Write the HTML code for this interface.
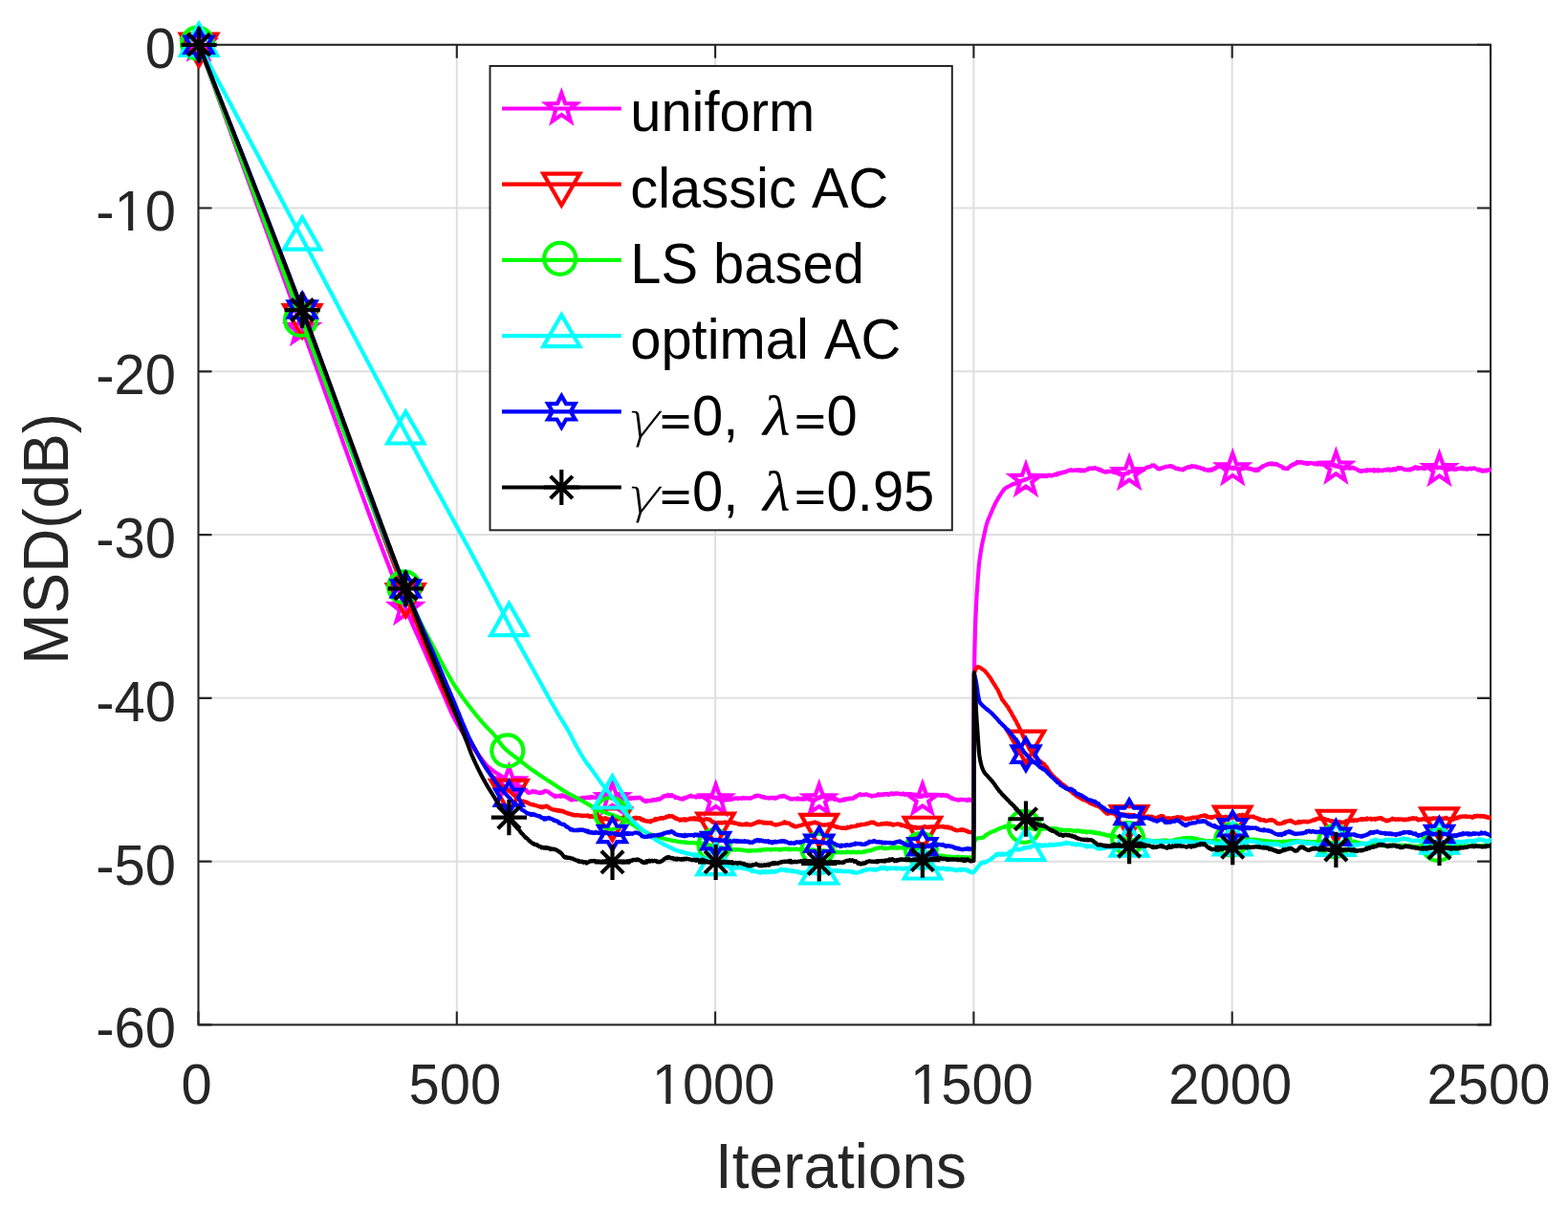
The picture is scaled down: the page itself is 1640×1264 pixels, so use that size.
<!DOCTYPE html>
<html lang="en">
<head>
<meta charset="utf-8">
<title>MSD(dB) versus Iterations</title>
<style>
html,body{margin:0;padding:0;background:#ffffff;}
body{width:1640px;height:1264px;overflow:hidden;}
svg{display:block;}
text{font-kerning:none;}
</style>
</head>
<body>
<svg width="1640" height="1264" viewBox="0 0 1640 1264" role="img" aria-label="MSD(dB) versus Iterations">
<rect x="0" y="0" width="1640" height="1264" fill="#ffffff"/>
<path d="M477.80 46.80V1071.40M748.10 46.80V1071.40M1018.40 46.80V1071.40M1288.70 46.80V1071.40M207.50 217.57H1559.00M207.50 388.33H1559.00M207.50 559.10H1559.00M207.50 729.87H1559.00M207.50 900.63H1559.00" stroke="#dfdfdf" stroke-width="2" fill="none"/>
<path d="M207.50 1071.40v-14.00M207.50 46.80v14.00M477.80 1071.40v-14.00M477.80 46.80v14.00M748.10 1071.40v-14.00M748.10 46.80v14.00M1018.40 1071.40v-14.00M1018.40 46.80v14.00M1288.70 1071.40v-14.00M1288.70 46.80v14.00M1559.00 1071.40v-14.00M1559.00 46.80v14.00M207.50 46.80h14.00M1559.00 46.80h-14.00M207.50 217.57h14.00M1559.00 217.57h-14.00M207.50 388.33h14.00M1559.00 388.33h-14.00M207.50 559.10h14.00M1559.00 559.10h-14.00M207.50 729.87h14.00M1559.00 729.87h-14.00M207.50 900.63h14.00M1559.00 900.63h-14.00M207.50 1071.40h14.00M1559.00 1071.40h-14.00" stroke="#262626" stroke-width="2.1" fill="none"/>
<rect x="207.50" y="46.80" width="1351.50" height="1024.60" fill="none" stroke="#262626" stroke-width="2.1"/>
<g font-family='"Liberation Sans", sans-serif' font-size="57.90" fill="#262626">
<text transform="translate(205.50 1154.10) scale(1 1.030)" text-anchor="middle">0</text>
<text transform="translate(475.80 1154.10) scale(1 1.030)" text-anchor="middle">500</text>
<text transform="translate(746.10 1154.10) scale(1 1.030)" text-anchor="middle">1000</text>
<text transform="translate(1016.40 1154.10) scale(1 1.030)" text-anchor="middle">1500</text>
<text transform="translate(1286.70 1154.10) scale(1 1.030)" text-anchor="middle">2000</text>
<text transform="translate(1557.00 1154.10) scale(1 1.030)" text-anchor="middle">2500</text>
<text transform="translate(183.90 70.70) scale(1 1.030)" text-anchor="end">0</text>
<text transform="translate(183.90 241.47) scale(1 1.030)" text-anchor="end">-10</text>
<text transform="translate(183.90 412.23) scale(1 1.030)" text-anchor="end">-20</text>
<text transform="translate(183.90 583.00) scale(1 1.030)" text-anchor="end">-30</text>
<text transform="translate(183.90 753.77) scale(1 1.030)" text-anchor="end">-40</text>
<text transform="translate(183.90 924.53) scale(1 1.030)" text-anchor="end">-50</text>
<text transform="translate(183.90 1095.30) scale(1 1.030)" text-anchor="end">-60</text>
</g>
<rect x="684.03" y="1148.30" width="12.29" height="7" fill="#ffffff"/><rect x="701.45" y="1148.30" width="12.11" height="7" fill="#ffffff"/>
<rect x="954.33" y="1148.30" width="12.29" height="7" fill="#ffffff"/><rect x="971.75" y="1148.30" width="12.11" height="7" fill="#ffffff"/>
<rect x="121.83" y="235.67" width="12.29" height="7" fill="#ffffff"/><rect x="139.25" y="235.67" width="12.11" height="7" fill="#ffffff"/>
<text transform="translate(879.50 1241.80) scale(1 1.030)" text-anchor="middle" font-family='"Liberation Sans", sans-serif' font-size="63.90" fill="#262626">Iterations</text>
<text transform="translate(71.30 563.30) rotate(-90) scale(1 1.030)" text-anchor="middle" font-family='"Liberation Sans", sans-serif' font-size="63.90" fill="#262626">MSD(dB)</text>
<defs><clipPath id="ax"><rect x="206.50" y="45.80" width="1353.50" height="1026.60"/></clipPath></defs>
<g>
<path clip-path="url(#ax)" d="M208.0 46.8L208.6 48.3L209.1 49.8L209.7 51.3L210.2 52.7L210.7 54.2L211.3 55.7L211.8 57.2L212.4 58.7L212.9 60.2L213.4 61.7L214.0 63.1L214.5 64.6L215.1 66.1L215.6 67.6L216.1 69.1L216.7 70.6L217.2 72.1L217.8 73.6L218.3 75.0L218.9 76.5L219.4 78.0L219.9 79.5L220.5 81.0L221.0 82.5L221.6 84.0L222.1 85.5L222.6 87.0L223.2 88.4L223.7 89.9L224.3 91.4L224.8 92.9L225.3 94.4L225.9 95.9L226.4 97.4L227.0 98.9L227.5 100.4L228.0 101.8L228.6 103.3L229.1 104.8L229.7 106.3L230.2 107.8L230.7 109.3L231.3 110.8L231.8 112.3L232.4 113.8L232.9 115.2L233.4 116.7L234.0 118.2L234.5 119.7L235.1 121.2L235.6 122.7L236.2 124.2L236.7 125.7L237.2 127.2L237.8 128.7L238.3 130.1L238.9 131.6L239.4 133.1L239.9 134.6L240.5 136.1L241.0 137.6L241.6 139.1L242.1 140.6L242.6 142.1L243.2 143.6L243.7 145.0L244.3 146.5L244.8 148.0L245.3 149.5L245.9 151.0L246.4 152.5L247.0 154.0L247.5 155.5L248.0 157.0L248.6 158.5L249.1 159.9L249.7 161.4L250.2 162.9L250.7 164.4L251.3 165.9L251.8 167.4L252.4 168.9L252.9 170.4L253.5 171.9L254.0 173.4L254.5 174.8L255.1 176.3L255.6 177.8L256.2 179.3L256.7 180.8L257.2 182.3L257.8 183.8L258.3 185.3L258.9 186.8L259.4 188.2L259.9 189.7L260.5 191.2L261.0 192.7L261.6 194.2L262.1 195.7L262.6 197.2L263.2 198.7L263.7 200.2L264.3 201.6L264.8 203.1L265.3 204.6L265.9 206.1L266.4 207.6L267.0 209.1L267.5 210.6L268.0 212.1L268.6 213.6L269.1 215.0L269.7 216.5L270.2 218.0L270.8 219.5L271.3 221.0L271.8 222.5L272.4 224.0L272.9 225.5L273.5 226.9L274.0 228.4L274.5 229.9L275.1 231.4L275.6 232.9L276.2 234.4L276.7 235.9L277.2 237.3L277.8 238.8L278.3 240.3L278.9 241.8L279.4 243.3L279.9 244.8L280.5 246.3L281.0 247.7L281.6 249.2L282.1 250.7L282.6 252.2L283.2 253.7L283.7 255.2L284.3 256.7L284.8 258.1L285.3 259.6L285.9 261.1L286.4 262.6L287.0 264.1L287.5 265.6L288.0 267.0L288.6 268.5L289.1 270.0L289.7 271.5L290.2 273.0L290.8 274.5L291.3 275.9L291.8 277.4L292.4 278.9L292.9 280.4L293.5 281.9L294.0 283.4L294.5 284.8L295.1 286.3L295.6 287.8L296.2 289.3L296.7 290.8L297.2 292.2L297.8 293.7L298.3 295.2L298.9 296.7L299.4 298.2L299.9 299.6L300.5 301.1L301.0 302.6L301.6 304.1L302.1 305.6L302.6 307.0L303.2 308.5L303.7 310.0L304.3 311.5L304.8 313.0L305.3 314.4L305.9 315.9L306.4 317.4L307.0 318.9L307.5 320.3L308.1 321.8L308.6 323.3L309.1 324.8L309.7 326.2L310.2 327.7L310.8 329.2L311.3 330.7L311.8 332.1L312.4 333.6L312.9 335.1L313.5 336.6L314.0 338.0L314.5 339.5L315.1 341.0L315.6 342.5L316.2 343.9L316.7 345.4L317.2 346.9L317.8 348.4L318.3 349.8L318.9 351.3L319.4 352.8L319.9 354.3L320.5 355.8L321.0 357.2L321.6 358.7L322.1 360.2L322.6 361.7L323.2 363.2L323.7 364.7L324.3 366.2L324.8 367.6L325.4 369.1L325.9 370.6L326.4 372.1L327.0 373.6L327.5 375.1L328.1 376.6L328.6 378.1L329.1 379.6L329.7 381.1L330.2 382.6L330.8 384.1L331.3 385.6L331.8 387.1L332.4 388.6L332.9 390.1L333.5 391.6L334.0 393.1L334.5 394.6L335.1 396.1L335.6 397.6L336.2 399.1L336.7 400.6L337.2 402.1L337.8 403.6L338.3 405.1L338.9 406.6L339.4 408.1L339.9 409.6L340.5 411.2L341.0 412.7L341.6 414.2L342.1 415.7L342.6 417.2L343.2 418.7L343.7 420.2L344.3 421.7L344.8 423.2L345.4 424.7L345.9 426.2L346.4 427.8L347.0 429.3L347.5 430.8L348.1 432.3L348.6 433.8L349.1 435.3L349.7 436.8L350.2 438.3L350.8 439.8L351.3 441.4L351.8 442.9L352.4 444.4L352.9 445.9L353.5 447.4L354.0 448.9L354.5 450.4L355.1 451.9L355.6 453.4L356.2 454.9L356.7 456.4L357.2 458.0L357.8 459.5L358.3 461.0L358.9 462.5L359.4 464.0L359.9 465.5L360.5 467.0L361.0 468.5L361.6 470.0L362.1 471.5L362.7 473.0L363.2 474.5L363.7 476.0L364.3 477.5L364.8 479.0L365.4 480.5L365.9 482.0L366.4 483.5L367.0 485.0L367.5 486.5L368.1 488.0L368.6 489.5L369.1 491.0L369.7 492.5L370.2 494.0L370.8 495.5L371.3 497.0L371.8 498.5L372.4 500.0L372.9 501.5L373.5 503.0L374.0 504.4L374.5 505.9L375.1 507.4L375.6 508.9L376.2 510.4L376.7 511.9L377.2 513.4L377.8 514.8L378.3 516.3L378.9 517.8L379.4 519.3L380.0 520.8L380.5 522.2L381.0 523.7L381.6 525.2L382.1 526.7L382.7 528.1L383.2 529.6L383.7 531.1L384.3 532.5L384.8 534.0L385.4 535.5L385.9 536.9L386.4 538.4L387.0 539.8L387.5 541.3L388.1 542.8L388.6 544.2L389.1 545.7L389.7 547.1L390.2 548.6L390.8 550.0L391.3 551.5L391.8 552.9L392.4 554.4L392.9 555.8L393.5 557.2L394.0 558.7L394.5 560.1L395.1 561.6L395.6 563.0L396.2 564.4L396.7 565.9L397.3 567.3L397.8 568.7L398.3 570.1L398.9 571.6L399.4 573.0L400.0 574.4L400.5 575.8L401.0 577.2L401.6 578.6L402.1 580.1L402.7 581.5L403.2 582.9L403.7 584.3L404.3 585.7L404.8 587.1L405.4 588.5L405.9 589.9L406.4 591.3L407.0 592.7L407.5 594.1L408.1 595.4L408.6 596.8L409.1 598.2L409.7 599.6L410.2 601.0L410.8 602.3L411.3 603.7L411.8 605.1L412.4 606.5L412.9 607.8L413.5 609.2L414.0 610.6L414.5 611.9L415.1 613.3L415.6 614.6L416.2 616.0L416.7 617.3L417.3 618.7L417.8 620.0L418.3 621.4L418.9 622.7L419.4 624.0L420.0 625.4L420.5 626.7L421.0 628.0L421.6 629.4L422.1 630.7L422.7 632.0L423.2 633.3L423.7 634.6L424.3 635.9L424.8 637.3L425.4 638.5L425.9 639.8L426.4 641.1L427.0 642.4L427.5 643.7L428.1 644.9L428.6 646.2L429.1 647.4L429.7 648.7L430.2 649.9L430.8 651.2L431.3 652.4L431.8 653.6L432.4 654.8L432.9 656.1L433.5 657.3L434.0 658.5L434.6 659.7L435.1 660.9L435.6 662.1L436.2 663.3L436.7 664.5L437.3 665.7L437.8 666.9L438.3 668.1L438.9 669.3L439.4 670.6L440.0 671.8L440.5 673.0L441.0 674.2L441.6 675.4L442.1 676.6L442.7 677.8L443.2 679.0L443.7 680.2L444.3 681.5L444.8 682.7L445.4 683.9L445.9 685.1L446.4 686.4L447.0 687.6L447.5 688.8L448.1 690.1L448.6 691.3L449.1 692.6L449.7 693.8L450.2 695.0L450.8 696.3L451.3 697.5L451.9 698.8L452.4 700.0L452.9 701.3L453.5 702.5L454.0 703.7L454.6 705.0L455.1 706.2L455.6 707.5L456.2 708.7L456.7 709.9L457.3 711.2L457.8 712.4L458.3 713.7L458.9 714.9L459.4 716.1L460.0 717.4L460.5 718.6L461.0 719.8L461.6 721.1L462.1 722.3L462.7 723.5L463.2 724.7L463.7 726.0L464.3 727.2L464.8 728.4L465.4 729.6L465.9 730.9L466.4 732.1L467.0 733.4L467.5 734.6L468.1 735.9L468.6 737.2L469.2 738.4L469.7 739.7L470.2 741.0L470.8 742.2L471.3 743.4L471.9 744.6L472.4 745.8L472.9 746.9L473.5 748.0L474.0 749.1L474.6 750.1L475.1 751.1L475.6 752.1L476.2 753.1L476.7 754.1L477.3 755.0L477.8 756.0L478.3 756.9L478.9 757.8L479.4 758.7L480.0 759.7L480.5 760.6L481.0 761.4L481.6 762.3L482.1 763.2L482.7 764.1L483.2 764.9L483.7 765.8L484.3 766.6L484.8 767.5L485.4 768.3L485.9 769.1L486.4 769.9L487.0 770.7L487.5 771.5L488.1 772.3L488.6 773.1L489.2 773.9L489.7 774.7L490.2 775.5L490.8 776.2L491.3 777.0L491.9 777.8L492.4 778.5L492.9 779.3L493.5 780.0L494.0 780.7L494.6 781.5L495.1 782.2L495.6 782.9L496.2 783.7L496.7 784.4L497.3 785.1L497.8 785.8L498.3 786.6L498.9 787.3L499.4 788.0L500.0 788.7L500.5 789.4L501.0 790.1L501.6 790.8L502.1 791.5L502.7 792.2L503.2 792.9L503.7 793.6L504.3 794.3L504.8 795.0L505.4 795.7L505.9 796.4L506.5 797.1L507.0 797.8L507.5 798.5L508.1 799.1L508.6 799.7L509.2 800.3L509.7 800.8L510.2 801.4L510.8 801.8L511.3 802.3L511.9 802.7L512.4 803.2L512.9 803.6L513.5 804.0L514.0 804.4L514.6 804.9L515.1 805.3L515.6 805.7L516.2 806.1L516.7 806.4L517.3 807.0L517.8 807.4L518.3 807.6L518.9 808.0L519.4 808.5L520.0 808.7L520.5 808.9L521.0 809.3L521.6 809.6L522.1 809.9L522.7 810.2L523.2 810.5L523.8 810.9L524.3 811.2L524.8 811.8L525.4 812.1L525.9 812.4L526.5 813.1L527.0 813.6L527.5 814.2L528.1 814.8L528.6 815.0L529.2 815.7L529.7 816.1L530.2 816.7L530.8 817.3L531.3 817.7L531.9 817.9L532.4 818.1L532.9 818.2L533.5 818.6L534.0 818.6L534.6 818.7L535.1 819.0L535.6 819.2L536.2 819.2L536.7 819.4L537.3 819.7L537.8 820.0L538.3 820.3L538.9 820.3L539.4 820.6L540.0 821.1L540.5 821.0L541.1 821.0L541.6 821.2L542.1 821.7L542.7 821.5L543.2 821.8L543.8 822.1L544.3 822.2L544.8 823.0L545.4 823.1L545.9 823.7L546.5 823.7L547.0 824.0L547.5 824.5L548.1 824.7L548.6 825.5L549.2 825.4L549.7 826.4L550.2 825.8L550.8 826.6L551.3 827.8L551.9 828.6L552.4 827.7L552.9 828.7L553.5 828.4L554.0 829.0L554.6 828.5L555.1 828.5L555.6 828.0L556.2 828.1L556.7 827.3L557.3 827.9L557.8 827.2L558.3 827.5L558.9 827.3L559.4 828.0L560.0 828.2L560.5 827.4L561.1 828.3L561.6 828.1L562.1 828.3L562.7 828.7L563.2 828.5L563.8 829.2L564.3 829.2L564.8 828.6L565.4 829.2L565.9 828.6L566.5 828.5L567.0 828.0L567.5 828.1L568.1 828.6L568.6 828.0L569.2 827.6L569.7 826.9L570.2 827.0L570.8 827.2L571.3 827.0L571.9 827.3L572.4 827.3L572.9 827.7L573.5 827.7L574.0 828.3L574.6 828.5L575.1 829.2L575.6 829.4L576.2 830.1L576.7 830.2L577.3 830.7L577.8 831.1L578.4 831.5L578.9 831.7L579.4 831.7L580.0 832.7L580.5 831.7L581.1 833.0L581.6 832.4L582.1 832.5L582.7 832.2L583.2 832.4L583.8 832.4L584.3 832.4L584.8 832.1L585.4 831.6L585.9 832.2L586.5 832.9L587.0 832.4L587.5 832.1L588.1 831.2L588.6 832.5L589.2 832.4L589.7 832.1L590.2 832.3L590.8 832.9L591.3 832.3L591.9 833.3L592.4 833.2L592.9 833.1L593.5 834.3L594.0 834.3L594.6 834.1L595.1 835.0L595.7 835.6L596.2 835.7L596.7 835.4L597.3 836.3L597.8 836.1L598.4 836.4L598.9 836.3L599.4 835.5L600.0 835.9L600.5 836.0L601.1 835.6L601.6 835.9L602.1 835.9L602.7 835.1L603.2 835.0L603.8 835.5L604.3 834.9L604.8 834.6L605.4 834.8L605.9 834.8L606.5 835.3L607.0 834.9L607.5 835.3L608.1 834.3L608.6 834.6L609.2 834.0L609.7 834.6L610.2 834.0L610.8 834.6L611.3 834.2L611.9 833.8L612.4 833.8L613.0 833.9L613.5 834.4L614.0 833.5L614.6 833.7L615.1 833.6L615.7 833.7L616.2 834.2L616.7 834.0L617.3 833.2L617.8 834.2L618.4 833.7L618.9 833.9L619.4 833.0L620.0 833.4L620.5 833.6L621.1 833.4L621.6 833.6L622.1 833.9L622.7 834.1L623.2 833.5L623.8 833.6L624.3 833.3L624.8 833.6L625.4 833.2L625.9 832.7L626.5 833.6L627.0 833.6L627.5 832.8L628.1 832.4L628.6 833.5L629.2 833.8L629.7 833.4L630.2 833.6L630.8 833.4L631.3 834.1L631.9 834.0L632.4 834.1L633.0 834.6L633.5 834.7L634.0 834.0L634.6 834.0L635.1 834.4L635.7 833.7L636.2 833.8L636.7 834.0L637.3 833.9L637.8 833.9L638.4 833.8L638.9 833.7L639.4 833.9L640.0 834.6L640.5 833.9L641.1 834.2L641.6 834.3L642.1 833.7L642.7 834.5L643.2 833.7L643.8 834.3L644.3 834.5L644.8 834.4L645.4 833.4L645.9 833.8L646.5 834.4L647.0 834.1L647.5 834.0L648.1 835.0L648.6 835.0L649.2 834.7L649.7 835.1L650.3 835.5L650.8 835.0L651.3 835.4L651.9 835.4L652.4 835.0L653.0 835.6L653.5 834.9L654.0 835.6L654.6 835.6L655.1 835.4L655.7 835.0L656.2 834.9L656.7 834.8L657.3 835.3L657.8 835.0L658.4 834.6L658.9 834.2L659.4 833.9L660.0 835.1L660.5 834.3L661.1 834.4L661.6 834.3L662.1 834.2L662.7 834.6L663.2 834.7L663.8 833.9L664.3 834.0L664.8 834.3L665.4 834.1L665.9 834.2L666.5 834.4L667.0 833.7L667.6 834.1L668.1 834.3L668.6 834.2L669.2 833.6L669.7 834.2L670.3 834.6L670.8 835.1L671.3 835.2L671.9 835.7L672.4 836.7L673.0 836.7L673.5 837.1L674.0 837.1L674.6 837.3L675.1 838.0L675.7 837.0L676.2 837.3L676.7 837.9L677.3 836.9L677.8 837.2L678.4 837.0L678.9 837.1L679.4 837.0L680.0 837.1L680.5 837.4L681.1 836.9L681.6 836.5L682.1 836.4L682.7 836.1L683.2 836.2L683.8 836.9L684.3 835.8L684.8 836.3L685.4 836.5L685.9 836.1L686.5 836.4L687.0 835.8L687.6 836.2L688.1 835.1L688.6 835.7L689.2 835.6L689.7 835.4L690.3 835.6L690.8 834.9L691.3 834.5L691.9 834.0L692.4 834.3L693.0 833.3L693.5 832.6L694.0 832.9L694.6 832.6L695.1 832.2L695.7 832.5L696.2 832.2L696.7 831.7L697.3 831.9L697.8 832.3L698.4 832.4L698.9 831.0L699.4 831.6L700.0 832.2L700.5 831.6L701.1 831.4L701.6 831.6L702.1 832.2L702.7 831.1L703.2 831.7L703.8 832.2L704.3 832.1L704.9 832.7L705.4 833.0L705.9 832.9L706.5 834.1L707.0 833.4L707.6 833.8L708.1 833.9L708.6 834.0L709.2 834.0L709.7 834.2L710.3 834.6L710.8 835.1L711.3 834.8L711.9 835.3L712.4 835.4L713.0 835.0L713.5 834.9L714.0 834.6L714.6 835.6L715.1 834.6L715.7 834.4L716.2 834.4L716.7 833.8L717.3 834.3L717.8 833.7L718.4 833.7L718.9 833.3L719.4 833.3L720.0 832.8L720.5 832.3L721.1 832.3L721.6 832.1L722.2 832.5L722.7 831.8L723.2 832.6L723.8 832.5L724.3 832.5L724.9 832.9L725.4 832.7L725.9 833.0L726.5 832.7L727.0 833.1L727.6 833.2L728.1 833.6L728.6 833.1L729.2 832.9L729.7 833.0L730.3 833.3L730.8 833.1L731.3 832.9L731.9 832.8L732.4 833.2L733.0 832.1L733.5 832.8L734.0 832.7L734.6 833.0L735.1 832.9L735.7 832.4L736.2 833.5L736.7 833.5L737.3 833.8L737.8 833.7L738.4 833.2L738.9 833.9L739.5 833.9L740.0 834.3L740.5 833.8L741.1 833.5L741.6 833.7L742.2 833.6L742.7 833.1L743.2 833.2L743.8 833.3L744.3 833.6L744.9 833.8L745.4 832.9L745.9 834.0L746.5 833.4L747.0 833.8L747.6 834.2L748.1 833.8L748.6 834.5L749.2 834.0L749.7 834.9L750.3 834.6L750.8 834.4L751.3 835.3L751.9 834.4L752.4 834.9L753.0 836.0L753.5 834.9L754.0 834.8L754.6 835.5L755.1 835.5L755.7 835.4L756.2 836.1L756.7 835.5L757.3 835.3L757.8 835.8L758.4 835.3L758.9 835.0L759.5 836.4L760.0 836.4L760.5 836.1L761.1 835.7L761.6 835.8L762.2 836.2L762.7 836.3L763.2 836.1L763.8 835.3L764.3 836.1L764.9 835.9L765.4 835.3L765.9 835.5L766.5 835.6L767.0 834.7L767.6 834.9L768.1 835.1L768.6 834.9L769.2 834.3L769.7 834.7L770.3 834.5L770.8 834.3L771.3 834.3L771.9 835.2L772.4 834.8L773.0 834.8L773.5 834.7L774.0 834.5L774.6 834.3L775.1 834.8L775.7 835.0L776.2 834.5L776.8 834.7L777.3 833.9L777.8 834.3L778.4 834.4L778.9 834.1L779.5 834.7L780.0 834.6L780.5 834.6L781.1 834.4L781.6 834.2L782.2 834.4L782.7 834.4L783.2 834.8L783.8 834.6L784.3 834.7L784.9 834.2L785.4 834.7L785.9 834.3L786.5 834.0L787.0 833.5L787.6 833.7L788.1 833.3L788.6 833.2L789.2 833.0L789.7 832.0L790.3 832.0L790.8 832.4L791.3 832.1L791.9 831.6L792.4 832.0L793.0 832.2L793.5 831.6L794.1 832.2L794.6 832.4L795.1 832.2L795.7 832.8L796.2 832.7L796.8 832.9L797.3 832.9L797.8 833.5L798.4 833.1L798.9 833.5L799.5 833.1L800.0 833.8L800.5 834.1L801.1 834.2L801.6 834.4L802.2 834.1L802.7 834.2L803.2 834.0L803.8 834.3L804.3 834.6L804.9 834.0L805.4 834.5L805.9 834.3L806.5 833.9L807.0 833.9L807.6 834.5L808.1 834.3L808.6 833.8L809.2 833.9L809.7 834.1L810.3 833.9L810.8 834.9L811.4 834.3L811.9 834.6L812.4 834.2L813.0 834.0L813.5 833.6L814.1 833.2L814.6 833.1L815.1 833.0L815.7 833.0L816.2 832.3L816.8 832.4L817.3 833.0L817.8 832.3L818.4 832.1L818.9 832.6L819.5 832.2L820.0 831.9L820.5 832.6L821.1 832.6L821.6 832.8L822.2 833.3L822.7 833.4L823.2 833.8L823.8 833.9L824.3 834.4L824.9 834.1L825.4 834.7L825.9 834.7L826.5 835.5L827.0 835.3L827.6 835.2L828.1 835.2L828.6 835.6L829.2 835.3L829.7 835.1L830.3 835.2L830.8 835.1L831.4 834.8L831.9 835.2L832.4 835.4L833.0 835.0L833.5 834.7L834.1 835.6L834.6 834.5L835.1 835.0L835.7 835.0L836.2 835.6L836.8 835.4L837.3 834.9L837.8 834.9L838.4 835.4L838.9 835.7L839.5 835.6L840.0 835.1L840.5 835.6L841.1 835.6L841.6 835.2L842.2 834.7L842.7 835.3L843.2 834.8L843.8 834.7L844.3 834.8L844.9 834.9L845.4 834.7L845.9 834.9L846.5 835.6L847.0 834.7L847.6 835.2L848.1 835.3L848.7 835.7L849.2 835.7L849.7 836.5L850.3 835.9L850.8 835.6L851.4 835.6L851.9 836.0L852.4 836.5L853.0 835.9L853.5 835.5L854.1 834.7L854.6 835.4L855.1 834.5L855.7 834.0L856.2 833.7L856.8 833.7L857.3 834.3L857.8 833.1L858.4 833.1L858.9 832.9L859.5 833.3L860.0 833.2L860.5 832.5L861.1 833.1L861.6 833.1L862.2 833.4L862.7 832.9L863.2 833.9L863.8 833.7L864.3 833.5L864.9 833.7L865.4 833.5L866.0 833.8L866.5 833.5L867.0 834.2L867.6 834.2L868.1 834.2L868.7 835.0L869.2 834.1L869.7 835.0L870.3 834.4L870.8 834.5L871.4 834.7L871.9 835.1L872.4 835.5L873.0 836.1L873.5 835.3L874.1 835.7L874.6 835.3L875.1 836.1L875.7 836.0L876.2 836.5L876.8 836.4L877.3 836.8L877.8 836.8L878.4 837.4L878.9 837.1L879.5 836.8L880.0 836.3L880.5 836.5L881.1 836.8L881.6 835.8L882.2 836.0L882.7 835.5L883.2 835.9L883.8 836.5L884.3 835.6L884.9 835.5L885.4 835.0L886.0 835.5L886.5 835.3L887.0 835.4L887.6 834.9L888.1 835.3L888.7 834.5L889.2 834.7L889.7 834.7L890.3 835.0L890.8 834.8L891.4 834.5L891.9 834.9L892.4 834.1L893.0 834.3L893.5 833.6L894.1 833.0L894.6 832.9L895.1 833.4L895.7 832.2L896.2 832.3L896.8 832.0L897.3 831.5L897.8 831.5L898.4 830.7L898.9 830.9L899.5 830.2L900.0 830.4L900.5 831.4L901.1 830.9L901.6 831.0L902.2 831.0L902.7 831.0L903.3 830.7L903.8 830.8L904.3 831.1L904.9 830.6L905.4 830.4L906.0 830.7L906.5 830.4L907.0 830.7L907.6 831.2L908.1 831.3L908.7 831.3L909.2 831.3L909.7 831.6L910.3 831.5L910.8 831.6L911.4 832.5L911.9 832.6L912.4 832.3L913.0 832.1L913.5 831.9L914.1 831.9L914.6 831.8L915.1 832.1L915.7 831.6L916.2 831.8L916.8 831.3L917.3 831.1L917.8 831.5L918.4 831.3L918.9 830.3L919.5 831.3L920.0 831.2L920.6 831.3L921.1 831.3L921.6 830.4L922.2 830.8L922.7 830.7L923.3 830.6L923.8 831.2L924.3 830.1L924.9 830.5L925.4 830.4L926.0 829.9L926.5 830.5L927.0 830.4L927.6 830.4L928.1 830.0L928.7 830.8L929.2 830.5L929.7 830.9L930.3 830.1L930.8 829.9L931.4 830.2L931.9 829.4L932.4 829.8L933.0 829.5L933.5 830.1L934.1 829.6L934.6 830.4L935.1 830.0L935.7 830.0L936.2 830.1L936.8 829.3L937.3 829.4L937.9 829.9L938.4 829.5L938.9 829.7L939.5 829.7L940.0 829.6L940.6 830.1L941.1 829.9L941.6 830.0L942.2 830.4L942.7 830.4L943.3 830.0L943.8 830.3L944.3 829.5L944.9 829.6L945.4 830.5L946.0 830.1L946.5 830.8L947.0 830.4L947.6 830.4L948.1 830.4L948.7 830.9L949.2 830.1L949.7 830.2L950.3 830.6L950.8 830.4L951.4 830.1L951.9 830.0L952.4 831.0L953.0 830.2L953.5 831.4L954.1 831.2L954.6 831.1L955.1 830.6L955.7 831.0L956.2 831.1L956.8 830.9L957.3 831.5L957.9 831.9L958.4 831.5L958.9 832.2L959.5 832.8L960.0 833.1L960.6 832.6L961.1 832.1L961.6 832.6L962.2 832.8L962.7 832.3L963.3 833.1L963.8 832.4L964.3 832.5L964.9 831.7L965.4 832.3L966.0 831.6L966.5 831.7L967.0 831.6L967.6 831.4L968.1 831.6L968.7 831.0L969.2 831.5L969.7 832.2L970.3 831.0L970.8 831.0L971.4 831.3L971.9 831.0L972.4 831.3L973.0 831.8L973.5 832.2L974.1 831.9L974.6 831.7L975.2 831.5L975.7 832.1L976.2 831.9L976.8 831.2L977.3 831.9L977.9 831.9L978.4 831.9L978.9 831.1L979.5 831.3L980.0 831.3L980.6 831.1L981.1 831.3L981.6 831.2L982.2 831.5L982.7 831.3L983.3 831.4L983.8 831.4L984.3 832.0L984.9 831.7L985.4 831.7L986.0 831.8L986.5 831.6L987.0 831.0L987.6 831.3L988.1 831.6L988.7 831.5L989.2 831.2L989.7 832.2L990.3 831.8L990.8 831.6L991.4 831.7L991.9 832.3L992.5 832.6L993.0 833.6L993.5 833.5L994.1 833.5L994.6 833.6L995.2 833.9L995.7 835.0L996.2 834.7L996.8 834.8L997.3 835.4L997.9 835.5L998.4 835.5L998.9 835.8L999.5 836.0L1000.0 836.0L1000.6 835.9L1001.1 836.4L1001.6 836.6L1002.2 836.4L1002.7 836.2L1003.3 836.0L1003.8 836.5L1004.3 836.2L1004.9 836.1L1005.4 835.6L1006.0 835.9L1006.5 836.2L1007.0 835.9L1007.6 836.2L1008.1 836.3L1008.7 836.1L1009.2 836.3L1009.8 836.4L1010.3 836.2L1010.8 836.6L1011.4 836.4L1011.9 837.1L1012.5 836.5L1013.0 835.8L1013.5 836.4L1014.1 836.3L1014.6 836.5L1015.2 836.7L1015.7 836.2L1015.8 836.4L1018.4 836.5L1018.9 702.5L1019.5 677.1L1020.0 656.0L1020.6 642.0L1021.1 631.1L1021.6 622.0L1022.2 613.8L1022.7 605.8L1023.3 598.4L1023.8 592.2L1024.3 587.3L1024.9 583.1L1025.4 579.3L1026.0 575.9L1026.5 572.8L1027.0 569.9L1027.6 567.2L1028.1 564.6L1028.7 562.2L1029.2 559.7L1029.8 557.3L1030.3 554.8L1030.8 552.4L1031.4 550.2L1031.9 548.2L1032.5 546.4L1033.0 544.9L1033.5 543.4L1034.1 542.1L1034.6 540.8L1035.2 539.6L1035.7 538.4L1036.2 537.1L1036.8 535.9L1037.3 534.6L1037.9 533.3L1038.4 532.0L1038.9 530.8L1039.5 529.6L1040.0 528.4L1040.6 527.3L1041.1 526.2L1041.6 525.1L1042.2 524.1L1042.7 523.2L1043.3 522.2L1043.8 521.2L1044.3 520.5L1044.9 519.5L1045.4 518.7L1046.0 517.8L1046.5 517.0L1047.1 516.0L1047.6 515.2L1048.1 514.5L1048.7 513.7L1049.2 513.0L1049.8 512.2L1050.3 511.6L1050.8 511.0L1051.4 510.6L1051.9 510.2L1052.5 509.8L1053.0 509.4L1053.5 509.2L1054.1 509.0L1054.6 508.5L1055.2 508.5L1055.7 508.2L1056.2 507.8L1056.8 507.5L1057.3 507.1L1057.9 507.2L1058.4 506.5L1058.9 506.2L1059.5 506.3L1060.0 506.0L1060.6 505.9L1061.1 505.7L1061.6 505.6L1062.2 505.5L1062.7 505.1L1063.3 504.8L1063.8 504.4L1064.4 504.7L1064.9 504.7L1065.4 504.1L1066.0 504.0L1066.5 503.6L1067.1 503.5L1067.6 503.4L1068.1 503.1L1068.7 502.5L1069.2 502.3L1069.8 502.4L1070.3 501.8L1070.8 502.1L1071.4 501.7L1071.9 501.4L1072.5 501.6L1073.0 501.4L1073.5 500.9L1074.1 500.8L1074.6 500.6L1075.2 500.4L1075.7 500.3L1076.2 500.0L1076.8 498.7L1077.3 499.5L1077.9 498.6L1078.4 499.0L1078.9 498.3L1079.5 498.2L1080.0 498.3L1080.6 498.5L1081.1 498.6L1081.7 497.8L1082.2 498.4L1082.7 498.3L1083.3 497.3L1083.8 497.2L1084.4 497.6L1084.9 497.6L1085.4 497.7L1086.0 497.4L1086.5 497.6L1087.1 498.0L1087.6 497.8L1088.1 497.5L1088.7 498.1L1089.2 497.9L1089.8 497.6L1090.3 497.1L1090.8 497.6L1091.4 497.7L1091.9 497.1L1092.5 498.0L1093.0 497.8L1093.5 497.3L1094.1 497.1L1094.6 497.2L1095.2 498.1L1095.7 497.0L1096.2 496.9L1096.8 497.1L1097.3 496.8L1097.9 496.6L1098.4 497.0L1098.9 497.3L1099.5 497.6L1100.0 496.9L1100.6 497.1L1101.1 496.9L1101.7 497.0L1102.2 496.4L1102.7 496.2L1103.3 496.1L1103.8 496.4L1104.4 495.6L1104.9 495.7L1105.4 496.4L1106.0 495.2L1106.5 495.9L1107.1 495.4L1107.6 494.5L1108.1 494.5L1108.7 494.7L1109.2 494.7L1109.8 494.1L1110.3 494.7L1110.8 493.8L1111.4 494.0L1111.9 493.5L1112.5 493.7L1113.0 493.9L1113.5 493.3L1114.1 493.3L1114.6 493.5L1115.2 493.2L1115.7 493.0L1116.2 492.4L1116.8 492.0L1117.3 492.0L1117.9 492.2L1118.4 491.8L1119.0 491.4L1119.5 491.2L1120.0 491.8L1120.6 491.4L1121.1 491.6L1121.7 492.1L1122.2 491.9L1122.7 491.6L1123.3 491.6L1123.8 491.5L1124.4 491.6L1124.9 491.3L1125.4 491.7L1126.0 491.9L1126.5 491.3L1127.1 491.7L1127.6 491.3L1128.1 491.9L1128.7 491.3L1129.2 492.2L1129.8 492.3L1130.3 491.7L1130.8 491.4L1131.4 492.3L1131.9 491.5L1132.5 491.5L1133.0 491.7L1133.5 491.9L1134.1 492.4L1134.6 492.1L1135.2 491.7L1135.7 491.1L1136.3 491.1L1136.8 491.0L1137.3 490.5L1137.9 490.9L1138.4 490.0L1139.0 490.3L1139.5 489.4L1140.0 489.6L1140.6 489.8L1141.1 489.7L1141.7 490.0L1142.2 489.5L1142.7 489.9L1143.3 489.6L1143.8 489.3L1144.4 489.6L1144.9 489.6L1145.4 489.0L1146.0 489.6L1146.5 489.5L1147.1 490.0L1147.6 490.4L1148.1 490.1L1148.7 490.7L1149.2 491.4L1149.8 490.5L1150.3 490.8L1150.8 491.6L1151.4 491.1L1151.9 491.9L1152.5 492.3L1153.0 492.7L1153.5 492.3L1154.1 493.0L1154.6 493.1L1155.2 493.2L1155.7 493.3L1156.3 493.6L1156.8 493.3L1157.3 493.3L1157.9 492.8L1158.4 493.4L1159.0 492.7L1159.5 493.0L1160.0 493.1L1160.6 492.8L1161.1 492.7L1161.7 492.7L1162.2 492.5L1162.7 492.7L1163.3 493.3L1163.8 493.1L1164.4 492.5L1164.9 493.2L1165.4 494.1L1166.0 493.5L1166.5 493.2L1167.1 493.6L1167.6 494.2L1168.1 494.4L1168.7 494.5L1169.2 495.0L1169.8 495.3L1170.3 494.9L1170.8 495.7L1171.4 495.3L1171.9 496.3L1172.5 496.1L1173.0 496.2L1173.6 495.7L1174.1 496.0L1174.6 495.9L1175.2 495.9L1175.7 495.5L1176.3 495.1L1176.8 495.5L1177.3 495.0L1177.9 495.0L1178.4 495.0L1179.0 494.4L1179.5 493.9L1180.0 494.9L1180.6 493.6L1181.1 493.0L1181.7 493.4L1182.2 493.0L1182.7 492.8L1183.3 492.8L1183.8 492.8L1184.4 492.5L1184.9 492.6L1185.4 492.9L1186.0 492.8L1186.5 493.4L1187.1 493.3L1187.6 493.3L1188.1 493.4L1188.7 493.6L1189.2 493.0L1189.8 493.3L1190.3 493.1L1190.9 493.7L1191.4 493.3L1191.9 493.3L1192.5 492.9L1193.0 492.2L1193.6 491.7L1194.1 492.2L1194.6 492.0L1195.2 491.8L1195.7 491.6L1196.3 490.7L1196.8 490.7L1197.3 490.4L1197.9 489.5L1198.4 489.4L1199.0 488.9L1199.5 488.7L1200.0 488.3L1200.6 488.4L1201.1 488.2L1201.7 488.4L1202.2 488.3L1202.7 487.9L1203.3 487.7L1203.8 487.4L1204.4 487.2L1204.9 486.4L1205.4 487.0L1206.0 486.7L1206.5 486.8L1207.1 486.5L1207.6 487.4L1208.2 487.9L1208.7 487.6L1209.2 488.2L1209.8 488.8L1210.3 489.6L1210.9 489.3L1211.4 489.8L1211.9 490.3L1212.5 490.3L1213.0 490.3L1213.6 489.6L1214.1 489.9L1214.6 490.0L1215.2 489.7L1215.7 488.9L1216.3 488.9L1216.8 489.1L1217.3 489.0L1217.9 488.5L1218.4 488.1L1219.0 488.1L1219.5 488.0L1220.0 487.7L1220.6 487.7L1221.1 487.8L1221.7 487.8L1222.2 487.6L1222.7 487.4L1223.3 487.1L1223.8 487.2L1224.4 487.6L1224.9 487.1L1225.4 488.0L1226.0 487.5L1226.5 488.5L1227.1 488.5L1227.6 488.4L1228.2 488.6L1228.7 489.4L1229.2 489.4L1229.8 489.9L1230.3 489.8L1230.9 489.7L1231.4 490.1L1231.9 489.6L1232.5 490.0L1233.0 490.1L1233.6 490.7L1234.1 490.7L1234.6 490.7L1235.2 490.7L1235.7 490.8L1236.3 491.2L1236.8 491.3L1237.3 491.4L1237.9 490.1L1238.4 490.2L1239.0 489.9L1239.5 490.1L1240.0 489.1L1240.6 489.2L1241.1 489.0L1241.7 488.9L1242.2 489.0L1242.7 488.1L1243.3 488.2L1243.8 488.1L1244.4 488.5L1244.9 488.6L1245.5 488.2L1246.0 487.5L1246.5 487.0L1247.1 487.8L1247.6 487.6L1248.2 488.0L1248.7 487.8L1249.2 487.5L1249.8 488.0L1250.3 487.9L1250.9 487.7L1251.4 488.4L1251.9 488.9L1252.5 488.1L1253.0 488.6L1253.6 488.8L1254.1 488.8L1254.6 489.0L1255.2 488.8L1255.7 489.6L1256.3 489.3L1256.8 489.9L1257.3 489.8L1257.9 489.8L1258.4 490.4L1259.0 490.0L1259.5 490.9L1260.0 491.3L1260.6 491.1L1261.1 491.3L1261.7 491.4L1262.2 491.5L1262.8 491.6L1263.3 491.2L1263.8 492.0L1264.4 491.3L1264.9 491.7L1265.5 491.5L1266.0 491.7L1266.5 490.8L1267.1 491.8L1267.6 491.3L1268.2 490.8L1268.7 490.2L1269.2 490.6L1269.8 489.7L1270.3 489.3L1270.9 489.6L1271.4 489.9L1271.9 488.6L1272.5 488.6L1273.0 488.4L1273.6 487.9L1274.1 487.9L1274.6 488.2L1275.2 487.9L1275.7 488.1L1276.3 487.7L1276.8 487.9L1277.3 487.7L1277.9 488.2L1278.4 488.1L1279.0 488.2L1279.5 488.3L1280.1 488.6L1280.6 489.5L1281.1 488.9L1281.7 489.5L1282.2 488.9L1282.8 489.4L1283.3 489.4L1283.8 489.7L1284.4 488.9L1284.9 489.7L1285.5 489.0L1286.0 488.9L1286.5 488.4L1287.1 488.9L1287.6 489.4L1288.2 489.6L1288.7 489.6L1289.2 489.8L1289.8 488.9L1290.3 489.2L1290.9 489.7L1291.4 489.1L1291.9 489.3L1292.5 489.1L1293.0 489.3L1293.6 489.9L1294.1 489.6L1294.6 489.4L1295.2 489.7L1295.7 489.8L1296.3 490.3L1296.8 490.1L1297.3 489.9L1297.9 489.6L1298.4 490.0L1299.0 489.9L1299.5 489.0L1300.1 490.0L1300.6 489.7L1301.1 489.8L1301.7 489.5L1302.2 489.2L1302.8 489.2L1303.3 489.3L1303.8 489.0L1304.4 489.5L1304.9 489.3L1305.5 490.0L1306.0 489.4L1306.5 490.1L1307.1 489.6L1307.6 490.5L1308.2 490.3L1308.7 490.4L1309.2 490.6L1309.8 490.9L1310.3 490.5L1310.9 491.0L1311.4 491.6L1311.9 491.5L1312.5 491.0L1313.0 491.7L1313.6 490.8L1314.1 491.4L1314.6 491.7L1315.2 490.7L1315.7 491.0L1316.3 491.7L1316.8 490.2L1317.4 490.3L1317.9 489.5L1318.4 489.0L1319.0 488.6L1319.5 488.5L1320.1 488.6L1320.6 487.3L1321.1 487.3L1321.7 487.0L1322.2 487.2L1322.8 486.7L1323.3 486.2L1323.8 486.1L1324.4 485.8L1324.9 485.9L1325.5 486.0L1326.0 485.2L1326.5 485.2L1327.1 484.7L1327.6 484.6L1328.2 485.0L1328.7 485.1L1329.2 484.6L1329.8 484.8L1330.3 485.4L1330.9 484.5L1331.4 485.0L1331.9 485.2L1332.5 485.6L1333.0 485.3L1333.6 485.0L1334.1 485.1L1334.7 484.8L1335.2 485.1L1335.7 485.8L1336.3 485.8L1336.8 486.0L1337.4 486.4L1337.9 486.6L1338.4 487.0L1339.0 487.3L1339.5 487.3L1340.1 487.5L1340.6 487.5L1341.1 488.4L1341.7 488.6L1342.2 489.7L1342.8 489.0L1343.3 489.1L1343.8 489.6L1344.4 489.6L1344.9 490.0L1345.5 490.0L1346.0 490.2L1346.5 489.9L1347.1 490.0L1347.6 488.7L1348.2 488.5L1348.7 488.3L1349.2 487.9L1349.8 487.0L1350.3 486.8L1350.9 486.8L1351.4 486.1L1352.0 485.7L1352.5 485.4L1353.0 485.1L1353.6 485.5L1354.1 485.0L1354.7 485.2L1355.2 484.2L1355.7 484.2L1356.3 484.3L1356.8 483.0L1357.4 483.2L1357.9 483.6L1358.4 483.1L1359.0 483.5L1359.5 483.0L1360.1 483.1L1360.6 483.6L1361.1 483.3L1361.7 483.1L1362.2 483.4L1362.8 484.2L1363.3 483.8L1363.8 483.8L1364.4 484.1L1364.9 483.8L1365.5 484.5L1366.0 485.0L1366.5 483.8L1367.1 484.7L1367.6 484.3L1368.2 484.8L1368.7 484.0L1369.2 484.7L1369.8 484.3L1370.3 484.4L1370.9 483.9L1371.4 483.8L1372.0 484.2L1372.5 484.1L1373.0 484.4L1373.6 484.4L1374.1 484.8L1374.7 484.4L1375.2 485.3L1375.7 484.5L1376.3 484.8L1376.8 484.9L1377.4 484.5L1377.9 485.6L1378.4 485.3L1379.0 484.8L1379.5 485.1L1380.1 484.9L1380.6 485.2L1381.1 485.6L1381.7 485.1L1382.2 485.3L1382.8 485.3L1383.3 485.4L1383.8 485.0L1384.4 485.9L1384.9 485.8L1385.5 485.2L1386.0 485.9L1386.5 485.5L1387.1 485.1L1387.6 485.4L1388.2 485.3L1388.7 485.5L1389.3 486.1L1389.8 485.4L1390.3 485.4L1390.9 485.6L1391.4 485.9L1392.0 485.8L1392.5 485.7L1393.0 486.2L1393.6 486.3L1394.1 486.6L1394.7 486.2L1395.2 486.9L1395.7 486.8L1396.3 486.3L1396.8 487.5L1397.4 487.3L1397.9 486.8L1398.4 487.4L1399.0 487.0L1399.5 488.0L1400.1 488.1L1400.6 487.6L1401.1 488.4L1401.7 488.3L1402.2 488.5L1402.8 488.2L1403.3 489.1L1403.8 488.9L1404.4 488.8L1404.9 488.8L1405.5 489.2L1406.0 489.1L1406.6 489.6L1407.1 488.9L1407.6 489.3L1408.2 489.2L1408.7 488.9L1409.3 489.3L1409.8 489.4L1410.3 489.1L1410.9 488.9L1411.4 489.7L1412.0 489.8L1412.5 489.0L1413.0 489.3L1413.6 489.2L1414.1 488.6L1414.7 489.3L1415.2 489.4L1415.7 489.0L1416.3 489.8L1416.8 489.6L1417.4 489.9L1417.9 489.9L1418.4 490.2L1419.0 490.9L1419.5 490.9L1420.1 491.3L1420.6 491.8L1421.1 491.5L1421.7 492.0L1422.2 492.4L1422.8 492.7L1423.3 492.5L1423.8 492.8L1424.4 492.3L1424.9 492.1L1425.5 492.5L1426.0 492.5L1426.6 492.3L1427.1 491.8L1427.6 492.2L1428.2 491.7L1428.7 492.0L1429.3 492.5L1429.8 491.2L1430.3 491.4L1430.9 491.7L1431.4 491.6L1432.0 491.6L1432.5 491.1L1433.0 491.7L1433.6 491.5L1434.1 491.7L1434.7 491.8L1435.2 491.5L1435.7 491.5L1436.3 491.8L1436.8 490.9L1437.4 492.6L1437.9 491.2L1438.4 492.1L1439.0 492.0L1439.5 491.5L1440.1 491.5L1440.6 491.3L1441.1 492.3L1441.7 491.2L1442.2 492.2L1442.8 491.8L1443.3 491.6L1443.9 492.0L1444.4 492.0L1444.9 491.7L1445.5 492.0L1446.0 492.3L1446.6 491.5L1447.1 491.4L1447.6 491.5L1448.2 491.4L1448.7 491.0L1449.3 491.0L1449.8 490.8L1450.3 491.0L1450.9 491.6L1451.4 490.7L1452.0 490.7L1452.5 490.6L1453.0 490.5L1453.6 491.4L1454.1 492.0L1454.7 490.8L1455.2 490.9L1455.7 491.2L1456.3 491.5L1456.8 490.5L1457.4 491.1L1457.9 490.2L1458.4 490.7L1459.0 490.3L1459.5 491.3L1460.1 490.1L1460.6 490.4L1461.2 490.5L1461.7 490.0L1462.2 488.8L1462.8 489.8L1463.3 490.1L1463.9 489.2L1464.4 489.8L1464.9 489.6L1465.5 489.1L1466.0 489.5L1466.6 489.7L1467.1 489.8L1467.6 490.3L1468.2 490.9L1468.7 490.7L1469.3 491.0L1469.8 491.0L1470.3 491.1L1470.9 491.0L1471.4 490.9L1472.0 491.4L1472.5 491.3L1473.0 491.1L1473.6 490.7L1474.1 491.2L1474.7 491.6L1475.2 490.4L1475.7 491.0L1476.3 490.5L1476.8 490.3L1477.4 489.7L1477.9 490.3L1478.5 489.1L1479.0 489.5L1479.5 488.9L1480.1 489.3L1480.6 488.2L1481.2 489.2L1481.7 489.4L1482.2 489.5L1482.8 490.1L1483.3 488.8L1483.9 489.7L1484.4 489.2L1484.9 488.9L1485.5 489.0L1486.0 489.2L1486.6 489.4L1487.1 489.0L1487.6 489.3L1488.2 489.8L1488.7 489.7L1489.3 489.2L1489.8 489.1L1490.3 490.1L1490.9 489.2L1491.4 489.3L1492.0 488.8L1492.5 489.0L1493.0 489.1L1493.6 488.6L1494.1 488.5L1494.7 488.4L1495.2 488.8L1495.7 488.6L1496.3 488.1L1496.8 488.7L1497.4 488.9L1497.9 488.5L1498.5 488.9L1499.0 488.3L1499.5 488.9L1500.1 488.7L1500.6 488.2L1501.2 488.9L1501.7 488.8L1502.2 488.6L1502.8 488.6L1503.3 489.3L1503.9 488.5L1504.4 489.0L1504.9 488.9L1505.5 488.7L1506.0 488.7L1506.6 488.9L1507.1 488.7L1507.6 489.0L1508.2 489.4L1508.7 489.5L1509.3 489.3L1509.8 489.4L1510.3 489.2L1510.9 489.9L1511.4 489.2L1512.0 489.1L1512.5 489.2L1513.0 489.6L1513.6 490.1L1514.1 489.1L1514.7 490.2L1515.2 490.2L1515.8 490.1L1516.3 490.7L1516.8 490.7L1517.4 490.3L1517.9 490.0L1518.5 490.5L1519.0 490.3L1519.5 490.3L1520.1 490.4L1520.6 490.8L1521.2 490.2L1521.7 490.6L1522.2 490.8L1522.8 490.8L1523.3 490.0L1523.9 490.2L1524.4 490.4L1524.9 489.7L1525.5 489.7L1526.0 489.8L1526.6 490.1L1527.1 489.7L1527.6 489.6L1528.2 490.0L1528.7 488.8L1529.3 489.7L1529.8 490.1L1530.3 490.3L1530.9 489.5L1531.4 490.0L1532.0 490.1L1532.5 490.4L1533.1 490.0L1533.6 490.1L1534.1 490.6L1534.7 490.4L1535.2 490.7L1535.8 490.1L1536.3 490.1L1536.8 489.7L1537.4 489.7L1537.9 489.5L1538.5 490.3L1539.0 489.9L1539.5 490.0L1540.1 490.1L1540.6 489.9L1541.2 489.4L1541.7 489.5L1542.2 489.4L1542.8 489.9L1543.3 490.0L1543.9 490.4L1544.4 490.6L1544.9 490.8L1545.5 491.1L1546.0 491.4L1546.6 491.1L1547.1 490.8L1547.6 491.7L1548.2 491.9L1548.7 491.2L1549.3 491.7L1549.8 492.3L1550.4 491.9L1550.9 492.6L1551.4 491.8L1552.0 492.1L1552.5 492.4L1553.1 492.0L1553.6 492.2L1554.1 491.5L1554.7 492.2L1555.2 491.7L1555.8 492.1L1556.3 491.6L1556.8 491.3L1557.4 491.1L1557.9 491.0L1558.5 491.5L1559.0 490.4L1559.3 490.4" fill="none" stroke="#ff00ff" stroke-width="4.17" stroke-linejoin="round"/>
<polygon points="208.04,30.50 211.92,41.46 223.54,41.76 214.32,48.84 217.62,59.99 208.04,53.40 198.46,59.99 201.76,48.84 192.54,41.76 204.16,41.46" fill="none" stroke="#ff00ff" stroke-width="4.17" stroke-miterlimit="10"/>
<polygon points="316.16,327.63 320.04,338.59 331.66,338.90 322.44,345.97 325.74,357.12 316.16,350.53 306.58,357.12 309.88,345.97 300.66,338.90 312.28,338.59" fill="none" stroke="#ff00ff" stroke-width="4.17" stroke-miterlimit="10"/>
<polygon points="424.28,619.65 428.16,630.61 439.78,630.91 430.56,637.98 433.86,649.13 424.28,642.55 414.70,649.13 418.00,637.98 408.78,630.91 420.40,630.61" fill="none" stroke="#ff00ff" stroke-width="4.17" stroke-miterlimit="10"/>
<polygon points="532.40,802.12 536.28,813.08 547.90,813.38 538.68,820.46 541.98,831.61 532.40,825.02 522.82,831.61 526.12,820.46 516.90,813.38 528.52,813.08" fill="none" stroke="#ff00ff" stroke-width="4.17" stroke-miterlimit="10"/>
<polygon points="640.52,818.89 644.40,829.85 656.02,830.15 646.80,837.23 650.10,848.37 640.52,841.79 630.94,848.37 634.24,837.23 625.02,830.15 636.64,829.85" fill="none" stroke="#ff00ff" stroke-width="4.17" stroke-miterlimit="10"/>
<polygon points="748.64,820.13 752.52,831.09 764.14,831.40 754.92,838.47 758.22,849.62 748.64,843.03 739.06,849.62 742.36,838.47 733.14,831.40 744.76,831.09" fill="none" stroke="#ff00ff" stroke-width="4.17" stroke-miterlimit="10"/>
<polygon points="856.76,820.08 860.64,831.04 872.26,831.34 863.04,838.42 866.34,849.56 856.76,842.98 847.18,849.56 850.48,838.42 841.26,831.34 852.88,831.04" fill="none" stroke="#ff00ff" stroke-width="4.17" stroke-miterlimit="10"/>
<polygon points="964.88,819.56 968.76,830.52 980.38,830.82 971.16,837.90 974.46,849.05 964.88,842.46 955.30,849.05 958.60,837.90 949.38,830.82 961.00,830.52" fill="none" stroke="#ff00ff" stroke-width="4.17" stroke-miterlimit="10"/>
<polygon points="1073.00,485.67 1076.88,496.63 1088.50,496.94 1079.28,504.01 1082.58,515.16 1073.00,508.57 1063.42,515.16 1066.72,504.01 1057.50,496.94 1069.12,496.63" fill="none" stroke="#ff00ff" stroke-width="4.17" stroke-miterlimit="10"/>
<polygon points="1181.12,478.80 1185.00,489.76 1196.62,490.06 1187.40,497.14 1190.70,508.29 1181.12,501.70 1171.54,508.29 1174.84,497.14 1165.62,490.06 1177.24,489.76" fill="none" stroke="#ff00ff" stroke-width="4.17" stroke-miterlimit="10"/>
<polygon points="1289.24,474.01 1293.12,484.97 1304.74,485.28 1295.52,492.35 1298.82,503.50 1289.24,496.91 1279.66,503.50 1282.96,492.35 1273.74,485.28 1285.36,484.97" fill="none" stroke="#ff00ff" stroke-width="4.17" stroke-miterlimit="10"/>
<polygon points="1397.36,472.41 1401.24,483.37 1412.86,483.67 1403.64,490.75 1406.94,501.90 1397.36,495.31 1387.78,501.90 1391.08,490.75 1381.86,483.67 1393.48,483.37" fill="none" stroke="#ff00ff" stroke-width="4.17" stroke-miterlimit="10"/>
<polygon points="1505.48,474.75 1509.36,485.71 1520.98,486.01 1511.76,493.09 1515.06,504.23 1505.48,497.65 1495.90,504.23 1499.20,493.09 1489.98,486.01 1501.60,485.71" fill="none" stroke="#ff00ff" stroke-width="4.17" stroke-miterlimit="10"/>
</g>
<g>
<path clip-path="url(#ax)" d="M208.0 46.8L208.6 48.2L209.1 49.6L209.7 51.1L210.2 52.5L210.7 53.9L211.3 55.3L211.8 56.7L212.4 58.1L212.9 59.5L213.4 61.0L214.0 62.4L214.5 63.8L215.1 65.2L215.6 66.6L216.1 68.0L216.7 69.5L217.2 70.9L217.8 72.3L218.3 73.7L218.9 75.1L219.4 76.5L219.9 77.9L220.5 79.4L221.0 80.8L221.6 82.2L222.1 83.6L222.6 85.0L223.2 86.4L223.7 87.8L224.3 89.2L224.8 90.7L225.3 92.1L225.9 93.5L226.4 94.9L227.0 96.3L227.5 97.7L228.0 99.1L228.6 100.5L229.1 101.9L229.7 103.4L230.2 104.8L230.7 106.2L231.3 107.6L231.8 109.0L232.4 110.4L232.9 111.8L233.4 113.2L234.0 114.6L234.5 116.1L235.1 117.5L235.6 118.9L236.2 120.3L236.7 121.7L237.2 123.1L237.8 124.5L238.3 125.9L238.9 127.3L239.4 128.8L239.9 130.2L240.5 131.6L241.0 133.0L241.6 134.4L242.1 135.8L242.6 137.2L243.2 138.6L243.7 140.0L244.3 141.4L244.8 142.9L245.3 144.3L245.9 145.7L246.4 147.1L247.0 148.5L247.5 149.9L248.0 151.3L248.6 152.7L249.1 154.1L249.7 155.6L250.2 157.0L250.7 158.4L251.3 159.8L251.8 161.2L252.4 162.6L252.9 164.0L253.5 165.4L254.0 166.8L254.5 168.2L255.1 169.7L255.6 171.1L256.2 172.5L256.7 173.9L257.2 175.3L257.8 176.7L258.3 178.1L258.9 179.5L259.4 181.0L259.9 182.4L260.5 183.8L261.0 185.2L261.6 186.6L262.1 188.0L262.6 189.4L263.2 190.8L263.7 192.2L264.3 193.7L264.8 195.1L265.3 196.5L265.9 197.9L266.4 199.3L267.0 200.7L267.5 202.1L268.0 203.6L268.6 205.0L269.1 206.4L269.7 207.8L270.2 209.2L270.8 210.6L271.3 212.0L271.8 213.4L272.4 214.9L272.9 216.3L273.5 217.7L274.0 219.1L274.5 220.5L275.1 221.9L275.6 223.4L276.2 224.8L276.7 226.2L277.2 227.6L277.8 229.0L278.3 230.4L278.9 231.9L279.4 233.3L279.9 234.7L280.5 236.1L281.0 237.5L281.6 238.9L282.1 240.4L282.6 241.8L283.2 243.2L283.7 244.6L284.3 246.0L284.8 247.5L285.3 248.9L285.9 250.3L286.4 251.7L287.0 253.1L287.5 254.6L288.0 256.0L288.6 257.4L289.1 258.8L289.7 260.2L290.2 261.7L290.8 263.1L291.3 264.5L291.8 265.9L292.4 267.3L292.9 268.8L293.5 270.2L294.0 271.6L294.5 273.0L295.1 274.5L295.6 275.9L296.2 277.3L296.7 278.7L297.2 280.2L297.8 281.6L298.3 283.0L298.9 284.4L299.4 285.9L299.9 287.3L300.5 288.7L301.0 290.2L301.6 291.6L302.1 293.0L302.6 294.4L303.2 295.9L303.7 297.3L304.3 298.7L304.8 300.2L305.3 301.6L305.9 303.0L306.4 304.4L307.0 305.9L307.5 307.3L308.1 308.7L308.6 310.2L309.1 311.6L309.7 313.0L310.2 314.5L310.8 315.9L311.3 317.3L311.8 318.8L312.4 320.2L312.9 321.6L313.5 323.1L314.0 324.5L314.5 326.0L315.1 327.4L315.6 328.8L316.2 330.3L316.7 331.7L317.2 333.2L317.8 334.6L318.3 336.0L318.9 337.5L319.4 338.9L319.9 340.4L320.5 341.8L321.0 343.3L321.6 344.7L322.1 346.2L322.6 347.6L323.2 349.1L323.7 350.5L324.3 352.0L324.8 353.4L325.4 354.9L325.9 356.3L326.4 357.8L327.0 359.2L327.5 360.7L328.1 362.1L328.6 363.6L329.1 365.1L329.7 366.5L330.2 368.0L330.8 369.4L331.3 370.9L331.8 372.4L332.4 373.8L332.9 375.3L333.5 376.8L334.0 378.2L334.5 379.7L335.1 381.2L335.6 382.6L336.2 384.1L336.7 385.6L337.2 387.0L337.8 388.5L338.3 390.0L338.9 391.4L339.4 392.9L339.9 394.4L340.5 395.9L341.0 397.3L341.6 398.8L342.1 400.3L342.6 401.8L343.2 403.2L343.7 404.7L344.3 406.2L344.8 407.7L345.4 409.1L345.9 410.6L346.4 412.1L347.0 413.6L347.5 415.0L348.1 416.5L348.6 418.0L349.1 419.5L349.7 420.9L350.2 422.4L350.8 423.9L351.3 425.4L351.8 426.9L352.4 428.3L352.9 429.8L353.5 431.3L354.0 432.8L354.5 434.3L355.1 435.7L355.6 437.2L356.2 438.7L356.7 440.2L357.2 441.7L357.8 443.2L358.3 444.6L358.9 446.1L359.4 447.6L359.9 449.1L360.5 450.6L361.0 452.0L361.6 453.5L362.1 455.0L362.7 456.5L363.2 458.0L363.7 459.5L364.3 460.9L364.8 462.4L365.4 463.9L365.9 465.4L366.4 466.9L367.0 468.3L367.5 469.8L368.1 471.3L368.6 472.8L369.1 474.3L369.7 475.7L370.2 477.2L370.8 478.7L371.3 480.2L371.8 481.7L372.4 483.1L372.9 484.6L373.5 486.1L374.0 487.6L374.5 489.1L375.1 490.5L375.6 492.0L376.2 493.5L376.7 495.0L377.2 496.5L377.8 497.9L378.3 499.4L378.9 500.9L379.4 502.4L380.0 503.8L380.5 505.3L381.0 506.8L381.6 508.3L382.1 509.7L382.7 511.2L383.2 512.7L383.7 514.1L384.3 515.6L384.8 517.1L385.4 518.6L385.9 520.0L386.4 521.5L387.0 523.0L387.5 524.4L388.1 525.9L388.6 527.4L389.1 528.8L389.7 530.3L390.2 531.8L390.8 533.2L391.3 534.7L391.8 536.2L392.4 537.6L392.9 539.1L393.5 540.5L394.0 542.0L394.5 543.5L395.1 544.9L395.6 546.4L396.2 547.8L396.7 549.3L397.3 550.8L397.8 552.2L398.3 553.7L398.9 555.1L399.4 556.6L400.0 558.0L400.5 559.5L401.0 560.9L401.6 562.4L402.1 563.8L402.7 565.3L403.2 566.7L403.7 568.2L404.3 569.6L404.8 571.0L405.4 572.5L405.9 573.9L406.4 575.4L407.0 576.8L407.5 578.3L408.1 579.7L408.6 581.1L409.1 582.6L409.7 584.0L410.2 585.4L410.8 586.9L411.3 588.3L411.8 589.7L412.4 591.2L412.9 592.6L413.5 594.0L414.0 595.4L414.5 596.9L415.1 598.3L415.6 599.7L416.2 601.1L416.7 602.5L417.3 604.0L417.8 605.4L418.3 606.8L418.9 608.2L419.4 609.6L420.0 611.0L420.5 612.4L421.0 613.9L421.6 615.3L422.1 616.7L422.7 618.1L423.2 619.5L423.7 620.9L424.3 622.3L424.8 623.7L425.4 625.1L425.9 626.5L426.4 627.9L427.0 629.3L427.5 630.7L428.1 632.0L428.6 633.4L429.1 634.8L429.7 636.2L430.2 637.6L430.8 639.0L431.3 640.3L431.8 641.7L432.4 643.1L432.9 644.5L433.5 645.8L434.0 647.2L434.6 648.6L435.1 649.9L435.6 651.3L436.2 652.7L436.7 654.0L437.3 655.4L437.8 656.7L438.3 658.1L438.9 659.5L439.4 660.8L440.0 662.2L440.5 663.5L441.0 664.9L441.6 666.2L442.1 667.6L442.7 668.9L443.2 670.3L443.7 671.6L444.3 673.0L444.8 674.3L445.4 675.6L445.9 677.0L446.4 678.3L447.0 679.7L447.5 681.0L448.1 682.3L448.6 683.7L449.1 685.0L449.7 686.4L450.2 687.7L450.8 689.1L451.3 690.4L451.9 691.8L452.4 693.1L452.9 694.5L453.5 695.9L454.0 697.2L454.6 698.6L455.1 700.0L455.6 701.4L456.2 702.7L456.7 704.1L457.3 705.4L457.8 706.8L458.3 708.1L458.9 709.5L459.4 710.8L460.0 712.1L460.5 713.4L461.0 714.8L461.6 716.0L462.1 717.3L462.7 718.6L463.2 719.9L463.7 721.1L464.3 722.4L464.8 723.6L465.4 724.8L465.9 726.0L466.4 727.1L467.0 728.3L467.5 729.4L468.1 730.6L468.6 731.7L469.2 732.8L469.7 733.9L470.2 735.0L470.8 736.0L471.3 737.1L471.9 738.2L472.4 739.2L472.9 740.3L473.5 741.3L474.0 742.3L474.6 743.4L475.1 744.4L475.6 745.4L476.2 746.4L476.7 747.4L477.3 748.4L477.8 749.4L478.3 750.3L478.9 751.3L479.4 752.3L480.0 753.3L480.5 754.2L481.0 755.2L481.6 756.2L482.1 757.1L482.7 758.1L483.2 759.0L483.7 760.0L484.3 760.9L484.8 761.9L485.4 762.8L485.9 763.7L486.4 764.7L487.0 765.6L487.5 766.6L488.1 767.5L488.6 768.5L489.2 769.4L489.7 770.4L490.2 771.3L490.8 772.3L491.3 773.2L491.9 774.2L492.4 775.1L492.9 776.1L493.5 777.1L494.0 778.0L494.6 779.0L495.1 780.0L495.6 781.0L496.2 781.9L496.7 782.9L497.3 783.9L497.8 784.9L498.3 785.8L498.9 786.8L499.4 787.8L500.0 788.7L500.5 789.6L501.0 790.6L501.6 791.5L502.1 792.4L502.7 793.3L503.2 794.2L503.7 795.1L504.3 796.0L504.8 796.8L505.4 797.7L505.9 798.5L506.5 799.3L507.0 800.2L507.5 801.0L508.1 801.8L508.6 802.6L509.2 803.4L509.7 804.2L510.2 805.0L510.8 805.8L511.3 806.5L511.9 807.3L512.4 808.1L512.9 808.8L513.5 809.6L514.0 810.3L514.6 811.0L515.1 811.7L515.6 812.5L516.2 813.2L516.7 813.8L517.3 814.4L517.8 815.2L518.3 815.8L518.9 816.6L519.4 817.0L520.0 817.6L520.5 818.1L521.0 818.6L521.6 819.3L522.1 819.8L522.7 820.1L523.2 820.6L523.8 820.9L524.3 821.3L524.8 821.9L525.4 822.4L525.9 822.7L526.5 823.2L527.0 823.5L527.5 823.6L528.1 824.2L528.6 824.6L529.2 824.7L529.7 825.0L530.2 825.7L530.8 825.7L531.3 826.1L531.9 826.3L532.4 826.8L532.9 827.2L533.5 827.8L534.0 827.7L534.6 828.5L535.1 829.0L535.6 829.6L536.2 830.3L536.7 830.6L537.3 831.3L537.8 831.4L538.3 832.2L538.9 832.6L539.4 833.7L540.0 834.0L540.5 834.5L541.1 835.2L541.6 835.4L542.1 835.7L542.7 836.3L543.2 836.1L543.8 836.7L544.3 836.8L544.8 837.4L545.4 837.3L545.9 837.6L546.5 837.8L547.0 837.4L547.5 837.8L548.1 838.3L548.6 838.4L549.2 838.1L549.7 838.8L550.2 838.8L550.8 838.6L551.3 838.8L551.9 839.5L552.4 839.8L552.9 840.0L553.5 840.4L554.0 840.6L554.6 840.4L555.1 840.8L555.6 841.0L556.2 841.2L556.7 841.0L557.3 841.5L557.8 841.2L558.3 841.8L558.9 841.7L559.4 841.6L560.0 842.1L560.5 842.0L561.1 842.2L561.6 842.6L562.1 842.5L562.7 842.8L563.2 843.2L563.8 843.2L564.3 843.1L564.8 843.8L565.4 843.9L565.9 843.3L566.5 843.9L567.0 843.7L567.5 844.2L568.1 843.5L568.6 843.2L569.2 843.6L569.7 843.0L570.2 843.4L570.8 843.1L571.3 842.6L571.9 842.6L572.4 843.3L572.9 843.1L573.5 844.0L574.0 843.8L574.6 844.9L575.1 844.7L575.6 845.2L576.2 845.8L576.7 845.9L577.3 846.2L577.8 846.3L578.4 846.2L578.9 846.8L579.4 846.9L580.0 846.7L580.5 847.0L581.1 846.9L581.6 847.4L582.1 846.8L582.7 847.5L583.2 847.0L583.8 847.2L584.3 847.8L584.8 847.4L585.4 847.2L585.9 847.8L586.5 847.7L587.0 848.2L587.5 847.6L588.1 848.1L588.6 847.8L589.2 848.2L589.7 848.7L590.2 849.2L590.8 848.9L591.3 849.1L591.9 849.8L592.4 849.6L592.9 849.9L593.5 850.3L594.0 850.6L594.6 850.5L595.1 850.3L595.7 851.1L596.2 851.0L596.7 851.1L597.3 851.5L597.8 851.7L598.4 851.5L598.9 851.4L599.4 852.0L600.0 852.4L600.5 852.1L601.1 852.3L601.6 852.1L602.1 852.6L602.7 852.0L603.2 852.4L603.8 851.9L604.3 852.3L604.8 852.5L605.4 852.5L605.9 852.3L606.5 852.4L607.0 852.3L607.5 853.0L608.1 852.9L608.6 852.8L609.2 853.4L609.7 852.8L610.2 852.6L610.8 852.9L611.3 852.7L611.9 852.9L612.4 852.8L613.0 853.1L613.5 852.5L614.0 852.7L614.6 852.9L615.1 852.5L615.7 853.0L616.2 853.3L616.7 854.0L617.3 853.8L617.8 853.3L618.4 853.1L618.9 853.8L619.4 853.5L620.0 854.0L620.5 853.9L621.1 854.1L621.6 854.1L622.1 854.2L622.7 854.0L623.2 854.6L623.8 853.9L624.3 854.3L624.8 855.3L625.4 855.4L625.9 854.3L626.5 855.5L627.0 855.1L627.5 855.7L628.1 854.5L628.6 856.1L629.2 855.1L629.7 855.6L630.2 855.9L630.8 855.9L631.3 856.1L631.9 856.5L632.4 855.6L633.0 855.2L633.5 856.0L634.0 855.8L634.6 855.8L635.1 856.7L635.7 856.5L636.2 857.0L636.7 856.5L637.3 857.2L637.8 856.5L638.4 856.8L638.9 857.5L639.4 857.2L640.0 857.3L640.5 857.6L641.1 857.5L641.6 857.4L642.1 858.0L642.7 857.0L643.2 857.5L643.8 857.5L644.3 856.9L644.8 857.3L645.4 856.3L645.9 856.3L646.5 856.5L647.0 855.9L647.5 855.6L648.1 856.0L648.6 856.2L649.2 855.9L649.7 855.5L650.3 854.9L650.8 854.8L651.3 855.1L651.9 854.4L652.4 855.3L653.0 855.1L653.5 855.9L654.0 855.9L654.6 855.9L655.1 855.8L655.7 857.0L656.2 856.0L656.7 857.0L657.3 856.4L657.8 856.9L658.4 857.3L658.9 857.1L659.4 856.1L660.0 856.7L660.5 856.7L661.1 856.9L661.6 856.6L662.1 855.6L662.7 855.4L663.2 855.0L663.8 855.4L664.3 855.6L664.8 855.7L665.4 854.8L665.9 855.4L666.5 855.7L667.0 855.4L667.6 855.4L668.1 855.1L668.6 855.6L669.2 855.2L669.7 855.5L670.3 855.9L670.8 857.0L671.3 857.2L671.9 856.8L672.4 856.8L673.0 856.8L673.5 858.2L674.0 857.7L674.6 857.9L675.1 858.0L675.7 858.3L676.2 858.6L676.7 858.6L677.3 858.5L677.8 858.3L678.4 858.9L678.9 858.8L679.4 858.8L680.0 858.5L680.5 859.2L681.1 857.8L681.6 858.1L682.1 858.3L682.7 857.9L683.2 857.8L683.8 857.7L684.3 857.4L684.8 856.3L685.4 856.0L685.9 857.4L686.5 856.5L687.0 856.3L687.6 856.6L688.1 856.1L688.6 856.0L689.2 855.8L689.7 856.2L690.3 856.0L690.8 855.2L691.3 855.3L691.9 855.2L692.4 855.2L693.0 855.7L693.5 855.1L694.0 855.3L694.6 854.8L695.1 855.0L695.7 854.6L696.2 854.9L696.7 853.9L697.3 854.2L697.8 853.9L698.4 854.1L698.9 853.2L699.4 853.2L700.0 852.9L700.5 853.6L701.1 853.0L701.6 853.2L702.1 853.3L702.7 853.2L703.2 853.7L703.8 853.4L704.3 854.4L704.9 854.6L705.4 854.9L705.9 854.7L706.5 855.5L707.0 856.0L707.6 855.6L708.1 855.6L708.6 856.4L709.2 856.3L709.7 856.8L710.3 856.7L710.8 856.8L711.3 857.7L711.9 856.6L712.4 857.2L713.0 856.8L713.5 856.8L714.0 857.4L714.6 856.5L715.1 857.1L715.7 857.3L716.2 856.8L716.7 856.2L717.3 856.4L717.8 857.6L718.4 856.9L718.9 856.6L719.4 856.7L720.0 856.7L720.5 856.4L721.1 856.5L721.6 855.6L722.2 855.9L722.7 856.3L723.2 855.9L723.8 855.5L724.3 856.1L724.9 855.7L725.4 856.5L725.9 856.2L726.5 855.2L727.0 856.1L727.6 856.6L728.1 855.7L728.6 856.3L729.2 856.0L729.7 856.5L730.3 857.1L730.8 856.1L731.3 856.8L731.9 857.4L732.4 856.6L733.0 857.0L733.5 856.3L734.0 856.7L734.6 856.9L735.1 857.5L735.7 857.5L736.2 856.9L736.7 857.3L737.3 856.7L737.8 856.3L738.4 856.4L738.9 856.0L739.5 856.2L740.0 856.3L740.5 856.6L741.1 856.8L741.6 856.7L742.2 856.9L742.7 856.7L743.2 857.6L743.8 858.2L744.3 858.7L744.9 859.1L745.4 859.5L745.9 859.0L746.5 859.6L747.0 860.1L747.6 860.2L748.1 860.5L748.6 860.8L749.2 860.9L749.7 860.3L750.3 860.1L750.8 859.9L751.3 860.4L751.9 860.0L752.4 860.5L753.0 860.0L753.5 860.2L754.0 860.0L754.6 860.6L755.1 860.1L755.7 860.1L756.2 860.3L756.7 859.8L757.3 859.9L757.8 859.8L758.4 859.6L758.9 860.4L759.5 859.8L760.0 860.7L760.5 860.2L761.1 860.6L761.6 860.5L762.2 860.1L762.7 859.9L763.2 860.0L763.8 859.8L764.3 859.8L764.9 860.1L765.4 859.8L765.9 860.1L766.5 860.3L767.0 859.7L767.6 860.2L768.1 860.7L768.6 860.8L769.2 860.3L769.7 860.5L770.3 860.8L770.8 860.8L771.3 861.2L771.9 861.4L772.4 861.8L773.0 861.5L773.5 861.3L774.0 862.2L774.6 862.2L775.1 861.9L775.7 861.9L776.2 861.8L776.8 862.3L777.3 862.0L777.8 862.2L778.4 861.8L778.9 862.2L779.5 861.7L780.0 862.2L780.5 861.1L781.1 862.2L781.6 861.8L782.2 861.5L782.7 862.0L783.2 861.9L783.8 862.5L784.3 862.0L784.9 862.0L785.4 862.0L785.9 862.4L786.5 861.7L787.0 861.8L787.6 861.7L788.1 861.6L788.6 860.9L789.2 860.6L789.7 860.7L790.3 860.5L790.8 860.0L791.3 860.3L791.9 859.4L792.4 859.4L793.0 859.3L793.5 859.7L794.1 858.7L794.6 859.5L795.1 859.2L795.7 859.5L796.2 859.5L796.8 860.1L797.3 859.5L797.8 860.2L798.4 860.6L798.9 860.2L799.5 859.7L800.0 860.0L800.5 860.2L801.1 860.7L801.6 860.0L802.2 860.2L802.7 860.6L803.2 860.1L803.8 860.5L804.3 860.6L804.9 860.2L805.4 860.3L805.9 860.8L806.5 860.0L807.0 861.0L807.6 860.9L808.1 861.4L808.6 861.7L809.2 861.8L809.7 862.2L810.3 862.1L810.8 862.1L811.4 862.6L811.9 862.1L812.4 862.0L813.0 862.3L813.5 861.9L814.1 861.8L814.6 861.5L815.1 861.6L815.7 861.6L816.2 861.5L816.8 861.2L817.3 861.0L817.8 860.6L818.4 860.9L818.9 860.7L819.5 860.5L820.0 859.8L820.5 859.3L821.1 860.5L821.6 860.6L822.2 860.6L822.7 860.2L823.2 860.2L823.8 860.4L824.3 860.8L824.9 860.9L825.4 861.1L825.9 860.7L826.5 861.9L827.0 862.0L827.6 862.7L828.1 862.8L828.6 863.0L829.2 862.5L829.7 863.8L830.3 863.8L830.8 864.1L831.4 863.9L831.9 864.0L832.4 864.5L833.0 864.0L833.5 863.9L834.1 863.9L834.6 863.9L835.1 863.4L835.7 863.4L836.2 863.2L836.8 863.1L837.3 863.1L837.8 862.8L838.4 862.5L838.9 862.5L839.5 861.9L840.0 862.3L840.5 861.6L841.1 861.9L841.6 861.8L842.2 861.6L842.7 861.6L843.2 861.3L843.8 861.8L844.3 861.9L844.9 861.5L845.4 861.0L845.9 861.8L846.5 861.0L847.0 860.6L847.6 861.3L848.1 860.5L848.7 860.7L849.2 860.6L849.7 860.4L850.3 860.2L850.8 860.3L851.4 860.0L851.9 860.2L852.4 859.5L853.0 859.8L853.5 860.4L854.1 860.7L854.6 860.6L855.1 860.3L855.7 860.8L856.2 861.3L856.8 861.2L857.3 862.4L857.8 862.5L858.4 862.0L858.9 862.5L859.5 862.4L860.0 862.5L860.5 862.4L861.1 862.4L861.6 862.6L862.2 862.7L862.7 862.2L863.2 862.5L863.8 862.5L864.3 862.5L864.9 862.5L865.4 862.5L866.0 861.6L866.5 862.4L867.0 861.8L867.6 861.8L868.1 861.8L868.7 861.7L869.2 861.1L869.7 861.5L870.3 862.4L870.8 863.1L871.4 862.8L871.9 863.2L872.4 863.8L873.0 863.6L873.5 864.2L874.1 864.6L874.6 864.1L875.1 864.5L875.7 865.0L876.2 864.5L876.8 864.9L877.3 865.2L877.8 865.3L878.4 865.3L878.9 865.3L879.5 865.6L880.0 865.5L880.5 865.9L881.1 866.0L881.6 865.5L882.2 865.4L882.7 865.7L883.2 866.0L883.8 865.7L884.3 866.1L884.9 866.0L885.4 865.8L886.0 865.3L886.5 864.7L887.0 865.0L887.6 865.3L888.1 865.3L888.7 864.7L889.2 864.4L889.7 864.6L890.3 864.1L890.8 863.9L891.4 864.1L891.9 864.0L892.4 864.1L893.0 864.2L893.5 863.8L894.1 863.7L894.6 863.8L895.1 863.8L895.7 863.3L896.2 863.5L896.8 862.5L897.3 863.0L897.8 862.6L898.4 862.8L898.9 862.7L899.5 862.6L900.0 862.6L900.5 861.8L901.1 861.8L901.6 862.2L902.2 861.9L902.7 861.9L903.3 862.1L903.8 861.8L904.3 862.0L904.9 861.6L905.4 861.3L906.0 861.5L906.5 860.9L907.0 860.9L907.6 861.4L908.1 860.7L908.7 860.6L909.2 860.5L909.7 860.6L910.3 859.8L910.8 860.2L911.4 859.6L911.9 859.6L912.4 859.5L913.0 860.1L913.5 859.7L914.1 860.6L914.6 860.0L915.1 860.7L915.7 861.1L916.2 861.3L916.8 861.3L917.3 862.0L917.8 861.8L918.4 862.1L918.9 861.9L919.5 862.1L920.0 861.8L920.6 861.5L921.1 861.9L921.6 861.6L922.2 861.1L922.7 861.3L923.3 861.0L923.8 861.6L924.3 861.5L924.9 861.1L925.4 860.8L926.0 861.3L926.5 860.8L927.0 861.4L927.6 860.7L928.1 861.5L928.7 860.7L929.2 861.5L929.7 861.5L930.3 861.8L930.8 861.7L931.4 861.0L931.9 861.7L932.4 862.0L933.0 862.2L933.5 861.9L934.1 862.6L934.6 862.0L935.1 861.9L935.7 862.1L936.2 861.8L936.8 861.8L937.3 861.5L937.9 861.6L938.4 861.3L938.9 861.7L939.5 861.4L940.0 861.6L940.6 861.9L941.1 862.1L941.6 861.7L942.2 862.9L942.7 863.2L943.3 862.4L943.8 862.5L944.3 862.8L944.9 862.8L945.4 863.3L946.0 863.4L946.5 863.9L947.0 863.9L947.6 863.6L948.1 864.1L948.7 864.6L949.2 864.8L949.7 864.1L950.3 864.8L950.8 864.5L951.4 864.6L951.9 863.6L952.4 864.4L953.0 864.5L953.5 864.2L954.1 864.4L954.6 865.2L955.1 864.8L955.7 865.5L956.2 864.8L956.8 864.7L957.3 865.1L957.9 864.6L958.4 866.0L958.9 864.8L959.5 865.5L960.0 865.3L960.6 865.6L961.1 865.4L961.6 865.2L962.2 865.7L962.7 865.4L963.3 865.5L963.8 865.4L964.3 864.8L964.9 864.9L965.4 864.6L966.0 864.7L966.5 864.6L967.0 863.9L967.6 864.3L968.1 865.0L968.7 865.0L969.2 864.6L969.7 864.5L970.3 865.0L970.8 865.2L971.4 864.8L971.9 864.3L972.4 864.5L973.0 864.7L973.5 864.6L974.1 864.7L974.6 864.2L975.2 864.8L975.7 864.5L976.2 864.2L976.8 864.5L977.3 864.1L977.9 864.1L978.4 863.9L978.9 864.4L979.5 864.7L980.0 864.8L980.6 864.4L981.1 864.9L981.6 863.9L982.2 864.5L982.7 864.5L983.3 864.3L983.8 864.1L984.3 864.3L984.9 864.1L985.4 864.3L986.0 864.1L986.5 863.9L987.0 864.7L987.6 864.5L988.1 865.1L988.7 864.8L989.2 864.3L989.7 864.6L990.3 864.4L990.8 865.0L991.4 865.4L991.9 864.9L992.5 864.6L993.0 865.4L993.5 865.7L994.1 866.0L994.6 865.7L995.2 865.5L995.7 866.5L996.2 866.5L996.8 866.8L997.3 866.7L997.9 867.3L998.4 867.1L998.9 868.0L999.5 868.0L1000.0 868.1L1000.6 868.3L1001.1 868.2L1001.6 868.3L1002.2 868.0L1002.7 868.1L1003.3 867.9L1003.8 868.0L1004.3 867.4L1004.9 867.4L1005.4 868.0L1006.0 867.3L1006.5 867.1L1007.0 868.0L1007.6 867.9L1008.1 867.7L1008.7 868.0L1009.2 868.4L1009.8 868.1L1010.3 868.8L1010.8 868.8L1011.4 868.7L1011.9 869.5L1012.5 869.3L1013.0 870.0L1013.5 869.9L1014.1 869.8L1014.6 870.1L1015.2 870.1L1015.7 870.1L1015.8 870.2L1018.4 869.3L1018.9 704.3L1019.5 702.4L1020.0 700.9L1020.6 699.8L1021.1 698.8L1021.6 698.0L1022.2 697.4L1022.7 697.3L1023.3 697.2L1023.8 697.5L1024.3 697.6L1024.9 697.9L1025.4 698.2L1026.0 698.6L1026.5 699.0L1027.0 699.3L1027.6 699.6L1028.1 700.2L1028.7 700.5L1029.2 700.8L1029.8 701.2L1030.3 701.7L1030.8 702.3L1031.4 703.0L1031.9 703.8L1032.5 704.4L1033.0 704.9L1033.5 705.7L1034.1 706.6L1034.6 707.0L1035.2 707.9L1035.7 708.6L1036.2 709.3L1036.8 710.4L1037.3 711.3L1037.9 712.5L1038.4 713.0L1038.9 713.8L1039.5 714.8L1040.0 715.7L1040.6 716.4L1041.1 717.4L1041.6 718.2L1042.2 719.2L1042.7 720.0L1043.3 720.7L1043.8 721.8L1044.3 722.9L1044.9 724.0L1045.4 725.2L1046.0 726.4L1046.5 727.7L1047.1 729.0L1047.6 730.2L1048.1 731.4L1048.7 731.8L1049.2 732.9L1049.8 733.5L1050.3 733.9L1050.8 734.8L1051.4 735.8L1051.9 736.1L1052.5 737.1L1053.0 737.9L1053.5 738.2L1054.1 739.2L1054.6 739.4L1055.2 741.4L1055.7 742.0L1056.2 742.8L1056.8 743.4L1057.3 744.8L1057.9 745.2L1058.4 746.5L1058.9 747.7L1059.5 748.5L1060.0 749.4L1060.6 750.4L1061.1 751.5L1061.6 752.4L1062.2 753.0L1062.7 754.1L1063.3 754.8L1063.8 756.7L1064.4 757.8L1064.9 757.8L1065.4 759.4L1066.0 760.5L1066.5 762.0L1067.1 762.7L1067.6 764.0L1068.1 765.1L1068.7 765.9L1069.2 767.8L1069.8 768.6L1070.3 770.4L1070.8 770.9L1071.4 772.6L1071.9 772.8L1072.5 774.9L1073.0 775.0L1073.5 776.9L1074.1 778.2L1074.6 778.6L1075.2 779.7L1075.7 781.1L1076.2 782.1L1076.8 783.4L1077.3 783.6L1077.9 784.2L1078.4 785.8L1078.9 785.9L1079.5 786.2L1080.0 788.0L1080.6 788.1L1081.1 788.8L1081.7 790.0L1082.2 790.4L1082.7 791.6L1083.3 791.8L1083.8 792.1L1084.4 793.3L1084.9 794.0L1085.4 795.0L1086.0 794.3L1086.5 794.7L1087.1 795.9L1087.6 796.1L1088.1 796.6L1088.7 796.4L1089.2 797.7L1089.8 797.3L1090.3 798.6L1090.8 798.0L1091.4 798.9L1091.9 798.7L1092.5 799.4L1093.0 800.4L1093.5 801.0L1094.1 801.9L1094.6 801.7L1095.2 802.6L1095.7 804.0L1096.2 805.0L1096.8 805.2L1097.3 806.1L1097.9 807.0L1098.4 807.6L1098.9 808.1L1099.5 809.0L1100.0 809.5L1100.6 810.3L1101.1 810.9L1101.7 811.7L1102.2 811.8L1102.7 812.5L1103.3 813.1L1103.8 813.4L1104.4 814.0L1104.9 814.5L1105.4 814.7L1106.0 815.0L1106.5 816.2L1107.1 816.2L1107.6 816.6L1108.1 817.5L1108.7 817.5L1109.2 818.2L1109.8 818.9L1110.3 819.8L1110.8 820.2L1111.4 820.2L1111.9 820.1L1112.5 821.2L1113.0 822.1L1113.5 821.4L1114.1 822.2L1114.6 822.2L1115.2 823.2L1115.7 823.2L1116.2 823.8L1116.8 824.8L1117.3 825.0L1117.9 825.3L1118.4 826.2L1119.0 826.0L1119.5 826.9L1120.0 827.0L1120.6 827.8L1121.1 827.9L1121.7 828.3L1122.2 829.6L1122.7 829.5L1123.3 829.6L1123.8 830.4L1124.4 830.3L1124.9 830.8L1125.4 831.9L1126.0 831.9L1126.5 832.2L1127.1 832.9L1127.6 832.5L1128.1 833.1L1128.7 833.6L1129.2 834.2L1129.8 834.5L1130.3 834.7L1130.8 834.5L1131.4 835.3L1131.9 835.0L1132.5 834.8L1133.0 836.2L1133.5 836.3L1134.1 836.0L1134.6 836.5L1135.2 837.1L1135.7 837.1L1136.3 837.3L1136.8 837.4L1137.3 838.1L1137.9 838.2L1138.4 838.4L1139.0 838.6L1139.5 839.0L1140.0 839.8L1140.6 840.0L1141.1 839.5L1141.7 840.4L1142.2 840.6L1142.7 840.9L1143.3 841.1L1143.8 841.0L1144.4 841.6L1144.9 841.6L1145.4 841.8L1146.0 842.0L1146.5 842.5L1147.1 842.4L1147.6 842.1L1148.1 842.7L1148.7 842.9L1149.2 843.1L1149.8 843.7L1150.3 843.9L1150.8 844.0L1151.4 844.8L1151.9 845.4L1152.5 845.3L1153.0 845.8L1153.5 846.6L1154.1 847.4L1154.6 847.2L1155.2 847.9L1155.7 849.0L1156.3 849.2L1156.8 849.7L1157.3 850.3L1157.9 849.4L1158.4 849.5L1159.0 850.8L1159.5 850.0L1160.0 850.2L1160.6 850.1L1161.1 849.9L1161.7 849.8L1162.2 850.1L1162.7 850.3L1163.3 849.9L1163.8 849.6L1164.4 850.6L1164.9 850.6L1165.4 850.5L1166.0 850.8L1166.5 850.8L1167.1 850.5L1167.6 850.8L1168.1 851.2L1168.7 851.3L1169.2 851.7L1169.8 851.3L1170.3 851.9L1170.8 852.2L1171.4 852.1L1171.9 852.0L1172.5 851.6L1173.0 852.0L1173.6 852.1L1174.1 851.3L1174.6 851.9L1175.2 851.4L1175.7 851.7L1176.3 851.6L1176.8 852.2L1177.3 851.7L1177.9 852.0L1178.4 852.3L1179.0 851.9L1179.5 852.1L1180.0 852.0L1180.6 851.7L1181.1 852.7L1181.7 851.9L1182.2 852.4L1182.7 852.5L1183.3 851.9L1183.8 852.1L1184.4 852.7L1184.9 852.1L1185.4 852.1L1186.0 851.9L1186.5 852.2L1187.1 852.7L1187.6 853.4L1188.1 853.2L1188.7 853.2L1189.2 853.4L1189.8 853.5L1190.3 854.0L1190.9 854.1L1191.4 854.5L1191.9 854.6L1192.5 854.4L1193.0 854.4L1193.6 855.1L1194.1 854.9L1194.6 854.9L1195.2 854.6L1195.7 854.8L1196.3 853.9L1196.8 854.6L1197.3 854.8L1197.9 854.5L1198.4 854.5L1199.0 854.2L1199.5 854.0L1200.0 853.5L1200.6 853.4L1201.1 853.6L1201.7 854.1L1202.2 853.6L1202.7 854.0L1203.3 853.9L1203.8 853.8L1204.4 854.1L1204.9 853.6L1205.4 854.4L1206.0 854.7L1206.5 854.8L1207.1 854.6L1207.6 855.5L1208.2 855.3L1208.7 855.5L1209.2 855.3L1209.8 855.7L1210.3 855.1L1210.9 854.5L1211.4 854.8L1211.9 853.9L1212.5 854.2L1213.0 853.7L1213.6 853.8L1214.1 853.1L1214.6 853.0L1215.2 853.1L1215.7 853.1L1216.3 853.8L1216.8 853.4L1217.3 854.4L1217.9 855.1L1218.4 855.4L1219.0 855.6L1219.5 856.2L1220.0 856.3L1220.6 855.5L1221.1 855.9L1221.7 855.8L1222.2 855.3L1222.7 855.8L1223.3 856.3L1223.8 855.7L1224.4 856.1L1224.9 855.5L1225.4 855.5L1226.0 855.2L1226.5 855.7L1227.1 855.9L1227.6 855.1L1228.2 854.8L1228.7 854.8L1229.2 854.8L1229.8 854.7L1230.3 854.6L1230.9 854.2L1231.4 854.8L1231.9 854.4L1232.5 854.1L1233.0 854.3L1233.6 854.5L1234.1 854.6L1234.6 854.5L1235.2 854.5L1235.7 855.4L1236.3 854.5L1236.8 855.2L1237.3 855.5L1237.9 856.0L1238.4 856.1L1239.0 855.7L1239.5 855.9L1240.0 856.7L1240.6 856.4L1241.1 856.2L1241.7 856.4L1242.2 855.5L1242.7 855.6L1243.3 856.1L1243.8 856.3L1244.4 855.6L1244.9 855.7L1245.5 855.5L1246.0 855.6L1246.5 854.9L1247.1 855.0L1247.6 854.5L1248.2 854.6L1248.7 854.9L1249.2 854.7L1249.8 855.0L1250.3 854.7L1250.9 855.0L1251.4 854.4L1251.9 855.3L1252.5 854.4L1253.0 854.4L1253.6 854.0L1254.1 854.3L1254.6 853.7L1255.2 853.4L1255.7 853.4L1256.3 853.1L1256.8 853.0L1257.3 853.0L1257.9 852.9L1258.4 853.1L1259.0 852.5L1259.5 852.6L1260.0 852.2L1260.6 853.1L1261.1 852.6L1261.7 853.0L1262.2 854.3L1262.8 853.9L1263.3 853.7L1263.8 854.3L1264.4 854.1L1264.9 854.1L1265.5 854.7L1266.0 854.3L1266.5 854.4L1267.1 853.9L1267.6 855.0L1268.2 854.2L1268.7 854.3L1269.2 853.9L1269.8 853.6L1270.3 853.6L1270.9 853.7L1271.4 853.4L1271.9 853.9L1272.5 853.5L1273.0 853.8L1273.6 854.3L1274.1 853.9L1274.6 854.0L1275.2 854.1L1275.7 854.6L1276.3 854.2L1276.8 853.6L1277.3 853.7L1277.9 854.5L1278.4 854.3L1279.0 854.4L1279.5 854.6L1280.1 854.6L1280.6 854.2L1281.1 853.8L1281.7 854.0L1282.2 854.0L1282.8 853.8L1283.3 854.7L1283.8 854.6L1284.4 855.1L1284.9 854.8L1285.5 854.6L1286.0 854.4L1286.5 855.1L1287.1 855.0L1287.6 854.8L1288.2 854.9L1288.7 855.3L1289.2 854.6L1289.8 854.8L1290.3 854.7L1290.9 854.6L1291.4 854.2L1291.9 854.1L1292.5 853.7L1293.0 853.0L1293.6 853.1L1294.1 852.8L1294.6 852.7L1295.2 853.0L1295.7 853.0L1296.3 852.2L1296.8 852.6L1297.3 852.4L1297.9 852.6L1298.4 852.9L1299.0 852.1L1299.5 851.7L1300.1 852.2L1300.6 853.1L1301.1 852.9L1301.7 852.7L1302.2 853.3L1302.8 853.1L1303.3 853.1L1303.8 852.8L1304.4 854.0L1304.9 853.6L1305.5 854.0L1306.0 854.5L1306.5 853.6L1307.1 854.4L1307.6 853.9L1308.2 853.6L1308.7 853.8L1309.2 854.0L1309.8 853.6L1310.3 854.1L1310.9 854.3L1311.4 853.8L1311.9 854.3L1312.5 854.8L1313.0 855.2L1313.6 855.2L1314.1 854.9L1314.6 855.7L1315.2 855.7L1315.7 855.5L1316.3 855.7L1316.8 856.7L1317.4 856.1L1317.9 857.4L1318.4 856.5L1319.0 857.3L1319.5 857.2L1320.1 857.3L1320.6 857.5L1321.1 857.4L1321.7 857.7L1322.2 857.1L1322.8 857.9L1323.3 858.3L1323.8 858.0L1324.4 858.3L1324.9 858.1L1325.5 858.2L1326.0 857.9L1326.5 857.7L1327.1 857.5L1327.6 857.2L1328.2 857.3L1328.7 857.5L1329.2 857.6L1329.8 857.7L1330.3 856.9L1330.9 857.5L1331.4 857.7L1331.9 857.7L1332.5 857.9L1333.0 858.0L1333.6 858.8L1334.1 859.8L1334.7 859.7L1335.2 860.4L1335.7 860.9L1336.3 860.7L1336.8 861.2L1337.4 861.3L1337.9 861.1L1338.4 861.2L1339.0 861.1L1339.5 861.0L1340.1 861.1L1340.6 860.8L1341.1 860.5L1341.7 860.2L1342.2 859.7L1342.8 860.2L1343.3 859.5L1343.8 860.1L1344.4 858.8L1344.9 858.7L1345.5 859.0L1346.0 858.8L1346.5 858.5L1347.1 858.6L1347.6 858.2L1348.2 857.9L1348.7 858.4L1349.2 858.1L1349.8 858.4L1350.3 857.7L1350.9 858.9L1351.4 858.8L1352.0 858.9L1352.5 859.3L1353.0 859.8L1353.6 859.8L1354.1 860.2L1354.7 860.0L1355.2 860.7L1355.7 860.4L1356.3 859.8L1356.8 859.7L1357.4 859.6L1357.9 860.3L1358.4 859.0L1359.0 859.8L1359.5 859.0L1360.1 859.3L1360.6 859.8L1361.1 859.1L1361.7 859.2L1362.2 858.8L1362.8 859.1L1363.3 858.8L1363.8 858.8L1364.4 859.1L1364.9 858.8L1365.5 859.2L1366.0 859.2L1366.5 859.4L1367.1 858.9L1367.6 859.1L1368.2 859.5L1368.7 859.2L1369.2 858.7L1369.8 858.6L1370.3 858.5L1370.9 858.6L1371.4 858.2L1372.0 858.0L1372.5 857.6L1373.0 857.8L1373.6 857.1L1374.1 857.5L1374.7 857.1L1375.2 856.6L1375.7 857.3L1376.3 856.9L1376.8 856.1L1377.4 856.4L1377.9 856.3L1378.4 855.5L1379.0 855.5L1379.5 855.8L1380.1 856.0L1380.6 855.6L1381.1 856.0L1381.7 855.4L1382.2 856.3L1382.8 856.3L1383.3 856.5L1383.8 856.2L1384.4 855.8L1384.9 856.3L1385.5 856.1L1386.0 856.4L1386.5 856.6L1387.1 856.7L1387.6 857.0L1388.2 857.3L1388.7 857.1L1389.3 857.3L1389.8 857.4L1390.3 857.8L1390.9 857.8L1391.4 858.3L1392.0 858.1L1392.5 858.7L1393.0 858.9L1393.6 858.2L1394.1 858.6L1394.7 858.5L1395.2 858.6L1395.7 858.6L1396.3 859.4L1396.8 858.8L1397.4 858.7L1397.9 859.0L1398.4 858.8L1399.0 859.1L1399.5 859.0L1400.1 859.0L1400.6 859.3L1401.1 859.9L1401.7 859.2L1402.2 859.4L1402.8 859.7L1403.3 859.7L1403.8 860.1L1404.4 859.6L1404.9 859.6L1405.5 859.4L1406.0 859.5L1406.6 859.9L1407.1 859.6L1407.6 859.1L1408.2 858.2L1408.7 858.7L1409.3 858.2L1409.8 858.3L1410.3 858.0L1410.9 857.9L1411.4 858.2L1412.0 857.8L1412.5 857.3L1413.0 858.2L1413.6 857.9L1414.1 857.8L1414.7 857.9L1415.2 857.8L1415.7 858.3L1416.3 857.3L1416.8 857.7L1417.4 857.6L1417.9 857.4L1418.4 857.9L1419.0 857.5L1419.5 857.8L1420.1 857.5L1420.6 857.1L1421.1 856.9L1421.7 857.0L1422.2 857.0L1422.8 856.8L1423.3 856.1L1423.8 856.4L1424.4 857.1L1424.9 856.0L1425.5 856.0L1426.0 856.6L1426.6 856.7L1427.1 856.5L1427.6 856.1L1428.2 856.5L1428.7 856.8L1429.3 855.9L1429.8 855.5L1430.3 856.3L1430.9 856.0L1431.4 856.1L1432.0 856.0L1432.5 856.2L1433.0 855.9L1433.6 855.7L1434.1 855.9L1434.7 856.8L1435.2 856.6L1435.7 856.4L1436.3 856.1L1436.8 856.1L1437.4 855.8L1437.9 855.9L1438.4 856.9L1439.0 856.4L1439.5 855.8L1440.1 855.7L1440.6 856.1L1441.1 855.5L1441.7 855.4L1442.2 855.6L1442.8 855.7L1443.3 855.1L1443.9 855.8L1444.4 855.6L1444.9 855.2L1445.5 855.9L1446.0 856.6L1446.6 856.3L1447.1 857.0L1447.6 857.1L1448.2 857.4L1448.7 857.4L1449.3 857.4L1449.8 858.3L1450.3 858.5L1450.9 858.2L1451.4 857.5L1452.0 857.6L1452.5 858.1L1453.0 857.5L1453.6 857.4L1454.1 856.9L1454.7 856.7L1455.2 856.5L1455.7 856.2L1456.3 855.6L1456.8 856.6L1457.4 856.7L1457.9 856.2L1458.4 856.6L1459.0 856.2L1459.5 856.9L1460.1 856.9L1460.6 856.8L1461.2 857.0L1461.7 856.8L1462.2 856.3L1462.8 857.0L1463.3 856.9L1463.9 856.4L1464.4 856.7L1464.9 856.6L1465.5 856.4L1466.0 856.4L1466.6 856.7L1467.1 856.8L1467.6 857.3L1468.2 856.6L1468.7 856.5L1469.3 856.5L1469.8 857.2L1470.3 856.6L1470.9 856.5L1471.4 856.5L1472.0 857.0L1472.5 856.7L1473.0 856.8L1473.6 856.0L1474.1 855.7L1474.7 856.2L1475.2 856.5L1475.7 856.1L1476.3 855.5L1476.8 855.7L1477.4 855.3L1477.9 856.0L1478.5 855.4L1479.0 855.8L1479.5 855.6L1480.1 855.5L1480.6 855.9L1481.2 855.5L1481.7 856.3L1482.2 856.4L1482.8 857.1L1483.3 856.6L1483.9 857.3L1484.4 856.6L1484.9 857.0L1485.5 856.6L1486.0 856.7L1486.6 856.8L1487.1 856.9L1487.6 856.6L1488.2 855.9L1488.7 856.5L1489.3 856.3L1489.8 856.0L1490.3 856.1L1490.9 856.7L1491.4 857.1L1492.0 857.4L1492.5 856.3L1493.0 857.0L1493.6 856.3L1494.1 856.1L1494.7 856.2L1495.2 855.6L1495.7 855.8L1496.3 856.3L1496.8 856.0L1497.4 855.9L1497.9 856.3L1498.5 855.3L1499.0 855.4L1499.5 855.2L1500.1 855.6L1500.6 855.5L1501.2 855.7L1501.7 855.3L1502.2 855.8L1502.8 855.4L1503.3 855.2L1503.9 855.6L1504.4 856.0L1504.9 855.9L1505.5 856.2L1506.0 856.1L1506.6 855.7L1507.1 856.2L1507.6 856.4L1508.2 856.4L1508.7 855.5L1509.3 855.7L1509.8 855.5L1510.3 855.8L1510.9 855.5L1511.4 855.8L1512.0 855.0L1512.5 855.6L1513.0 855.0L1513.6 855.8L1514.1 855.6L1514.7 856.1L1515.2 856.4L1515.8 856.1L1516.3 856.4L1516.8 856.6L1517.4 856.2L1517.9 856.2L1518.5 856.6L1519.0 855.7L1519.5 856.1L1520.1 856.7L1520.6 855.6L1521.2 855.9L1521.7 856.1L1522.2 855.9L1522.8 855.3L1523.3 855.0L1523.9 855.6L1524.4 855.1L1524.9 855.2L1525.5 854.2L1526.0 854.8L1526.6 854.6L1527.1 854.1L1527.6 853.6L1528.2 853.8L1528.7 853.6L1529.3 853.8L1529.8 853.7L1530.3 853.4L1530.9 853.6L1531.4 853.4L1532.0 853.8L1532.5 853.4L1533.1 853.4L1533.6 853.4L1534.1 853.5L1534.7 854.1L1535.2 853.7L1535.8 854.0L1536.3 853.8L1536.8 853.9L1537.4 854.1L1537.9 853.7L1538.5 853.8L1539.0 854.3L1539.5 854.2L1540.1 854.9L1540.6 853.9L1541.2 854.1L1541.7 853.3L1542.2 852.9L1542.8 853.8L1543.3 853.5L1543.9 853.6L1544.4 853.5L1544.9 852.8L1545.5 853.2L1546.0 853.3L1546.6 853.1L1547.1 852.8L1547.6 852.8L1548.2 853.8L1548.7 853.1L1549.3 853.4L1549.8 853.0L1550.4 853.4L1550.9 853.2L1551.4 853.6L1552.0 853.2L1552.5 854.1L1553.1 853.5L1553.6 854.1L1554.1 854.2L1554.7 853.8L1555.2 854.7L1555.8 854.7L1556.3 854.8L1556.8 854.9L1557.4 854.6L1557.9 854.2L1558.5 855.1L1559.0 854.7" fill="none" stroke="#ff0000" stroke-width="4.17" stroke-linejoin="round"/>
<polygon points="188.94,35.70 227.14,35.70 208.04,68.80" fill="none" stroke="#ff0000" stroke-width="4.17" stroke-miterlimit="10"/>
<polygon points="297.06,319.17 335.26,319.17 316.16,352.27" fill="none" stroke="#ff0000" stroke-width="4.17" stroke-miterlimit="10"/>
<polygon points="405.18,611.18 443.38,611.18 424.28,644.28" fill="none" stroke="#ff0000" stroke-width="4.17" stroke-miterlimit="10"/>
<polygon points="513.30,815.77 551.50,815.77 532.40,848.87" fill="none" stroke="#ff0000" stroke-width="4.17" stroke-miterlimit="10"/>
<polygon points="621.42,845.33 659.62,845.33 640.52,878.43" fill="none" stroke="#ff0000" stroke-width="4.17" stroke-miterlimit="10"/>
<polygon points="729.54,850.67 767.74,850.67 748.64,883.77" fill="none" stroke="#ff0000" stroke-width="4.17" stroke-miterlimit="10"/>
<polygon points="837.66,851.83 875.86,851.83 856.76,884.93" fill="none" stroke="#ff0000" stroke-width="4.17" stroke-miterlimit="10"/>
<polygon points="945.78,854.73 983.98,854.73 964.88,887.83" fill="none" stroke="#ff0000" stroke-width="4.17" stroke-miterlimit="10"/>
<polygon points="1053.90,764.70 1092.10,764.70 1073.00,797.80" fill="none" stroke="#ff0000" stroke-width="4.17" stroke-miterlimit="10"/>
<polygon points="1162.02,843.18 1200.22,843.18 1181.12,876.28" fill="none" stroke="#ff0000" stroke-width="4.17" stroke-miterlimit="10"/>
<polygon points="1270.14,843.65 1308.34,843.65 1289.24,876.75" fill="none" stroke="#ff0000" stroke-width="4.17" stroke-miterlimit="10"/>
<polygon points="1378.26,847.77 1416.46,847.77 1397.36,880.87" fill="none" stroke="#ff0000" stroke-width="4.17" stroke-miterlimit="10"/>
<polygon points="1486.38,845.31 1524.58,845.31 1505.48,878.41" fill="none" stroke="#ff0000" stroke-width="4.17" stroke-miterlimit="10"/>
</g>
<g>
<path clip-path="url(#ax)" d="M208.0 46.8L208.6 48.2L209.1 49.7L209.7 51.1L210.2 52.6L210.7 54.0L211.3 55.5L211.8 56.9L212.4 58.4L212.9 59.8L213.4 61.3L214.0 62.7L214.5 64.2L215.1 65.6L215.6 67.1L216.1 68.5L216.7 70.0L217.2 71.4L217.8 72.9L218.3 74.3L218.9 75.8L219.4 77.2L219.9 78.7L220.5 80.1L221.0 81.6L221.6 83.0L222.1 84.5L222.6 85.9L223.2 87.4L223.7 88.8L224.3 90.3L224.8 91.7L225.3 93.2L225.9 94.6L226.4 96.1L227.0 97.6L227.5 99.0L228.0 100.5L228.6 101.9L229.1 103.4L229.7 104.8L230.2 106.3L230.7 107.7L231.3 109.2L231.8 110.6L232.4 112.1L232.9 113.5L233.4 115.0L234.0 116.4L234.5 117.9L235.1 119.4L235.6 120.8L236.2 122.3L236.7 123.7L237.2 125.2L237.8 126.6L238.3 128.1L238.9 129.5L239.4 131.0L239.9 132.4L240.5 133.9L241.0 135.4L241.6 136.8L242.1 138.3L242.6 139.7L243.2 141.2L243.7 142.6L244.3 144.1L244.8 145.5L245.3 147.0L245.9 148.4L246.4 149.9L247.0 151.4L247.5 152.8L248.0 154.3L248.6 155.7L249.1 157.2L249.7 158.6L250.2 160.1L250.7 161.5L251.3 163.0L251.8 164.4L252.4 165.9L252.9 167.4L253.5 168.8L254.0 170.3L254.5 171.7L255.1 173.2L255.6 174.6L256.2 176.1L256.7 177.5L257.2 179.0L257.8 180.4L258.3 181.9L258.9 183.4L259.4 184.8L259.9 186.3L260.5 187.7L261.0 189.2L261.6 190.6L262.1 192.1L262.6 193.5L263.2 195.0L263.7 196.4L264.3 197.9L264.8 199.3L265.3 200.8L265.9 202.2L266.4 203.7L267.0 205.1L267.5 206.6L268.0 208.0L268.6 209.5L269.1 210.9L269.7 212.4L270.2 213.8L270.8 215.3L271.3 216.7L271.8 218.2L272.4 219.6L272.9 221.1L273.5 222.5L274.0 224.0L274.5 225.4L275.1 226.9L275.6 228.3L276.2 229.8L276.7 231.2L277.2 232.7L277.8 234.1L278.3 235.6L278.9 237.0L279.4 238.5L279.9 239.9L280.5 241.4L281.0 242.8L281.6 244.3L282.1 245.7L282.6 247.1L283.2 248.6L283.7 250.0L284.3 251.5L284.8 252.9L285.3 254.4L285.9 255.8L286.4 257.3L287.0 258.7L287.5 260.1L288.0 261.6L288.6 263.0L289.1 264.5L289.7 265.9L290.2 267.4L290.8 268.8L291.3 270.2L291.8 271.7L292.4 273.1L292.9 274.6L293.5 276.0L294.0 277.4L294.5 278.9L295.1 280.3L295.6 281.7L296.2 283.2L296.7 284.6L297.2 286.1L297.8 287.5L298.3 288.9L298.9 290.4L299.4 291.8L299.9 293.2L300.5 294.7L301.0 296.1L301.6 297.5L302.1 299.0L302.6 300.4L303.2 301.8L303.7 303.3L304.3 304.7L304.8 306.1L305.3 307.6L305.9 309.0L306.4 310.4L307.0 311.8L307.5 313.3L308.1 314.7L308.6 316.1L309.1 317.6L309.7 319.0L310.2 320.4L310.8 321.8L311.3 323.3L311.8 324.7L312.4 326.1L312.9 327.5L313.5 329.0L314.0 330.4L314.5 331.8L315.1 333.2L315.6 334.7L316.2 336.1L316.7 337.5L317.2 338.9L317.8 340.3L318.3 341.8L318.9 343.2L319.4 344.6L319.9 346.0L320.5 347.5L321.0 348.9L321.6 350.3L322.1 351.7L322.6 353.2L323.2 354.6L323.7 356.0L324.3 357.5L324.8 358.9L325.4 360.3L325.9 361.8L326.4 363.2L327.0 364.6L327.5 366.0L328.1 367.5L328.6 368.9L329.1 370.3L329.7 371.8L330.2 373.2L330.8 374.6L331.3 376.1L331.8 377.5L332.4 378.9L332.9 380.4L333.5 381.8L334.0 383.2L334.5 384.7L335.1 386.1L335.6 387.6L336.2 389.0L336.7 390.4L337.2 391.9L337.8 393.3L338.3 394.7L338.9 396.2L339.4 397.6L339.9 399.0L340.5 400.5L341.0 401.9L341.6 403.4L342.1 404.8L342.6 406.2L343.2 407.7L343.7 409.1L344.3 410.5L344.8 412.0L345.4 413.4L345.9 414.8L346.4 416.3L347.0 417.7L347.5 419.2L348.1 420.6L348.6 422.0L349.1 423.5L349.7 424.9L350.2 426.3L350.8 427.8L351.3 429.2L351.8 430.6L352.4 432.1L352.9 433.5L353.5 434.9L354.0 436.4L354.5 437.8L355.1 439.2L355.6 440.7L356.2 442.1L356.7 443.5L357.2 445.0L357.8 446.4L358.3 447.8L358.9 449.3L359.4 450.7L359.9 452.1L360.5 453.5L361.0 455.0L361.6 456.4L362.1 457.8L362.7 459.3L363.2 460.7L363.7 462.1L364.3 463.5L364.8 465.0L365.4 466.4L365.9 467.8L366.4 469.2L367.0 470.7L367.5 472.1L368.1 473.5L368.6 474.9L369.1 476.3L369.7 477.8L370.2 479.2L370.8 480.6L371.3 482.0L371.8 483.4L372.4 484.9L372.9 486.3L373.5 487.7L374.0 489.1L374.5 490.5L375.1 491.9L375.6 493.3L376.2 494.7L376.7 496.2L377.2 497.6L377.8 499.0L378.3 500.4L378.9 501.8L379.4 503.2L380.0 504.6L380.5 506.0L381.0 507.4L381.6 508.8L382.1 510.2L382.7 511.6L383.2 513.0L383.7 514.4L384.3 515.8L384.8 517.2L385.4 518.6L385.9 520.0L386.4 521.4L387.0 522.8L387.5 524.2L388.1 525.6L388.6 526.9L389.1 528.3L389.7 529.7L390.2 531.1L390.8 532.5L391.3 533.9L391.8 535.3L392.4 536.6L392.9 538.0L393.5 539.4L394.0 540.8L394.5 542.1L395.1 543.5L395.6 544.9L396.2 546.3L396.7 547.6L397.3 549.0L397.8 550.4L398.3 551.7L398.9 553.1L399.4 554.5L400.0 555.8L400.5 557.2L401.0 558.5L401.6 559.9L402.1 561.3L402.7 562.6L403.2 564.0L403.7 565.3L404.3 566.7L404.8 568.0L405.4 569.4L405.9 570.7L406.4 572.1L407.0 573.4L407.5 574.7L408.1 576.1L408.6 577.4L409.1 578.8L409.7 580.1L410.2 581.4L410.8 582.7L411.3 584.1L411.8 585.4L412.4 586.7L412.9 588.1L413.5 589.4L414.0 590.7L414.5 592.0L415.1 593.3L415.6 594.7L416.2 596.0L416.7 597.3L417.3 598.6L417.8 599.9L418.3 601.2L418.9 602.5L419.4 603.8L420.0 605.1L420.5 606.4L421.0 607.7L421.6 609.0L422.1 610.3L422.7 611.6L423.2 612.9L423.7 614.2L424.3 615.5L424.8 616.7L425.4 618.0L425.9 619.3L426.4 620.6L427.0 621.9L427.5 623.1L428.1 624.4L428.6 625.7L429.1 627.0L429.7 628.2L430.2 629.5L430.8 630.7L431.3 632.0L431.8 633.2L432.4 634.5L432.9 635.7L433.5 636.9L434.0 638.1L434.6 639.4L435.1 640.6L435.6 641.8L436.2 642.9L436.7 644.1L437.3 645.3L437.8 646.5L438.3 647.6L438.9 648.7L439.4 649.9L440.0 651.0L440.5 652.1L441.0 653.2L441.6 654.3L442.1 655.3L442.7 656.4L443.2 657.4L443.7 658.4L444.3 659.5L444.8 660.5L445.4 661.5L445.9 662.5L446.4 663.5L447.0 664.5L447.5 665.5L448.1 666.5L448.6 667.5L449.1 668.5L449.7 669.5L450.2 670.5L450.8 671.5L451.3 672.6L451.9 673.6L452.4 674.6L452.9 675.7L453.5 676.7L454.0 677.7L454.6 678.8L455.1 679.8L455.6 680.8L456.2 681.9L456.7 682.9L457.3 683.9L457.8 685.0L458.3 686.0L458.9 687.0L459.4 688.1L460.0 689.1L460.5 690.1L461.0 691.1L461.6 692.1L462.1 693.1L462.7 694.1L463.2 695.1L463.7 696.1L464.3 697.1L464.8 698.1L465.4 699.1L465.9 700.1L466.4 701.1L467.0 702.1L467.5 703.1L468.1 704.1L468.6 705.1L469.2 706.1L469.7 707.0L470.2 708.0L470.8 708.9L471.3 709.9L471.9 710.8L472.4 711.7L472.9 712.6L473.5 713.5L474.0 714.4L474.6 715.3L475.1 716.1L475.6 717.0L476.2 717.8L476.7 718.6L477.3 719.5L477.8 720.3L478.3 721.1L478.9 721.9L479.4 722.7L480.0 723.5L480.5 724.3L481.0 725.1L481.6 725.9L482.1 726.6L482.7 727.4L483.2 728.2L483.7 728.9L484.3 729.7L484.8 730.4L485.4 731.2L485.9 731.9L486.4 732.7L487.0 733.4L487.5 734.1L488.1 734.8L488.6 735.5L489.2 736.2L489.7 736.9L490.2 737.6L490.8 738.3L491.3 739.0L491.9 739.7L492.4 740.4L492.9 741.1L493.5 741.7L494.0 742.4L494.6 743.1L495.1 743.8L495.6 744.4L496.2 745.1L496.7 745.8L497.3 746.5L497.8 747.1L498.3 747.8L498.9 748.5L499.4 749.1L500.0 749.8L500.5 750.4L501.0 751.1L501.6 751.7L502.1 752.4L502.7 753.0L503.2 753.7L503.7 754.3L504.3 754.9L504.8 755.6L505.4 756.2L505.9 756.8L506.5 757.4L507.0 758.0L507.5 758.6L508.1 759.2L508.6 759.7L509.2 760.3L509.7 760.8L510.2 761.4L510.8 761.9L511.3 762.5L511.9 763.0L512.4 763.5L512.9 764.1L513.5 764.6L514.0 765.2L514.6 765.7L515.1 766.3L515.6 766.9L516.2 767.5L516.7 768.1L517.3 768.7L517.8 769.4L518.3 770.0L518.9 770.8L519.4 771.5L520.0 772.3L520.5 773.0L521.0 773.8L521.6 774.6L522.1 775.4L522.7 776.2L523.2 777.0L523.8 777.7L524.3 778.4L524.8 779.2L525.4 779.8L525.9 780.5L526.5 781.0L527.0 781.6L527.5 782.1L528.1 782.7L528.6 783.2L529.2 783.7L529.7 784.2L530.2 784.6L530.8 785.1L531.3 785.6L531.9 786.0L532.4 786.5L532.9 786.9L533.5 787.3L534.0 787.7L534.6 788.1L535.1 788.6L535.6 789.0L536.2 789.4L536.7 789.8L537.3 790.2L537.8 790.6L538.3 791.0L538.9 791.4L539.4 791.8L540.0 792.1L540.5 792.5L541.1 793.0L541.6 793.4L542.1 793.8L542.7 794.2L543.2 794.6L543.8 795.0L544.3 795.5L544.8 795.9L545.4 796.3L545.9 796.8L546.5 797.2L547.0 797.6L547.5 798.1L548.1 798.5L548.6 798.9L549.2 799.3L549.7 799.8L550.2 800.2L550.8 800.6L551.3 801.0L551.9 801.4L552.4 801.8L552.9 802.2L553.5 802.6L554.0 803.0L554.6 803.4L555.1 803.8L555.6 804.2L556.2 804.6L556.7 805.0L557.3 805.4L557.8 805.7L558.3 806.1L558.9 806.5L559.4 806.9L560.0 807.2L560.5 807.6L561.1 808.0L561.6 808.4L562.1 808.7L562.7 809.1L563.2 809.5L563.8 809.8L564.3 810.2L564.8 810.6L565.4 810.9L565.9 811.3L566.5 811.7L567.0 812.0L567.5 812.4L568.1 812.7L568.6 813.1L569.2 813.4L569.7 813.8L570.2 814.1L570.8 814.5L571.3 814.8L571.9 815.2L572.4 815.5L572.9 815.9L573.5 816.2L574.0 816.6L574.6 816.9L575.1 817.3L575.6 817.6L576.2 818.0L576.7 818.3L577.3 818.7L577.8 819.0L578.4 819.4L578.9 819.7L579.4 820.1L580.0 820.4L580.5 820.8L581.1 821.1L581.6 821.5L582.1 821.9L582.7 822.2L583.2 822.6L583.8 823.0L584.3 823.3L584.8 823.7L585.4 824.0L585.9 824.4L586.5 824.7L587.0 825.1L587.5 825.4L588.1 825.8L588.6 826.1L589.2 826.4L589.7 826.8L590.2 827.1L590.8 827.4L591.3 827.8L591.9 828.1L592.4 828.4L592.9 828.7L593.5 829.0L594.0 829.3L594.6 829.6L595.1 829.9L595.7 830.2L596.2 830.5L596.7 830.8L597.3 831.1L597.8 831.4L598.4 831.6L598.9 831.9L599.4 832.2L600.0 832.5L600.5 832.8L601.1 833.1L601.6 833.4L602.1 833.7L602.7 834.0L603.2 834.3L603.8 834.6L604.3 834.9L604.8 835.2L605.4 835.4L605.9 835.7L606.5 836.0L607.0 836.3L607.5 836.6L608.1 836.9L608.6 837.2L609.2 837.5L609.7 837.8L610.2 838.1L610.8 838.4L611.3 838.7L611.9 839.0L612.4 839.3L613.0 839.6L613.5 839.9L614.0 840.2L614.6 840.5L615.1 840.8L615.7 841.1L616.2 841.4L616.7 841.7L617.3 842.1L617.8 842.4L618.4 842.8L618.9 843.2L619.4 843.5L620.0 843.9L620.5 844.3L621.1 844.6L621.6 845.0L622.1 845.3L622.7 845.6L623.2 845.9L623.8 846.2L624.3 846.5L624.8 846.7L625.4 846.9L625.9 847.1L626.5 847.4L627.0 847.6L627.5 847.8L628.1 848.0L628.6 848.1L629.2 848.3L629.7 848.5L630.2 848.7L630.8 848.8L631.3 849.0L631.9 849.2L632.4 849.4L633.0 849.5L633.5 849.7L634.0 849.9L634.6 850.1L635.1 850.2L635.7 850.4L636.2 850.6L636.7 850.8L637.3 851.0L637.8 851.2L638.4 851.3L638.9 851.5L639.4 851.7L640.0 851.9L640.5 852.1L641.1 852.2L641.6 852.4L642.1 852.6L642.7 852.8L643.2 853.0L643.8 853.2L644.3 853.4L644.8 853.6L645.4 853.8L645.9 854.0L646.5 854.2L647.0 854.4L647.5 854.7L648.1 854.9L648.6 855.2L649.2 855.4L649.7 855.7L650.3 855.9L650.8 856.2L651.3 856.5L651.9 856.7L652.4 857.0L653.0 857.3L653.5 857.6L654.0 857.9L654.6 858.1L655.1 858.4L655.7 858.7L656.2 859.0L656.7 859.3L657.3 859.6L657.8 859.9L658.4 860.2L658.9 860.5L659.4 860.8L660.0 861.2L660.5 861.5L661.1 861.8L661.6 862.2L662.1 862.5L662.7 862.8L663.2 863.2L663.8 863.5L664.3 863.8L664.8 864.2L665.4 864.5L665.9 864.8L666.5 865.2L667.0 865.5L667.6 865.8L668.1 866.1L668.6 866.4L669.2 866.7L669.7 867.0L670.3 867.3L670.8 867.6L671.3 867.9L671.9 868.2L672.4 868.4L673.0 868.7L673.5 869.0L674.0 869.3L674.6 869.6L675.1 869.8L675.7 870.1L676.2 870.4L676.7 870.6L677.3 870.9L677.8 871.1L678.4 871.4L678.9 871.6L679.4 871.8L680.0 872.1L680.5 872.3L681.1 872.5L681.6 872.7L682.1 872.9L682.7 873.1L683.2 873.3L683.8 873.5L684.3 873.7L684.8 873.9L685.4 874.1L685.9 874.3L686.5 874.5L687.0 874.6L687.6 874.8L688.1 875.0L688.6 875.2L689.2 875.3L689.7 875.5L690.3 875.7L690.8 875.8L691.3 876.0L691.9 876.1L692.4 876.3L693.0 876.4L693.5 876.6L694.0 876.7L694.6 876.9L695.1 877.0L695.7 877.2L696.2 877.3L696.7 877.4L697.3 877.6L697.8 877.7L698.4 877.8L698.9 877.9L699.4 878.1L700.0 878.2L700.5 878.3L701.1 878.4L701.6 878.5L702.1 878.6L702.7 878.7L703.2 878.7L703.8 878.8L704.3 879.1L704.9 879.1L705.4 879.2L705.9 879.2L706.5 879.2L707.0 879.3L707.6 879.5L708.1 879.6L708.6 879.7L709.2 879.9L709.7 879.9L710.3 880.1L710.8 879.9L711.3 880.3L711.9 880.2L712.4 880.4L713.0 880.3L713.5 880.5L714.0 880.4L714.6 880.4L715.1 880.4L715.7 880.4L716.2 880.8L716.7 880.4L717.3 880.5L717.8 880.8L718.4 880.9L718.9 880.7L719.4 881.0L720.0 881.2L720.5 881.3L721.1 881.2L721.6 881.2L722.2 880.9L722.7 881.1L723.2 881.0L723.8 881.2L724.3 881.3L724.9 881.2L725.4 881.2L725.9 881.4L726.5 881.4L727.0 881.4L727.6 881.4L728.1 881.6L728.6 881.7L729.2 882.0L729.7 882.1L730.3 881.9L730.8 882.2L731.3 882.0L731.9 882.5L732.4 881.9L733.0 881.9L733.5 882.4L734.0 881.9L734.6 882.4L735.1 881.8L735.7 882.2L736.2 881.8L736.7 882.5L737.3 882.2L737.8 882.6L738.4 882.4L738.9 882.7L739.5 883.2L740.0 882.9L740.5 882.8L741.1 883.3L741.6 883.3L742.2 883.7L742.7 883.6L743.2 884.0L743.8 884.3L744.3 884.1L744.9 884.5L745.4 884.6L745.9 884.4L746.5 884.7L747.0 885.0L747.6 885.4L748.1 885.3L748.6 885.2L749.2 885.5L749.7 885.4L750.3 886.0L750.8 885.4L751.3 885.9L751.9 885.8L752.4 886.1L753.0 886.0L753.5 886.5L754.0 886.3L754.6 886.9L755.1 886.2L755.7 886.8L756.2 886.6L756.7 886.7L757.3 887.2L757.8 886.7L758.4 887.2L758.9 887.3L759.5 887.2L760.0 887.0L760.5 887.7L761.1 887.1L761.6 886.9L762.2 887.7L762.7 887.5L763.2 887.6L763.8 888.2L764.3 887.9L764.9 888.2L765.4 888.2L765.9 888.6L766.5 888.4L767.0 888.2L767.6 888.1L768.1 888.4L768.6 888.6L769.2 888.1L769.7 888.5L770.3 888.4L770.8 888.0L771.3 888.1L771.9 888.2L772.4 888.4L773.0 888.4L773.5 888.3L774.0 888.6L774.6 888.3L775.1 888.5L775.7 888.6L776.2 888.8L776.8 888.4L777.3 888.8L777.8 889.2L778.4 889.2L778.9 889.2L779.5 889.0L780.0 889.4L780.5 889.3L781.1 889.5L781.6 889.8L782.2 889.5L782.7 889.3L783.2 889.2L783.8 889.6L784.3 889.8L784.9 889.1L785.4 889.6L785.9 889.3L786.5 889.1L787.0 889.2L787.6 889.0L788.1 889.4L788.6 889.2L789.2 889.0L789.7 889.2L790.3 889.5L790.8 888.9L791.3 889.2L791.9 889.0L792.4 889.0L793.0 889.2L793.5 888.9L794.1 889.0L794.6 888.6L795.1 889.4L795.7 889.0L796.2 888.5L796.8 888.8L797.3 888.2L797.8 888.8L798.4 888.4L798.9 888.3L799.5 888.2L800.0 888.2L800.5 888.4L801.1 888.5L801.6 888.0L802.2 887.8L802.7 887.9L803.2 888.0L803.8 888.0L804.3 888.0L804.9 888.5L805.4 888.0L805.9 888.3L806.5 888.0L807.0 888.4L807.6 888.0L808.1 888.3L808.6 888.1L809.2 888.1L809.7 888.1L810.3 887.7L810.8 887.9L811.4 887.8L811.9 887.8L812.4 887.8L813.0 888.0L813.5 888.2L814.1 888.4L814.6 887.9L815.1 888.6L815.7 888.5L816.2 888.1L816.8 887.9L817.3 888.3L817.8 887.9L818.4 888.1L818.9 887.7L819.5 887.5L820.0 887.5L820.5 887.6L821.1 887.6L821.6 887.4L822.2 887.6L822.7 887.8L823.2 887.8L823.8 888.1L824.3 887.4L824.9 888.1L825.4 887.5L825.9 888.0L826.5 888.4L827.0 888.0L827.6 887.9L828.1 887.7L828.6 887.8L829.2 887.9L829.7 888.1L830.3 887.8L830.8 888.0L831.4 888.0L831.9 887.8L832.4 887.6L833.0 887.3L833.5 888.0L834.1 888.1L834.6 888.2L835.1 888.3L835.7 888.1L836.2 888.0L836.8 888.2L837.3 887.9L837.8 888.0L838.4 888.7L838.9 888.7L839.5 888.7L840.0 888.6L840.5 888.8L841.1 889.0L841.6 888.7L842.2 888.4L842.7 888.6L843.2 888.9L843.8 888.8L844.3 888.6L844.9 889.1L845.4 888.8L845.9 888.5L846.5 888.4L847.0 888.8L847.6 888.8L848.1 888.8L848.7 889.1L849.2 888.2L849.7 888.9L850.3 888.9L850.8 888.5L851.4 889.1L851.9 888.9L852.4 889.3L853.0 889.8L853.5 889.6L854.1 889.1L854.6 889.6L855.1 889.5L855.7 889.9L856.2 889.7L856.8 889.7L857.3 889.3L857.8 889.5L858.4 889.9L858.9 889.2L859.5 889.7L860.0 889.4L860.5 889.5L861.1 889.3L861.6 889.3L862.2 890.0L862.7 889.9L863.2 889.7L863.8 889.7L864.3 890.0L864.9 889.8L865.4 889.8L866.0 889.9L866.5 889.9L867.0 890.0L867.6 889.9L868.1 890.2L868.7 890.5L869.2 890.0L869.7 890.1L870.3 890.1L870.8 890.1L871.4 890.3L871.9 890.6L872.4 890.7L873.0 891.3L873.5 891.0L874.1 891.1L874.6 891.3L875.1 890.5L875.7 891.2L876.2 891.0L876.8 891.1L877.3 891.1L877.8 890.9L878.4 891.2L878.9 891.3L879.5 891.0L880.0 891.2L880.5 891.5L881.1 891.1L881.6 891.0L882.2 891.2L882.7 890.8L883.2 890.9L883.8 890.9L884.3 891.3L884.9 890.9L885.4 890.9L886.0 890.5L886.5 891.1L887.0 890.8L887.6 890.9L888.1 890.9L888.7 890.8L889.2 890.9L889.7 891.3L890.3 890.8L890.8 890.7L891.4 890.7L891.9 891.2L892.4 891.0L893.0 890.6L893.5 890.6L894.1 890.7L894.6 890.9L895.1 891.4L895.7 891.0L896.2 891.1L896.8 890.9L897.3 890.9L897.8 891.2L898.4 890.6L898.9 890.9L899.5 891.2L900.0 891.0L900.5 891.2L901.1 891.3L901.6 890.8L902.2 890.9L902.7 890.5L903.3 890.4L903.8 890.1L904.3 890.6L904.9 890.5L905.4 890.2L906.0 889.6L906.5 890.1L907.0 889.9L907.6 889.4L908.1 889.5L908.7 889.4L909.2 889.6L909.7 889.4L910.3 889.2L910.8 889.4L911.4 888.9L911.9 888.4L912.4 888.8L913.0 887.8L913.5 888.0L914.1 887.7L914.6 887.4L915.1 887.7L915.7 887.5L916.2 887.0L916.8 886.8L917.3 887.0L917.8 886.7L918.4 886.3L918.9 886.9L919.5 886.2L920.0 886.0L920.6 886.3L921.1 886.5L921.6 886.1L922.2 886.3L922.7 886.5L923.3 886.3L923.8 886.3L924.3 887.0L924.9 886.6L925.4 887.1L926.0 886.8L926.5 887.1L927.0 887.1L927.6 887.1L928.1 886.9L928.7 886.7L929.2 886.7L929.7 886.8L930.3 886.4L930.8 886.4L931.4 886.5L931.9 886.0L932.4 886.3L933.0 886.4L933.5 885.9L934.1 886.3L934.6 886.6L935.1 886.3L935.7 886.0L936.2 886.1L936.8 885.7L937.3 886.6L937.9 885.9L938.4 886.8L938.9 886.5L939.5 885.7L940.0 886.0L940.6 886.5L941.1 886.5L941.6 886.4L942.2 886.5L942.7 886.2L943.3 886.3L943.8 886.7L944.3 886.3L944.9 886.5L945.4 886.0L946.0 886.1L946.5 886.3L947.0 886.2L947.6 886.6L948.1 885.9L948.7 885.9L949.2 886.3L949.7 886.2L950.3 886.5L950.8 886.4L951.4 886.3L951.9 886.4L952.4 886.0L953.0 886.1L953.5 886.6L954.1 886.9L954.6 886.3L955.1 886.0L955.7 886.7L956.2 886.7L956.8 887.0L957.3 886.6L957.9 887.3L958.4 887.3L958.9 887.5L959.5 887.5L960.0 888.2L960.6 887.7L961.1 887.7L961.6 888.3L962.2 888.5L962.7 888.8L963.3 888.9L963.8 889.3L964.3 889.3L964.9 888.9L965.4 889.7L966.0 889.6L966.5 889.4L967.0 890.0L967.6 890.3L968.1 890.6L968.7 890.8L969.2 891.0L969.7 891.2L970.3 891.4L970.8 891.4L971.4 891.7L971.9 892.2L972.4 892.4L973.0 892.3L973.5 892.6L974.1 892.4L974.6 892.9L975.2 892.9L975.7 893.6L976.2 893.4L976.8 893.6L977.3 893.9L977.9 894.0L978.4 894.5L978.9 894.3L979.5 894.9L980.0 895.0L980.6 894.5L981.1 894.2L981.6 895.0L982.2 895.2L982.7 894.9L983.3 894.9L983.8 894.5L984.3 895.5L984.9 895.0L985.4 894.7L986.0 895.5L986.5 894.9L987.0 894.7L987.6 894.8L988.1 894.9L988.7 895.3L989.2 895.6L989.7 895.6L990.3 895.6L990.8 895.3L991.4 896.1L991.9 895.6L992.5 895.6L993.0 896.2L993.5 896.2L994.1 895.5L994.6 896.2L995.2 896.4L995.7 896.1L996.2 896.0L996.8 896.1L997.3 896.8L997.9 896.0L998.4 895.9L998.9 896.2L999.5 896.2L1000.0 896.4L1000.6 896.1L1001.1 895.7L1001.6 895.7L1002.2 895.8L1002.7 895.9L1003.3 895.9L1003.8 896.0L1004.3 896.5L1004.9 896.1L1005.4 896.6L1006.0 896.5L1006.5 896.1L1007.0 896.9L1007.6 895.9L1008.1 896.3L1008.7 896.7L1009.2 896.5L1009.8 896.6L1010.3 896.4L1010.8 896.1L1011.4 896.5L1011.9 896.7L1012.5 896.7L1013.0 896.3L1013.5 896.8L1014.1 896.7L1014.6 896.4L1015.2 897.0L1015.7 896.7L1015.8 896.4L1018.4 897.0L1018.9 880.0L1019.5 879.3L1020.0 878.5L1020.6 877.7L1021.1 877.1L1021.6 876.7L1022.2 876.5L1022.7 876.4L1023.3 876.3L1023.8 876.2L1024.3 876.2L1024.9 876.2L1025.4 876.2L1026.0 876.1L1026.5 875.9L1027.0 876.0L1027.6 875.8L1028.1 875.7L1028.7 875.3L1029.2 874.9L1029.8 874.6L1030.3 874.0L1030.8 873.5L1031.4 873.1L1031.9 872.5L1032.5 872.3L1033.0 871.9L1033.5 871.5L1034.1 871.4L1034.6 871.1L1035.2 870.7L1035.7 870.5L1036.2 870.1L1036.8 870.2L1037.3 869.8L1037.9 869.5L1038.4 869.3L1038.9 869.1L1039.5 869.0L1040.0 868.6L1040.6 868.5L1041.1 868.3L1041.6 867.9L1042.2 867.9L1042.7 867.5L1043.3 867.2L1043.8 867.0L1044.3 866.9L1044.9 866.3L1045.4 866.0L1046.0 866.0L1046.5 865.8L1047.1 865.5L1047.6 865.6L1048.1 865.1L1048.7 864.9L1049.2 864.8L1049.8 864.6L1050.3 864.7L1050.8 864.2L1051.4 863.9L1051.9 864.5L1052.5 864.1L1053.0 863.8L1053.5 863.9L1054.1 863.9L1054.6 863.7L1055.2 863.4L1055.7 863.7L1056.2 863.7L1056.8 863.4L1057.3 863.8L1057.9 863.6L1058.4 863.9L1058.9 863.9L1059.5 864.2L1060.0 863.6L1060.6 864.1L1061.1 863.9L1061.6 864.5L1062.2 864.6L1062.7 864.6L1063.3 864.8L1063.8 864.9L1064.4 865.0L1064.9 864.8L1065.4 864.9L1066.0 864.9L1066.5 865.0L1067.1 865.0L1067.6 865.2L1068.1 865.5L1068.7 865.2L1069.2 865.7L1069.8 866.1L1070.3 865.5L1070.8 865.6L1071.4 866.1L1071.9 865.7L1072.5 866.0L1073.0 866.1L1073.5 866.3L1074.1 865.7L1074.6 866.1L1075.2 865.8L1075.7 866.2L1076.2 865.8L1076.8 866.2L1077.3 865.8L1077.9 865.9L1078.4 866.0L1078.9 866.3L1079.5 865.9L1080.0 866.2L1080.6 866.6L1081.1 866.9L1081.7 866.5L1082.2 866.8L1082.7 867.2L1083.3 866.7L1083.8 866.6L1084.4 866.5L1084.9 866.6L1085.4 866.8L1086.0 867.0L1086.5 866.8L1087.1 866.3L1087.6 866.8L1088.1 867.0L1088.7 866.9L1089.2 866.5L1089.8 866.5L1090.3 866.6L1090.8 866.8L1091.4 866.6L1091.9 866.4L1092.5 866.5L1093.0 866.0L1093.5 866.2L1094.1 866.5L1094.6 866.6L1095.2 865.9L1095.7 866.4L1096.2 866.2L1096.8 866.6L1097.3 866.3L1097.9 866.4L1098.4 866.0L1098.9 866.2L1099.5 866.4L1100.0 866.1L1100.6 865.9L1101.1 866.9L1101.7 866.2L1102.2 866.4L1102.7 865.9L1103.3 866.4L1103.8 867.3L1104.4 866.3L1104.9 866.4L1105.4 866.8L1106.0 866.5L1106.5 866.9L1107.1 867.0L1107.6 867.2L1108.1 867.6L1108.7 867.5L1109.2 867.5L1109.8 867.9L1110.3 867.5L1110.8 867.3L1111.4 867.9L1111.9 868.1L1112.5 868.1L1113.0 867.9L1113.5 868.1L1114.1 868.0L1114.6 867.9L1115.2 867.8L1115.7 868.2L1116.2 867.9L1116.8 867.7L1117.3 868.5L1117.9 868.6L1118.4 868.2L1119.0 868.3L1119.5 867.8L1120.0 868.1L1120.6 868.1L1121.1 868.2L1121.7 868.3L1122.2 868.7L1122.7 868.6L1123.3 868.7L1123.8 869.0L1124.4 868.6L1124.9 869.0L1125.4 869.1L1126.0 868.6L1126.5 868.7L1127.1 868.2L1127.6 868.8L1128.1 868.9L1128.7 868.6L1129.2 868.9L1129.8 868.6L1130.3 869.0L1130.8 868.9L1131.4 869.1L1131.9 869.8L1132.5 869.7L1133.0 869.2L1133.5 869.2L1134.1 869.6L1134.6 869.3L1135.2 869.5L1135.7 869.4L1136.3 869.5L1136.8 870.2L1137.3 869.8L1137.9 869.7L1138.4 869.6L1139.0 869.6L1139.5 869.5L1140.0 869.6L1140.6 870.2L1141.1 869.5L1141.7 869.7L1142.2 870.0L1142.7 869.7L1143.3 870.4L1143.8 870.4L1144.4 870.9L1144.9 870.2L1145.4 870.8L1146.0 870.4L1146.5 871.0L1147.1 870.9L1147.6 870.8L1148.1 871.3L1148.7 871.1L1149.2 871.5L1149.8 870.7L1150.3 870.9L1150.8 871.7L1151.4 871.5L1151.9 871.9L1152.5 871.8L1153.0 872.4L1153.5 872.1L1154.1 872.5L1154.6 872.3L1155.2 872.2L1155.7 872.8L1156.3 872.7L1156.8 872.9L1157.3 873.0L1157.9 873.0L1158.4 873.8L1159.0 873.9L1159.5 873.2L1160.0 873.4L1160.6 873.5L1161.1 873.4L1161.7 874.0L1162.2 873.8L1162.7 874.2L1163.3 874.3L1163.8 874.5L1164.4 873.9L1164.9 874.1L1165.4 874.4L1166.0 874.7L1166.5 874.3L1167.1 874.8L1167.6 875.0L1168.1 875.0L1168.7 874.9L1169.2 875.2L1169.8 875.0L1170.3 875.6L1170.8 875.1L1171.4 875.6L1171.9 875.8L1172.5 875.9L1173.0 876.0L1173.6 876.2L1174.1 876.5L1174.6 876.5L1175.2 876.9L1175.7 876.7L1176.3 877.2L1176.8 877.5L1177.3 876.9L1177.9 877.9L1178.4 877.6L1179.0 877.9L1179.5 877.5L1180.0 877.6L1180.6 878.0L1181.1 878.3L1181.7 877.8L1182.2 878.5L1182.7 878.4L1183.3 878.7L1183.8 878.3L1184.4 878.5L1184.9 878.2L1185.4 878.8L1186.0 878.6L1186.5 878.6L1187.1 878.8L1187.6 879.3L1188.1 878.9L1188.7 878.6L1189.2 878.8L1189.8 878.5L1190.3 878.6L1190.9 879.1L1191.4 878.6L1191.9 878.7L1192.5 878.2L1193.0 878.9L1193.6 878.4L1194.1 878.1L1194.6 878.7L1195.2 878.2L1195.7 878.3L1196.3 878.4L1196.8 878.5L1197.3 878.3L1197.9 878.2L1198.4 879.0L1199.0 878.2L1199.5 879.3L1200.0 878.6L1200.6 878.9L1201.1 878.6L1201.7 878.9L1202.2 879.0L1202.7 879.1L1203.3 878.8L1203.8 879.2L1204.4 879.3L1204.9 879.7L1205.4 879.4L1206.0 879.1L1206.5 879.6L1207.1 879.7L1207.6 879.1L1208.2 879.8L1208.7 879.0L1209.2 879.0L1209.8 879.5L1210.3 879.3L1210.9 879.2L1211.4 879.2L1211.9 879.4L1212.5 879.2L1213.0 879.1L1213.6 879.0L1214.1 879.4L1214.6 879.1L1215.2 878.4L1215.7 878.9L1216.3 878.5L1216.8 878.7L1217.3 879.1L1217.9 878.5L1218.4 879.2L1219.0 878.9L1219.5 878.7L1220.0 878.5L1220.6 878.8L1221.1 878.8L1221.7 879.1L1222.2 879.1L1222.7 879.2L1223.3 878.9L1223.8 879.2L1224.4 879.0L1224.9 878.9L1225.4 879.1L1226.0 878.8L1226.5 878.8L1227.1 878.7L1227.6 878.8L1228.2 878.2L1228.7 878.4L1229.2 878.0L1229.8 877.6L1230.3 878.0L1230.9 878.0L1231.4 877.5L1231.9 877.6L1232.5 877.6L1233.0 877.2L1233.6 877.4L1234.1 876.9L1234.6 877.0L1235.2 877.3L1235.7 876.9L1236.3 876.9L1236.8 876.5L1237.3 876.3L1237.9 876.2L1238.4 876.7L1239.0 876.4L1239.5 876.3L1240.0 876.3L1240.6 875.9L1241.1 876.0L1241.7 875.9L1242.2 876.2L1242.7 876.3L1243.3 875.9L1243.8 876.2L1244.4 876.4L1244.9 876.2L1245.5 875.8L1246.0 876.0L1246.5 876.4L1247.1 876.4L1247.6 876.1L1248.2 876.6L1248.7 876.2L1249.2 877.2L1249.8 876.7L1250.3 877.0L1250.9 877.0L1251.4 877.4L1251.9 876.9L1252.5 877.4L1253.0 877.4L1253.6 877.7L1254.1 877.9L1254.6 878.1L1255.2 878.1L1255.7 878.7L1256.3 878.3L1256.8 878.7L1257.3 878.2L1257.9 878.6L1258.4 878.4L1259.0 878.9L1259.5 879.2L1260.0 878.8L1260.6 879.1L1261.1 879.3L1261.7 879.5L1262.2 879.7L1262.8 879.5L1263.3 879.2L1263.8 879.6L1264.4 879.1L1264.9 879.4L1265.5 879.2L1266.0 879.5L1266.5 879.6L1267.1 879.1L1267.6 879.1L1268.2 879.0L1268.7 879.5L1269.2 879.1L1269.8 879.2L1270.3 879.3L1270.9 879.5L1271.4 879.3L1271.9 879.2L1272.5 879.4L1273.0 879.7L1273.6 879.2L1274.1 879.4L1274.6 879.3L1275.2 879.8L1275.7 879.5L1276.3 880.2L1276.8 879.8L1277.3 880.1L1277.9 880.1L1278.4 880.0L1279.0 880.1L1279.5 880.4L1280.1 880.0L1280.6 880.4L1281.1 880.7L1281.7 880.2L1282.2 880.5L1282.8 880.5L1283.3 880.6L1283.8 880.4L1284.4 880.5L1284.9 880.0L1285.5 880.7L1286.0 880.0L1286.5 880.0L1287.1 880.1L1287.6 879.8L1288.2 879.7L1288.7 879.7L1289.2 879.9L1289.8 880.1L1290.3 879.6L1290.9 879.8L1291.4 879.6L1291.9 879.4L1292.5 879.7L1293.0 879.4L1293.6 880.0L1294.1 879.8L1294.6 879.2L1295.2 879.1L1295.7 879.0L1296.3 878.9L1296.8 879.2L1297.3 878.6L1297.9 879.1L1298.4 879.0L1299.0 878.4L1299.5 879.1L1300.1 878.9L1300.6 879.1L1301.1 878.8L1301.7 877.9L1302.2 878.4L1302.8 878.4L1303.3 878.0L1303.8 878.1L1304.4 878.6L1304.9 878.8L1305.5 878.1L1306.0 878.1L1306.5 878.2L1307.1 877.9L1307.6 877.6L1308.2 878.3L1308.7 878.1L1309.2 877.8L1309.8 877.8L1310.3 878.1L1310.9 877.6L1311.4 877.5L1311.9 877.9L1312.5 878.2L1313.0 877.9L1313.6 877.6L1314.1 878.1L1314.6 878.7L1315.2 878.5L1315.7 878.3L1316.3 878.4L1316.8 878.5L1317.4 878.2L1317.9 878.6L1318.4 878.8L1319.0 878.9L1319.5 878.5L1320.1 878.8L1320.6 879.0L1321.1 879.1L1321.7 879.1L1322.2 879.5L1322.8 879.0L1323.3 879.4L1323.8 879.4L1324.4 879.3L1324.9 879.5L1325.5 879.1L1326.0 879.3L1326.5 879.8L1327.1 879.6L1327.6 879.7L1328.2 879.6L1328.7 879.9L1329.2 879.6L1329.8 879.6L1330.3 879.7L1330.9 880.1L1331.4 880.2L1331.9 880.4L1332.5 880.1L1333.0 879.9L1333.6 879.9L1334.1 880.4L1334.7 880.2L1335.2 880.0L1335.7 880.6L1336.3 880.2L1336.8 879.8L1337.4 880.0L1337.9 880.3L1338.4 880.2L1339.0 880.5L1339.5 880.2L1340.1 880.2L1340.6 880.2L1341.1 880.3L1341.7 880.2L1342.2 879.7L1342.8 880.1L1343.3 880.0L1343.8 879.7L1344.4 879.9L1344.9 879.9L1345.5 879.9L1346.0 879.9L1346.5 880.0L1347.1 879.7L1347.6 879.7L1348.2 879.6L1348.7 879.1L1349.2 879.5L1349.8 879.4L1350.3 879.6L1350.9 879.3L1351.4 879.3L1352.0 879.3L1352.5 879.2L1353.0 879.1L1353.6 879.0L1354.1 879.2L1354.7 879.4L1355.2 879.2L1355.7 879.6L1356.3 879.5L1356.8 879.3L1357.4 879.2L1357.9 879.4L1358.4 880.3L1359.0 879.7L1359.5 879.8L1360.1 879.4L1360.6 879.4L1361.1 880.1L1361.7 880.3L1362.2 880.4L1362.8 879.8L1363.3 879.6L1363.8 880.1L1364.4 880.4L1364.9 880.1L1365.5 879.8L1366.0 880.3L1366.5 879.9L1367.1 880.1L1367.6 880.4L1368.2 880.0L1368.7 880.5L1369.2 879.8L1369.8 880.1L1370.3 880.1L1370.9 880.2L1371.4 880.3L1372.0 880.4L1372.5 880.0L1373.0 880.2L1373.6 880.1L1374.1 880.2L1374.7 880.5L1375.2 880.2L1375.7 881.0L1376.3 880.2L1376.8 880.4L1377.4 880.4L1377.9 880.3L1378.4 880.3L1379.0 880.6L1379.5 880.2L1380.1 880.2L1380.6 880.2L1381.1 880.4L1381.7 880.1L1382.2 880.5L1382.8 879.5L1383.3 880.4L1383.8 880.3L1384.4 880.6L1384.9 880.2L1385.5 881.1L1386.0 880.9L1386.5 881.2L1387.1 880.9L1387.6 880.9L1388.2 881.4L1388.7 880.8L1389.3 881.4L1389.8 881.1L1390.3 881.3L1390.9 881.0L1391.4 880.9L1392.0 881.5L1392.5 881.3L1393.0 881.4L1393.6 881.2L1394.1 881.6L1394.7 880.8L1395.2 881.2L1395.7 880.9L1396.3 881.2L1396.8 881.3L1397.4 881.6L1397.9 881.3L1398.4 880.9L1399.0 881.2L1399.5 880.8L1400.1 881.1L1400.6 881.1L1401.1 881.2L1401.7 881.2L1402.2 880.8L1402.8 881.3L1403.3 881.2L1403.8 881.3L1404.4 880.4L1404.9 880.7L1405.5 880.5L1406.0 880.6L1406.6 880.1L1407.1 880.0L1407.6 880.3L1408.2 880.1L1408.7 879.9L1409.3 879.5L1409.8 879.8L1410.3 880.0L1410.9 880.0L1411.4 880.0L1412.0 879.7L1412.5 879.7L1413.0 879.7L1413.6 879.9L1414.1 879.7L1414.7 880.1L1415.2 879.8L1415.7 879.7L1416.3 879.7L1416.8 879.9L1417.4 879.8L1417.9 880.2L1418.4 880.3L1419.0 880.5L1419.5 880.8L1420.1 880.8L1420.6 880.9L1421.1 881.2L1421.7 881.3L1422.2 881.2L1422.8 881.4L1423.3 881.6L1423.8 881.5L1424.4 881.8L1424.9 882.2L1425.5 881.7L1426.0 881.9L1426.6 882.1L1427.1 881.8L1427.6 882.0L1428.2 882.3L1428.7 882.5L1429.3 882.7L1429.8 882.5L1430.3 882.6L1430.9 882.9L1431.4 882.5L1432.0 882.5L1432.5 882.3L1433.0 882.9L1433.6 882.9L1434.1 883.4L1434.7 883.2L1435.2 883.4L1435.7 882.7L1436.3 882.9L1436.8 883.3L1437.4 882.9L1437.9 882.8L1438.4 883.1L1439.0 882.6L1439.5 883.2L1440.1 882.9L1440.6 882.8L1441.1 883.1L1441.7 883.0L1442.2 883.4L1442.8 883.4L1443.3 883.4L1443.9 883.8L1444.4 883.0L1444.9 883.4L1445.5 884.1L1446.0 883.5L1446.6 883.9L1447.1 884.1L1447.6 884.2L1448.2 884.1L1448.7 884.6L1449.3 884.1L1449.8 884.2L1450.3 884.2L1450.9 883.9L1451.4 884.2L1452.0 884.1L1452.5 884.3L1453.0 883.9L1453.6 883.9L1454.1 884.2L1454.7 883.7L1455.2 883.5L1455.7 884.2L1456.3 883.6L1456.8 883.7L1457.4 883.8L1457.9 883.5L1458.4 884.3L1459.0 883.9L1459.5 884.0L1460.1 883.7L1460.6 884.0L1461.2 884.3L1461.7 884.1L1462.2 884.2L1462.8 884.2L1463.3 883.9L1463.9 884.0L1464.4 883.9L1464.9 884.2L1465.5 883.7L1466.0 884.2L1466.6 884.0L1467.1 883.7L1467.6 883.8L1468.2 884.2L1468.7 884.5L1469.3 883.8L1469.8 884.0L1470.3 884.4L1470.9 884.0L1471.4 884.1L1472.0 883.8L1472.5 884.0L1473.0 884.2L1473.6 883.9L1474.1 884.5L1474.7 883.9L1475.2 884.8L1475.7 884.6L1476.3 884.6L1476.8 884.7L1477.4 884.7L1477.9 885.1L1478.5 885.2L1479.0 884.8L1479.5 885.0L1480.1 884.7L1480.6 885.0L1481.2 884.7L1481.7 885.2L1482.2 885.3L1482.8 885.0L1483.3 884.8L1483.9 884.9L1484.4 884.8L1484.9 885.0L1485.5 885.0L1486.0 884.8L1486.6 884.6L1487.1 885.1L1487.6 885.1L1488.2 884.9L1488.7 885.1L1489.3 884.3L1489.8 885.1L1490.3 885.1L1490.9 885.3L1491.4 885.1L1492.0 885.5L1492.5 885.5L1493.0 885.1L1493.6 885.1L1494.1 884.9L1494.7 884.8L1495.2 885.3L1495.7 884.7L1496.3 885.0L1496.8 885.0L1497.4 884.5L1497.9 884.7L1498.5 884.8L1499.0 884.9L1499.5 885.2L1500.1 885.6L1500.6 885.0L1501.2 885.1L1501.7 885.3L1502.2 885.2L1502.8 885.4L1503.3 885.4L1503.9 885.4L1504.4 885.2L1504.9 885.0L1505.5 885.3L1506.0 884.6L1506.6 884.8L1507.1 885.3L1507.6 885.4L1508.2 885.0L1508.7 885.2L1509.3 885.7L1509.8 885.2L1510.3 884.9L1510.9 885.0L1511.4 885.2L1512.0 884.9L1512.5 885.2L1513.0 884.8L1513.6 885.1L1514.1 885.0L1514.7 885.1L1515.2 884.9L1515.8 885.1L1516.3 884.6L1516.8 885.2L1517.4 884.8L1517.9 884.9L1518.5 884.7L1519.0 884.9L1519.5 884.7L1520.1 885.0L1520.6 884.9L1521.2 884.8L1521.7 884.6L1522.2 884.6L1522.8 884.9L1523.3 884.9L1523.9 884.6L1524.4 884.7L1524.9 884.5L1525.5 884.5L1526.0 884.6L1526.6 885.3L1527.1 884.8L1527.6 884.7L1528.2 884.8L1528.7 885.0L1529.3 885.2L1529.8 884.9L1530.3 884.7L1530.9 885.1L1531.4 884.8L1532.0 884.3L1532.5 885.2L1533.1 885.0L1533.6 884.6L1534.1 884.9L1534.7 884.3L1535.2 884.4L1535.8 884.5L1536.3 884.3L1536.8 884.7L1537.4 884.7L1537.9 884.9L1538.5 884.4L1539.0 884.0L1539.5 884.3L1540.1 884.9L1540.6 884.4L1541.2 884.3L1541.7 884.5L1542.2 884.9L1542.8 884.1L1543.3 884.5L1543.9 884.4L1544.4 884.7L1544.9 884.1L1545.5 884.6L1546.0 884.7L1546.6 884.6L1547.1 884.2L1547.6 884.5L1548.2 884.5L1548.7 884.9L1549.3 884.3L1549.8 884.0L1550.4 884.5L1550.9 884.1L1551.4 884.4L1552.0 883.7L1552.5 884.0L1553.1 883.8L1553.6 883.7L1554.1 884.2L1554.7 883.9L1555.2 883.7L1555.8 883.7L1556.3 883.9L1556.8 883.9L1557.4 884.0L1557.9 883.9L1558.5 883.6L1559.0 883.8" fill="none" stroke="#00ff00" stroke-width="4.17" stroke-linejoin="round"/>
<circle cx="206.44" cy="45.20" r="16.5" fill="none" stroke="#00ff00" stroke-width="4.17" stroke-miterlimit="10"/>
<circle cx="314.56" cy="334.48" r="16.5" fill="none" stroke="#00ff00" stroke-width="4.17" stroke-miterlimit="10"/>
<circle cx="422.68" cy="613.85" r="16.5" fill="none" stroke="#00ff00" stroke-width="4.17" stroke-miterlimit="10"/>
<circle cx="530.80" cy="784.85" r="16.5" fill="none" stroke="#00ff00" stroke-width="4.17" stroke-miterlimit="10"/>
<circle cx="638.92" cy="850.46" r="16.5" fill="none" stroke="#00ff00" stroke-width="4.17" stroke-miterlimit="10"/>
<circle cx="747.04" cy="883.74" r="16.5" fill="none" stroke="#00ff00" stroke-width="4.17" stroke-miterlimit="10"/>
<circle cx="855.16" cy="888.10" r="16.5" fill="none" stroke="#00ff00" stroke-width="4.17" stroke-miterlimit="10"/>
<circle cx="963.28" cy="887.64" r="16.5" fill="none" stroke="#00ff00" stroke-width="4.17" stroke-miterlimit="10"/>
<circle cx="1071.40" cy="864.29" r="16.5" fill="none" stroke="#00ff00" stroke-width="4.17" stroke-miterlimit="10"/>
<circle cx="1179.52" cy="876.48" r="16.5" fill="none" stroke="#00ff00" stroke-width="4.17" stroke-miterlimit="10"/>
<circle cx="1287.64" cy="878.09" r="16.5" fill="none" stroke="#00ff00" stroke-width="4.17" stroke-miterlimit="10"/>
<circle cx="1395.76" cy="879.64" r="16.5" fill="none" stroke="#00ff00" stroke-width="4.17" stroke-miterlimit="10"/>
<circle cx="1503.88" cy="883.30" r="16.5" fill="none" stroke="#00ff00" stroke-width="4.17" stroke-miterlimit="10"/>
</g>
<g>
<path clip-path="url(#ax)" d="M208.0 46.8L208.6 47.8L209.1 48.8L209.7 49.8L210.2 50.9L210.7 51.9L211.3 52.9L211.8 53.9L212.4 54.9L212.9 55.9L213.4 56.9L214.0 57.9L214.5 59.0L215.1 60.0L215.6 61.0L216.1 62.0L216.7 63.0L217.2 64.0L217.8 65.0L218.3 66.1L218.9 67.1L219.4 68.1L219.9 69.1L220.5 70.1L221.0 71.1L221.6 72.1L222.1 73.1L222.6 74.2L223.2 75.2L223.7 76.2L224.3 77.2L224.8 78.2L225.3 79.2L225.9 80.2L226.4 81.3L227.0 82.3L227.5 83.3L228.0 84.3L228.6 85.3L229.1 86.3L229.7 87.3L230.2 88.4L230.7 89.4L231.3 90.4L231.8 91.4L232.4 92.4L232.9 93.4L233.4 94.4L234.0 95.4L234.5 96.5L235.1 97.5L235.6 98.5L236.2 99.5L236.7 100.5L237.2 101.5L237.8 102.5L238.3 103.6L238.9 104.6L239.4 105.6L239.9 106.6L240.5 107.6L241.0 108.6L241.6 109.6L242.1 110.6L242.6 111.7L243.2 112.7L243.7 113.7L244.3 114.7L244.8 115.7L245.3 116.7L245.9 117.7L246.4 118.8L247.0 119.8L247.5 120.8L248.0 121.8L248.6 122.8L249.1 123.8L249.7 124.8L250.2 125.8L250.7 126.9L251.3 127.9L251.8 128.9L252.4 129.9L252.9 130.9L253.5 131.9L254.0 132.9L254.5 134.0L255.1 135.0L255.6 136.0L256.2 137.0L256.7 138.0L257.2 139.0L257.8 140.0L258.3 141.0L258.9 142.1L259.4 143.1L259.9 144.1L260.5 145.1L261.0 146.1L261.6 147.1L262.1 148.1L262.6 149.2L263.2 150.2L263.7 151.2L264.3 152.2L264.8 153.2L265.3 154.2L265.9 155.2L266.4 156.2L267.0 157.3L267.5 158.3L268.0 159.3L268.6 160.3L269.1 161.3L269.7 162.3L270.2 163.3L270.8 164.4L271.3 165.4L271.8 166.4L272.4 167.4L272.9 168.4L273.5 169.4L274.0 170.4L274.5 171.4L275.1 172.5L275.6 173.5L276.2 174.5L276.7 175.5L277.2 176.5L277.8 177.5L278.3 178.5L278.9 179.6L279.4 180.6L279.9 181.6L280.5 182.6L281.0 183.6L281.6 184.6L282.1 185.6L282.6 186.7L283.2 187.7L283.7 188.7L284.3 189.7L284.8 190.7L285.3 191.7L285.9 192.7L286.4 193.7L287.0 194.8L287.5 195.8L288.0 196.8L288.6 197.8L289.1 198.8L289.7 199.8L290.2 200.8L290.8 201.9L291.3 202.9L291.8 203.9L292.4 204.9L292.9 205.9L293.5 206.9L294.0 207.9L294.5 208.9L295.1 210.0L295.6 211.0L296.2 212.0L296.7 213.0L297.2 214.0L297.8 215.0L298.3 216.0L298.9 217.1L299.4 218.1L299.9 219.1L300.5 220.1L301.0 221.1L301.6 222.1L302.1 223.1L302.6 224.2L303.2 225.2L303.7 226.2L304.3 227.2L304.8 228.2L305.3 229.2L305.9 230.2L306.4 231.3L307.0 232.3L307.5 233.3L308.1 234.3L308.6 235.3L309.1 236.3L309.7 237.3L310.2 238.3L310.8 239.4L311.3 240.4L311.8 241.4L312.4 242.4L312.9 243.4L313.5 244.4L314.0 245.4L314.5 246.5L315.1 247.5L315.6 248.5L316.2 249.5L316.7 250.5L317.2 251.5L317.8 252.5L318.3 253.6L318.9 254.6L319.4 255.6L319.9 256.6L320.5 257.6L321.0 258.6L321.6 259.6L322.1 260.7L322.6 261.7L323.2 262.7L323.7 263.7L324.3 264.7L324.8 265.7L325.4 266.7L325.9 267.8L326.4 268.8L327.0 269.8L327.5 270.8L328.1 271.8L328.6 272.8L329.1 273.9L329.7 274.9L330.2 275.9L330.8 276.9L331.3 277.9L331.8 278.9L332.4 279.9L332.9 281.0L333.5 282.0L334.0 283.0L334.5 284.0L335.1 285.0L335.6 286.0L336.2 287.1L336.7 288.1L337.2 289.1L337.8 290.1L338.3 291.1L338.9 292.1L339.4 293.1L339.9 294.2L340.5 295.2L341.0 296.2L341.6 297.2L342.1 298.2L342.6 299.2L343.2 300.3L343.7 301.3L344.3 302.3L344.8 303.3L345.4 304.3L345.9 305.3L346.4 306.4L347.0 307.4L347.5 308.4L348.1 309.4L348.6 310.4L349.1 311.4L349.7 312.5L350.2 313.5L350.8 314.5L351.3 315.5L351.8 316.5L352.4 317.5L352.9 318.5L353.5 319.6L354.0 320.6L354.5 321.6L355.1 322.6L355.6 323.6L356.2 324.6L356.7 325.7L357.2 326.7L357.8 327.7L358.3 328.7L358.9 329.7L359.4 330.7L359.9 331.8L360.5 332.8L361.0 333.8L361.6 334.8L362.1 335.8L362.7 336.8L363.2 337.9L363.7 338.9L364.3 339.9L364.8 340.9L365.4 341.9L365.9 342.9L366.4 344.0L367.0 345.0L367.5 346.0L368.1 347.0L368.6 348.0L369.1 349.0L369.7 350.0L370.2 351.1L370.8 352.1L371.3 353.1L371.8 354.1L372.4 355.1L372.9 356.1L373.5 357.2L374.0 358.2L374.5 359.2L375.1 360.2L375.6 361.2L376.2 362.2L376.7 363.3L377.2 364.3L377.8 365.3L378.3 366.3L378.9 367.3L379.4 368.3L380.0 369.3L380.5 370.4L381.0 371.4L381.6 372.4L382.1 373.4L382.7 374.4L383.2 375.4L383.7 376.5L384.3 377.5L384.8 378.5L385.4 379.5L385.9 380.5L386.4 381.5L387.0 382.5L387.5 383.6L388.1 384.6L388.6 385.6L389.1 386.6L389.7 387.6L390.2 388.6L390.8 389.6L391.3 390.7L391.8 391.7L392.4 392.7L392.9 393.7L393.5 394.7L394.0 395.7L394.5 396.7L395.1 397.8L395.6 398.8L396.2 399.8L396.7 400.8L397.3 401.8L397.8 402.8L398.3 403.8L398.9 404.8L399.4 405.9L400.0 406.9L400.5 407.9L401.0 408.9L401.6 409.9L402.1 410.9L402.7 411.9L403.2 412.9L403.7 414.0L404.3 415.0L404.8 416.0L405.4 417.0L405.9 418.0L406.4 419.0L407.0 420.0L407.5 421.0L408.1 422.1L408.6 423.1L409.1 424.1L409.7 425.1L410.2 426.1L410.8 427.1L411.3 428.1L411.8 429.1L412.4 430.2L412.9 431.2L413.5 432.2L414.0 433.2L414.5 434.2L415.1 435.2L415.6 436.2L416.2 437.2L416.7 438.2L417.3 439.2L417.8 440.3L418.3 441.3L418.9 442.3L419.4 443.3L420.0 444.3L420.5 445.3L421.0 446.3L421.6 447.3L422.1 448.3L422.7 449.3L423.2 450.4L423.7 451.4L424.3 452.4L424.8 453.4L425.4 454.4L425.9 455.4L426.4 456.4L427.0 457.4L427.5 458.4L428.1 459.4L428.6 460.4L429.1 461.4L429.7 462.4L430.2 463.4L430.8 464.4L431.3 465.4L431.8 466.4L432.4 467.4L432.9 468.4L433.5 469.4L434.0 470.4L434.6 471.4L435.1 472.4L435.6 473.4L436.2 474.4L436.7 475.4L437.3 476.4L437.8 477.4L438.3 478.4L438.9 479.4L439.4 480.4L440.0 481.4L440.5 482.4L441.0 483.4L441.6 484.4L442.1 485.4L442.7 486.4L443.2 487.3L443.7 488.3L444.3 489.3L444.8 490.3L445.4 491.3L445.9 492.3L446.4 493.3L447.0 494.3L447.5 495.3L448.1 496.3L448.6 497.2L449.1 498.2L449.7 499.2L450.2 500.2L450.8 501.2L451.3 502.2L451.9 503.2L452.4 504.2L452.9 505.2L453.5 506.1L454.0 507.1L454.6 508.1L455.1 509.1L455.6 510.1L456.2 511.1L456.7 512.1L457.3 513.0L457.8 514.0L458.3 515.0L458.9 516.0L459.4 517.0L460.0 518.0L460.5 519.0L461.0 519.9L461.6 520.9L462.1 521.9L462.7 522.9L463.2 523.9L463.7 524.9L464.3 525.9L464.8 526.8L465.4 527.8L465.9 528.8L466.4 529.8L467.0 530.8L467.5 531.8L468.1 532.8L468.6 533.7L469.2 534.7L469.7 535.7L470.2 536.7L470.8 537.7L471.3 538.7L471.9 539.7L472.4 540.6L472.9 541.6L473.5 542.6L474.0 543.6L474.6 544.6L475.1 545.6L475.6 546.6L476.2 547.6L476.7 548.5L477.3 549.5L477.8 550.5L478.3 551.5L478.9 552.5L479.4 553.5L480.0 554.5L480.5 555.5L481.0 556.5L481.6 557.4L482.1 558.4L482.7 559.4L483.2 560.4L483.7 561.4L484.3 562.4L484.8 563.4L485.4 564.4L485.9 565.4L486.4 566.4L487.0 567.4L487.5 568.4L488.1 569.3L488.6 570.3L489.2 571.3L489.7 572.3L490.2 573.3L490.8 574.3L491.3 575.3L491.9 576.3L492.4 577.3L492.9 578.3L493.5 579.3L494.0 580.3L494.6 581.3L495.1 582.3L495.6 583.3L496.2 584.3L496.7 585.3L497.3 586.3L497.8 587.3L498.3 588.3L498.9 589.3L499.4 590.3L500.0 591.3L500.5 592.3L501.0 593.3L501.6 594.4L502.1 595.4L502.7 596.4L503.2 597.4L503.7 598.4L504.3 599.4L504.8 600.4L505.4 601.4L505.9 602.4L506.5 603.4L507.0 604.5L507.5 605.5L508.1 606.5L508.6 607.5L509.2 608.5L509.7 609.5L510.2 610.5L510.8 611.6L511.3 612.6L511.9 613.6L512.4 614.6L512.9 615.6L513.5 616.7L514.0 617.7L514.6 618.7L515.1 619.7L515.6 620.8L516.2 621.8L516.7 622.8L517.3 623.8L517.8 624.9L518.3 625.9L518.9 626.9L519.4 628.0L520.0 629.0L520.5 630.0L521.0 631.1L521.6 632.1L522.1 633.1L522.7 634.2L523.2 635.2L523.8 636.3L524.3 637.3L524.8 638.3L525.4 639.4L525.9 640.4L526.5 641.5L527.0 642.5L527.5 643.6L528.1 644.6L528.6 645.7L529.2 646.7L529.7 647.8L530.2 648.8L530.8 649.9L531.3 650.9L531.9 652.0L532.4 653.0L532.9 654.1L533.5 655.2L534.0 656.3L534.6 657.4L535.1 658.5L535.6 659.6L536.2 660.7L536.7 661.8L537.3 662.9L537.8 664.0L538.3 665.1L538.9 666.1L539.4 667.2L540.0 668.2L540.5 669.2L541.1 670.3L541.6 671.3L542.1 672.2L542.7 673.2L543.2 674.2L543.8 675.2L544.3 676.1L544.8 677.1L545.4 678.1L545.9 679.0L546.5 680.0L547.0 680.9L547.5 681.9L548.1 682.8L548.6 683.8L549.2 684.8L549.7 685.7L550.2 686.7L550.8 687.7L551.3 688.6L551.9 689.6L552.4 690.6L552.9 691.5L553.5 692.5L554.0 693.5L554.6 694.5L555.1 695.4L555.6 696.4L556.2 697.4L556.7 698.4L557.3 699.3L557.8 700.3L558.3 701.3L558.9 702.3L559.4 703.2L560.0 704.2L560.5 705.2L561.1 706.1L561.6 707.1L562.1 708.1L562.7 709.1L563.2 710.0L563.8 711.0L564.3 712.0L564.8 713.0L565.4 713.9L565.9 714.9L566.5 715.9L567.0 716.9L567.5 717.9L568.1 718.8L568.6 719.8L569.2 720.8L569.7 721.8L570.2 722.7L570.8 723.7L571.3 724.7L571.9 725.6L572.4 726.6L572.9 727.6L573.5 728.5L574.0 729.5L574.6 730.4L575.1 731.4L575.6 732.3L576.2 733.3L576.7 734.3L577.3 735.2L577.8 736.2L578.4 737.1L578.9 738.1L579.4 739.0L580.0 740.0L580.5 740.9L581.1 741.8L581.6 742.8L582.1 743.7L582.7 744.6L583.2 745.6L583.8 746.5L584.3 747.4L584.8 748.3L585.4 749.2L585.9 750.1L586.5 751.0L587.0 751.8L587.5 752.7L588.1 753.6L588.6 754.5L589.2 755.3L589.7 756.2L590.2 757.1L590.8 757.9L591.3 758.8L591.9 759.7L592.4 760.6L592.9 761.5L593.5 762.4L594.0 763.3L594.6 764.3L595.1 765.2L595.7 766.2L596.2 767.2L596.7 768.2L597.3 769.3L597.8 770.3L598.4 771.4L598.9 772.5L599.4 773.5L600.0 774.6L600.5 775.7L601.1 776.7L601.6 777.8L602.1 778.8L602.7 779.7L603.2 780.7L603.8 781.7L604.3 782.6L604.8 783.6L605.4 784.5L605.9 785.4L606.5 786.4L607.0 787.3L607.5 788.2L608.1 789.1L608.6 790.0L609.2 790.9L609.7 791.8L610.2 792.7L610.8 793.5L611.3 794.3L611.9 795.2L612.4 796.0L613.0 796.8L613.5 797.5L614.0 798.3L614.6 799.0L615.1 799.7L615.7 800.4L616.2 801.1L616.7 801.7L617.3 802.4L617.8 803.1L618.4 803.8L618.9 804.5L619.4 805.3L620.0 806.0L620.5 806.8L621.1 807.5L621.6 808.3L622.1 809.1L622.7 809.8L623.2 810.6L623.8 811.4L624.3 812.1L624.8 812.9L625.4 813.6L625.9 814.4L626.5 815.2L627.0 816.0L627.5 816.7L628.1 817.5L628.6 818.3L629.2 819.0L629.7 819.7L630.2 820.4L630.8 821.1L631.3 821.7L631.9 822.4L632.4 823.0L633.0 823.6L633.5 824.2L634.0 824.9L634.6 825.5L635.1 826.2L635.7 826.9L636.2 827.6L636.7 828.3L637.3 829.0L637.8 829.7L638.4 830.5L638.9 831.2L639.4 831.9L640.0 832.7L640.5 833.4L641.1 834.1L641.6 834.8L642.1 835.5L642.7 836.2L643.2 836.9L643.8 837.5L644.3 838.2L644.8 838.9L645.4 839.6L645.9 840.3L646.5 840.9L647.0 841.6L647.5 842.3L648.1 842.9L648.6 843.6L649.2 844.2L649.7 844.9L650.3 845.5L650.8 846.2L651.3 846.8L651.9 847.4L652.4 848.0L653.0 848.7L653.5 849.3L654.0 849.8L654.6 850.4L655.1 851.0L655.7 851.6L656.2 852.2L656.7 852.8L657.3 853.4L657.8 854.0L658.4 854.6L658.9 855.2L659.4 855.8L660.0 856.4L660.5 857.0L661.1 857.6L661.6 858.2L662.1 858.8L662.7 859.4L663.2 859.9L663.8 860.4L664.3 860.9L664.8 861.4L665.4 861.9L665.9 862.4L666.5 862.9L667.0 863.4L667.6 863.8L668.1 864.3L668.6 864.8L669.2 865.2L669.7 865.6L670.3 866.1L670.8 866.5L671.3 866.9L671.9 867.4L672.4 867.8L673.0 868.2L673.5 868.6L674.0 869.1L674.6 869.5L675.1 869.9L675.7 870.4L676.2 870.8L676.7 871.3L677.3 871.7L677.8 872.1L678.4 872.6L678.9 873.0L679.4 873.4L680.0 873.8L680.5 874.2L681.1 874.6L681.6 875.0L682.1 875.4L682.7 875.8L683.2 876.1L683.8 876.5L684.3 876.9L684.8 877.3L685.4 877.6L685.9 878.0L686.5 878.3L687.0 878.7L687.6 879.0L688.1 879.3L688.6 879.7L689.2 880.0L689.7 880.3L690.3 880.6L690.8 880.9L691.3 881.1L691.9 881.3L692.4 881.9L693.0 882.0L693.5 882.1L694.0 882.6L694.6 883.0L695.1 883.2L695.7 883.5L696.2 883.6L696.7 883.9L697.3 884.3L697.8 884.4L698.4 884.7L698.9 884.9L699.4 885.2L700.0 885.5L700.5 885.9L701.1 885.8L701.6 886.3L702.1 886.7L702.7 887.0L703.2 886.9L703.8 887.4L704.3 888.0L704.9 887.9L705.4 888.3L705.9 888.5L706.5 888.8L707.0 888.8L707.6 888.7L708.1 889.5L708.6 889.5L709.2 889.7L709.7 889.8L710.3 890.1L710.8 890.2L711.3 890.3L711.9 890.0L712.4 890.9L713.0 890.6L713.5 890.6L714.0 891.1L714.6 890.7L715.1 891.0L715.7 891.3L716.2 891.1L716.7 891.5L717.3 891.5L717.8 892.3L718.4 891.9L718.9 892.3L719.4 892.7L720.0 892.5L720.5 892.4L721.1 892.8L721.6 892.6L722.2 892.6L722.7 893.2L723.2 893.3L723.8 893.3L724.3 893.4L724.9 893.2L725.4 894.4L725.9 893.6L726.5 894.0L727.0 894.2L727.6 893.3L728.1 894.1L728.6 894.4L729.2 893.8L729.7 894.4L730.3 894.9L730.8 894.9L731.3 895.2L731.9 896.1L732.4 896.3L733.0 896.6L733.5 896.9L734.0 897.0L734.6 897.7L735.1 898.1L735.7 897.9L736.2 898.2L736.7 898.9L737.3 898.8L737.8 898.6L738.4 898.2L738.9 898.9L739.5 898.9L740.0 899.1L740.5 899.2L741.1 899.9L741.6 899.0L742.2 899.6L742.7 899.6L743.2 900.6L743.8 900.7L744.3 900.7L744.9 901.3L745.4 901.6L745.9 901.1L746.5 902.3L747.0 902.4L747.6 902.7L748.1 903.3L748.6 903.1L749.2 902.6L749.7 903.5L750.3 903.1L750.8 903.6L751.3 903.5L751.9 903.8L752.4 903.7L753.0 904.0L753.5 903.5L754.0 904.4L754.6 904.3L755.1 905.0L755.7 904.1L756.2 904.5L756.7 904.6L757.3 905.1L757.8 904.8L758.4 904.7L758.9 905.3L759.5 904.6L760.0 905.3L760.5 905.5L761.1 904.9L761.6 905.4L762.2 905.5L762.7 905.4L763.2 905.6L763.8 906.3L764.3 906.2L764.9 906.3L765.4 906.5L765.9 906.3L766.5 907.1L767.0 907.2L767.6 907.5L768.1 906.8L768.6 907.4L769.2 907.2L769.7 907.4L770.3 907.4L770.8 906.9L771.3 906.6L771.9 907.3L772.4 906.7L773.0 906.9L773.5 907.2L774.0 907.1L774.6 907.1L775.1 907.4L775.7 907.8L776.2 907.0L776.8 907.1L777.3 907.8L777.8 907.5L778.4 907.6L778.9 907.9L779.5 908.5L780.0 908.2L780.5 908.4L781.1 908.4L781.6 908.7L782.2 908.1L782.7 908.9L783.2 909.0L783.8 909.4L784.3 909.7L784.9 909.4L785.4 909.8L785.9 909.3L786.5 910.9L787.0 909.7L787.6 910.7L788.1 910.5L788.6 911.1L789.2 910.6L789.7 911.0L790.3 911.2L790.8 911.5L791.3 911.3L791.9 911.2L792.4 911.9L793.0 911.5L793.5 911.8L794.1 912.0L794.6 912.2L795.1 912.7L795.7 911.6L796.2 911.9L796.8 911.5L797.3 911.9L797.8 911.3L798.4 911.1L798.9 911.7L799.5 912.0L800.0 912.2L800.5 911.0L801.1 911.7L801.6 911.7L802.2 911.5L802.7 912.0L803.2 912.1L803.8 911.3L804.3 911.9L804.9 911.4L805.4 911.4L805.9 911.6L806.5 911.6L807.0 910.7L807.6 911.0L808.1 911.7L808.6 911.6L809.2 911.2L809.7 910.9L810.3 911.1L810.8 911.7L811.4 911.6L811.9 911.2L812.4 910.7L813.0 910.7L813.5 910.2L814.1 910.3L814.6 909.7L815.1 909.8L815.7 910.1L816.2 909.6L816.8 909.7L817.3 908.8L817.8 909.4L818.4 909.3L818.9 909.2L819.5 909.6L820.0 909.4L820.5 909.2L821.1 910.0L821.6 909.9L822.2 909.8L822.7 910.6L823.2 909.5L823.8 910.3L824.3 910.5L824.9 910.3L825.4 910.2L825.9 910.3L826.5 910.2L827.0 910.7L827.6 910.3L828.1 910.4L828.6 910.9L829.2 910.4L829.7 910.8L830.3 910.5L830.8 911.5L831.4 910.7L831.9 910.9L832.4 911.1L833.0 911.0L833.5 911.4L834.1 911.1L834.6 912.0L835.1 912.1L835.7 912.5L836.2 912.4L836.8 912.5L837.3 912.8L837.8 912.3L838.4 913.1L838.9 913.0L839.5 912.3L840.0 912.7L840.5 912.3L841.1 912.4L841.6 911.8L842.2 912.0L842.7 912.4L843.2 912.6L843.8 912.0L844.3 912.0L844.9 912.0L845.4 912.6L845.9 911.2L846.5 911.5L847.0 911.8L847.6 912.0L848.1 912.1L848.7 912.1L849.2 912.6L849.7 913.1L850.3 912.2L850.8 912.2L851.4 912.4L851.9 912.2L852.4 912.4L853.0 912.8L853.5 913.3L854.1 913.3L854.6 913.2L855.1 913.1L855.7 913.0L856.2 913.3L856.8 912.7L857.3 912.5L857.8 913.0L858.4 912.8L858.9 913.1L859.5 912.1L860.0 911.8L860.5 912.2L861.1 912.6L861.6 911.9L862.2 911.9L862.7 911.7L863.2 911.7L863.8 912.0L864.3 911.9L864.9 911.8L865.4 911.9L866.0 911.6L866.5 911.2L867.0 911.7L867.6 911.1L868.1 910.9L868.7 911.0L869.2 910.9L869.7 910.3L870.3 910.4L870.8 910.8L871.4 910.4L871.9 910.3L872.4 910.5L873.0 910.2L873.5 910.3L874.1 910.3L874.6 910.7L875.1 909.9L875.7 910.6L876.2 910.6L876.8 910.1L877.3 910.5L877.8 910.9L878.4 910.3L878.9 910.9L879.5 910.9L880.0 910.7L880.5 910.7L881.1 910.7L881.6 911.1L882.2 911.1L882.7 911.0L883.2 910.9L883.8 911.2L884.3 910.7L884.9 911.3L885.4 910.9L886.0 911.0L886.5 911.0L887.0 910.9L887.6 910.7L888.1 910.9L888.7 911.3L889.2 911.5L889.7 911.8L890.3 911.2L890.8 911.7L891.4 911.7L891.9 911.1L892.4 911.8L893.0 912.3L893.5 911.8L894.1 912.0L894.6 912.3L895.1 912.7L895.7 912.6L896.2 912.6L896.8 912.4L897.3 912.4L897.8 912.2L898.4 911.6L898.9 911.6L899.5 911.5L900.0 911.2L900.5 911.1L901.1 911.5L901.6 910.7L902.2 910.1L902.7 910.4L903.3 910.5L903.8 910.1L904.3 910.0L904.9 909.4L905.4 909.7L906.0 909.6L906.5 909.0L907.0 909.4L907.6 909.4L908.1 909.1L908.7 908.7L909.2 908.9L909.7 908.8L910.3 908.8L910.8 908.9L911.4 908.9L911.9 908.6L912.4 908.7L913.0 909.4L913.5 908.8L914.1 908.7L914.6 909.3L915.1 908.9L915.7 909.9L916.2 909.0L916.8 909.2L917.3 908.9L917.8 908.6L918.4 908.9L918.9 908.6L919.5 908.1L920.0 907.9L920.6 907.5L921.1 907.0L921.6 908.1L922.2 906.9L922.7 907.0L923.3 907.3L923.8 907.6L924.3 907.1L924.9 907.2L925.4 907.7L926.0 906.8L926.5 908.3L927.0 908.5L927.6 908.8L928.1 908.4L928.7 908.1L929.2 907.5L929.7 908.2L930.3 908.1L930.8 908.1L931.4 908.1L931.9 907.5L932.4 907.8L933.0 907.6L933.5 907.6L934.1 907.5L934.6 907.7L935.1 907.9L935.7 907.5L936.2 907.7L936.8 907.3L937.3 908.3L937.9 908.5L938.4 907.7L938.9 908.0L939.5 908.1L940.0 908.1L940.6 908.1L941.1 907.7L941.6 907.5L942.2 907.5L942.7 908.3L943.3 908.0L943.8 908.2L944.3 908.6L944.9 908.4L945.4 907.9L946.0 908.5L946.5 908.5L947.0 907.6L947.6 907.7L948.1 907.6L948.7 907.9L949.2 907.5L949.7 907.5L950.3 907.4L950.8 907.3L951.4 907.5L951.9 908.1L952.4 907.2L953.0 907.1L953.5 907.6L954.1 906.9L954.6 907.4L955.1 907.8L955.7 907.8L956.2 907.1L956.8 907.2L957.3 906.8L957.9 906.6L958.4 906.6L958.9 906.5L959.5 906.2L960.0 906.8L960.6 906.8L961.1 907.0L961.6 906.5L962.2 907.6L962.7 906.9L963.3 906.7L963.8 907.3L964.3 907.0L964.9 907.7L965.4 907.3L966.0 906.9L966.5 906.5L967.0 907.4L967.6 907.2L968.1 907.3L968.7 907.3L969.2 907.2L969.7 907.1L970.3 907.1L970.8 907.2L971.4 906.9L971.9 907.2L972.4 906.5L973.0 906.6L973.5 906.7L974.1 906.8L974.6 906.8L975.2 906.3L975.7 907.8L976.2 907.5L976.8 907.3L977.3 907.4L977.9 907.5L978.4 907.5L978.9 907.6L979.5 908.1L980.0 908.4L980.6 907.6L981.1 907.3L981.6 907.9L982.2 907.8L982.7 907.9L983.3 908.1L983.8 908.3L984.3 907.9L984.9 907.6L985.4 908.0L986.0 907.5L986.5 908.1L987.0 907.6L987.6 908.1L988.1 908.0L988.7 908.5L989.2 909.1L989.7 908.1L990.3 908.7L990.8 908.1L991.4 908.4L991.9 909.3L992.5 908.2L993.0 909.1L993.5 908.3L994.1 908.5L994.6 908.6L995.2 908.5L995.7 909.0L996.2 908.7L996.8 909.3L997.3 908.8L997.9 909.2L998.4 909.2L998.9 910.1L999.5 909.9L1000.0 909.7L1000.6 909.7L1001.1 910.1L1001.6 909.5L1002.2 909.8L1002.7 909.3L1003.3 909.4L1003.8 908.6L1004.3 909.2L1004.9 909.7L1005.4 908.9L1006.0 908.9L1006.5 909.7L1007.0 908.9L1007.6 909.1L1008.1 909.4L1008.7 909.1L1009.2 909.4L1009.8 909.5L1010.3 909.0L1010.8 909.4L1011.4 910.2L1011.9 909.8L1012.5 910.2L1013.0 909.9L1013.5 911.2L1014.1 911.1L1014.6 911.5L1015.2 911.6L1015.7 911.6L1016.2 912.1L1016.8 912.0L1017.3 912.4L1017.9 912.3L1018.4 911.3L1018.9 911.5L1019.5 910.8L1020.0 909.9L1020.6 909.3L1021.1 908.8L1021.6 907.7L1022.2 906.6L1022.7 906.9L1023.3 906.0L1023.8 905.1L1024.3 904.8L1024.9 903.9L1025.4 903.3L1026.0 902.4L1026.5 902.7L1027.0 902.1L1027.6 901.6L1028.1 902.0L1028.7 901.6L1029.2 900.9L1029.8 902.0L1030.3 901.1L1030.8 901.2L1031.4 900.7L1031.9 901.1L1032.5 900.5L1033.0 900.3L1033.5 900.0L1034.1 899.7L1034.6 899.3L1035.2 899.0L1035.7 898.7L1036.2 898.0L1036.8 898.2L1037.3 897.2L1037.9 897.0L1038.4 896.4L1038.9 896.4L1039.5 896.1L1040.0 895.4L1040.6 894.6L1041.1 894.6L1041.6 894.5L1042.2 893.0L1042.7 893.5L1043.3 894.0L1043.8 892.9L1044.3 892.7L1044.9 893.2L1045.4 893.4L1046.0 892.6L1046.5 892.7L1047.1 892.8L1047.6 893.7L1048.1 892.7L1048.7 892.5L1049.2 893.6L1049.8 893.1L1050.3 893.0L1050.8 893.0L1051.4 893.3L1051.9 892.9L1052.5 892.4L1053.0 892.7L1053.5 892.7L1054.1 892.3L1054.6 892.0L1055.2 891.6L1055.7 891.3L1056.2 890.3L1056.8 890.1L1057.3 890.7L1057.9 889.8L1058.4 889.6L1058.9 889.1L1059.5 888.6L1060.0 888.6L1060.6 888.3L1061.1 888.4L1061.6 887.5L1062.2 888.3L1062.7 887.9L1063.3 887.6L1063.8 887.7L1064.4 888.4L1064.9 888.0L1065.4 887.8L1066.0 888.4L1066.5 888.2L1067.1 887.8L1067.6 887.6L1068.1 888.2L1068.7 887.9L1069.2 887.3L1069.8 887.4L1070.3 886.3L1070.8 886.4L1071.4 886.1L1071.9 886.3L1072.5 886.4L1073.0 886.8L1073.5 885.9L1074.1 886.0L1074.6 886.2L1075.2 885.8L1075.7 886.0L1076.2 885.9L1076.8 885.7L1077.3 885.4L1077.9 885.5L1078.4 885.6L1078.9 885.4L1079.5 884.4L1080.0 884.4L1080.6 883.7L1081.1 884.2L1081.7 883.8L1082.2 883.7L1082.7 883.8L1083.3 883.9L1083.8 882.8L1084.4 883.6L1084.9 883.8L1085.4 883.3L1086.0 883.4L1086.5 883.1L1087.1 883.5L1087.6 884.0L1088.1 884.3L1088.7 884.0L1089.2 883.4L1089.8 884.7L1090.3 884.2L1090.8 884.2L1091.4 884.0L1091.9 884.1L1092.5 883.2L1093.0 883.9L1093.5 884.1L1094.1 883.7L1094.6 883.8L1095.2 883.9L1095.7 884.1L1096.2 883.5L1096.8 883.6L1097.3 883.4L1097.9 882.6L1098.4 883.7L1098.9 883.8L1099.5 883.6L1100.0 883.5L1100.6 883.3L1101.1 882.9L1101.7 883.1L1102.2 883.7L1102.7 883.0L1103.3 883.0L1103.8 883.0L1104.4 882.7L1104.9 883.2L1105.4 883.1L1106.0 883.3L1106.5 882.5L1107.1 883.0L1107.6 882.9L1108.1 882.8L1108.7 882.2L1109.2 882.6L1109.8 882.5L1110.3 882.5L1110.8 882.3L1111.4 882.2L1111.9 881.9L1112.5 881.5L1113.0 882.1L1113.5 882.2L1114.1 881.6L1114.6 881.2L1115.2 880.8L1115.7 882.1L1116.2 881.9L1116.8 881.6L1117.3 881.6L1117.9 881.3L1118.4 881.3L1119.0 881.5L1119.5 881.5L1120.0 882.1L1120.6 882.5L1121.1 882.0L1121.7 882.5L1122.2 881.9L1122.7 882.3L1123.3 882.5L1123.8 882.8L1124.4 882.4L1124.9 882.7L1125.4 882.6L1126.0 883.4L1126.5 882.6L1127.1 882.3L1127.6 882.8L1128.1 882.8L1128.7 882.6L1129.2 882.8L1129.8 883.2L1130.3 883.0L1130.8 883.5L1131.4 883.3L1131.9 883.3L1132.5 883.9L1133.0 884.0L1133.5 883.9L1134.1 884.0L1134.6 883.8L1135.2 884.7L1135.7 885.1L1136.3 884.2L1136.8 885.4L1137.3 884.4L1137.9 884.8L1138.4 884.9L1139.0 884.3L1139.5 884.6L1140.0 884.8L1140.6 884.7L1141.1 884.5L1141.7 885.2L1142.2 884.3L1142.7 884.3L1143.3 884.7L1143.8 885.0L1144.4 884.9L1144.9 885.6L1145.4 885.9L1146.0 885.5L1146.5 886.3L1147.1 886.5L1147.6 887.1L1148.1 886.9L1148.7 887.2L1149.2 887.1L1149.8 887.6L1150.3 887.5L1150.8 887.2L1151.4 887.4L1151.9 886.4L1152.5 887.1L1153.0 886.7L1153.5 886.4L1154.1 887.0L1154.6 886.7L1155.2 885.9L1155.7 886.3L1156.3 886.6L1156.8 885.8L1157.3 885.4L1157.9 885.5L1158.4 885.9L1159.0 885.5L1159.5 885.4L1160.0 885.3L1160.6 886.0L1161.1 885.4L1161.7 885.4L1162.2 885.9L1162.7 885.6L1163.3 886.0L1163.8 885.2L1164.4 886.0L1164.9 885.5L1165.4 885.2L1166.0 885.3L1166.5 885.9L1167.1 885.9L1167.6 886.1L1168.1 886.3L1168.7 885.8L1169.2 886.0L1169.8 886.2L1170.3 886.0L1170.8 885.9L1171.4 886.3L1171.9 885.6L1172.5 885.7L1173.0 885.7L1173.6 885.6L1174.1 885.5L1174.6 885.4L1175.2 885.4L1175.7 885.3L1176.3 885.9L1176.8 885.5L1177.3 885.3L1177.9 885.0L1178.4 885.2L1179.0 885.0L1179.5 885.2L1180.0 885.2L1180.6 884.3L1181.1 884.4L1181.7 883.9L1182.2 884.1L1182.7 884.1L1183.3 884.1L1183.8 884.4L1184.4 883.3L1184.9 883.4L1185.4 883.0L1186.0 882.7L1186.5 883.1L1187.1 881.8L1187.6 881.5L1188.1 881.4L1188.7 881.5L1189.2 880.2L1189.8 880.8L1190.3 879.7L1190.9 880.8L1191.4 879.5L1191.9 879.8L1192.5 879.8L1193.0 879.5L1193.6 880.3L1194.1 880.2L1194.6 879.9L1195.2 880.0L1195.7 879.8L1196.3 879.8L1196.8 879.4L1197.3 880.1L1197.9 879.9L1198.4 879.3L1199.0 878.8L1199.5 879.3L1200.0 879.0L1200.6 879.1L1201.1 878.5L1201.7 879.2L1202.2 878.8L1202.7 879.5L1203.3 879.6L1203.8 879.2L1204.4 879.7L1204.9 879.3L1205.4 880.0L1206.0 879.7L1206.5 879.6L1207.1 880.2L1207.6 881.0L1208.2 880.8L1208.7 879.7L1209.2 880.1L1209.8 879.8L1210.3 880.4L1210.9 879.8L1211.4 879.5L1211.9 880.1L1212.5 879.9L1213.0 879.9L1213.6 880.0L1214.1 879.7L1214.6 880.1L1215.2 879.3L1215.7 879.9L1216.3 879.4L1216.8 880.2L1217.3 880.1L1217.9 880.4L1218.4 880.0L1219.0 880.3L1219.5 880.4L1220.0 880.3L1220.6 880.1L1221.1 880.1L1221.7 880.0L1222.2 880.7L1222.7 879.6L1223.3 879.8L1223.8 880.3L1224.4 879.7L1224.9 879.2L1225.4 879.9L1226.0 879.9L1226.5 880.2L1227.1 879.7L1227.6 880.1L1228.2 880.1L1228.7 879.5L1229.2 879.6L1229.8 880.3L1230.3 879.4L1230.9 879.9L1231.4 879.5L1231.9 879.5L1232.5 879.2L1233.0 880.0L1233.6 879.6L1234.1 879.2L1234.6 880.0L1235.2 879.7L1235.7 879.1L1236.3 880.0L1236.8 879.1L1237.3 880.2L1237.9 879.5L1238.4 879.4L1239.0 880.3L1239.5 880.0L1240.0 879.8L1240.6 879.6L1241.1 879.4L1241.7 880.0L1242.2 880.0L1242.7 879.2L1243.3 880.2L1243.8 879.8L1244.4 880.0L1244.9 880.4L1245.5 880.3L1246.0 880.2L1246.5 880.2L1247.1 880.5L1247.6 881.0L1248.2 881.7L1248.7 881.7L1249.2 881.0L1249.8 881.7L1250.3 881.0L1250.9 881.4L1251.4 880.8L1251.9 881.0L1252.5 880.4L1253.0 880.6L1253.6 880.7L1254.1 880.9L1254.6 880.1L1255.2 880.4L1255.7 880.4L1256.3 880.1L1256.8 881.0L1257.3 879.9L1257.9 880.1L1258.4 880.5L1259.0 880.6L1259.5 880.3L1260.0 880.2L1260.6 880.5L1261.1 880.4L1261.7 880.3L1262.2 880.4L1262.8 880.4L1263.3 880.4L1263.8 880.0L1264.4 880.1L1264.9 881.0L1265.5 881.2L1266.0 880.2L1266.5 879.8L1267.1 881.0L1267.6 880.8L1268.2 880.9L1268.7 880.8L1269.2 880.7L1269.8 881.4L1270.3 881.2L1270.9 881.8L1271.4 881.4L1271.9 882.0L1272.5 882.1L1273.0 882.0L1273.6 882.4L1274.1 882.2L1274.6 882.6L1275.2 882.5L1275.7 882.1L1276.3 882.7L1276.8 882.5L1277.3 882.6L1277.9 884.0L1278.4 882.6L1279.0 882.9L1279.5 882.7L1280.1 883.8L1280.6 883.0L1281.1 881.9L1281.7 882.7L1282.2 882.8L1282.8 883.3L1283.3 883.1L1283.8 883.3L1284.4 882.6L1284.9 882.9L1285.5 883.3L1286.0 881.9L1286.5 882.6L1287.1 882.7L1287.6 882.3L1288.2 882.5L1288.7 882.6L1289.2 882.1L1289.8 881.9L1290.3 881.4L1290.9 882.4L1291.4 881.6L1291.9 881.6L1292.5 881.5L1293.0 882.4L1293.6 881.3L1294.1 881.2L1294.6 880.2L1295.2 880.5L1295.7 880.8L1296.3 880.5L1296.8 880.5L1297.3 881.1L1297.9 881.3L1298.4 880.5L1299.0 880.7L1299.5 880.4L1300.1 880.7L1300.6 880.2L1301.1 880.8L1301.7 879.6L1302.2 880.2L1302.8 879.7L1303.3 879.6L1303.8 879.7L1304.4 879.8L1304.9 880.2L1305.5 879.4L1306.0 879.5L1306.5 879.4L1307.1 879.1L1307.6 879.6L1308.2 879.3L1308.7 879.2L1309.2 879.4L1309.8 879.6L1310.3 879.3L1310.9 879.9L1311.4 879.7L1311.9 879.8L1312.5 879.9L1313.0 880.1L1313.6 880.2L1314.1 880.8L1314.6 880.5L1315.2 879.9L1315.7 880.7L1316.3 881.1L1316.8 880.9L1317.4 881.1L1317.9 881.2L1318.4 881.0L1319.0 881.9L1319.5 881.8L1320.1 881.9L1320.6 882.0L1321.1 881.9L1321.7 882.7L1322.2 882.4L1322.8 881.9L1323.3 882.4L1323.8 882.5L1324.4 882.4L1324.9 882.1L1325.5 882.5L1326.0 882.7L1326.5 882.4L1327.1 882.9L1327.6 882.0L1328.2 882.8L1328.7 882.3L1329.2 882.5L1329.8 883.1L1330.3 882.6L1330.9 883.2L1331.4 882.3L1331.9 882.4L1332.5 882.5L1333.0 882.7L1333.6 881.7L1334.1 882.7L1334.7 882.4L1335.2 882.2L1335.7 882.3L1336.3 882.9L1336.8 882.5L1337.4 882.9L1337.9 883.2L1338.4 883.3L1339.0 883.5L1339.5 884.3L1340.1 883.9L1340.6 884.2L1341.1 884.4L1341.7 884.1L1342.2 884.0L1342.8 883.6L1343.3 883.5L1343.8 884.0L1344.4 883.4L1344.9 883.5L1345.5 882.9L1346.0 882.5L1346.5 882.5L1347.1 882.8L1347.6 882.2L1348.2 882.6L1348.7 882.5L1349.2 882.6L1349.8 882.1L1350.3 882.0L1350.9 881.9L1351.4 881.1L1352.0 881.1L1352.5 881.4L1353.0 880.4L1353.6 880.5L1354.1 880.9L1354.7 880.5L1355.2 880.2L1355.7 880.1L1356.3 880.2L1356.8 880.5L1357.4 880.3L1357.9 880.5L1358.4 880.1L1359.0 879.9L1359.5 880.6L1360.1 880.3L1360.6 880.3L1361.1 880.7L1361.7 880.1L1362.2 880.6L1362.8 880.1L1363.3 880.6L1363.8 881.3L1364.4 881.5L1364.9 881.4L1365.5 881.8L1366.0 881.1L1366.5 881.4L1367.1 882.1L1367.6 882.0L1368.2 881.6L1368.7 881.1L1369.2 881.3L1369.8 881.0L1370.3 882.2L1370.9 881.9L1371.4 881.8L1372.0 881.8L1372.5 882.1L1373.0 881.9L1373.6 882.0L1374.1 881.5L1374.7 881.9L1375.2 882.1L1375.7 882.3L1376.3 883.2L1376.8 883.1L1377.4 883.1L1377.9 882.6L1378.4 883.2L1379.0 882.7L1379.5 882.9L1380.1 882.7L1380.6 882.8L1381.1 882.9L1381.7 883.3L1382.2 882.8L1382.8 883.0L1383.3 883.0L1383.8 883.1L1384.4 882.7L1384.9 882.9L1385.5 882.3L1386.0 882.3L1386.5 882.4L1387.1 882.1L1387.6 882.5L1388.2 882.3L1388.7 882.4L1389.3 882.5L1389.8 882.1L1390.3 882.7L1390.9 882.4L1391.4 882.6L1392.0 882.4L1392.5 882.4L1393.0 882.3L1393.6 883.2L1394.1 883.2L1394.7 883.4L1395.2 883.1L1395.7 883.1L1396.3 883.0L1396.8 883.4L1397.4 883.4L1397.9 883.6L1398.4 883.3L1399.0 882.8L1399.5 882.5L1400.1 881.3L1400.6 882.6L1401.1 882.1L1401.7 881.6L1402.2 881.9L1402.8 881.5L1403.3 882.0L1403.8 881.4L1404.4 881.8L1404.9 882.1L1405.5 882.0L1406.0 881.6L1406.6 881.4L1407.1 881.9L1407.6 882.0L1408.2 882.3L1408.7 882.6L1409.3 881.7L1409.8 882.6L1410.3 883.1L1410.9 883.0L1411.4 882.7L1412.0 883.2L1412.5 883.5L1413.0 883.7L1413.6 883.5L1414.1 883.6L1414.7 883.0L1415.2 883.6L1415.7 883.2L1416.3 882.9L1416.8 883.8L1417.4 883.6L1417.9 883.1L1418.4 883.1L1419.0 883.4L1419.5 883.0L1420.1 883.6L1420.6 882.7L1421.1 882.5L1421.7 882.7L1422.2 882.6L1422.8 882.3L1423.3 882.2L1423.8 882.0L1424.4 882.3L1424.9 882.2L1425.5 881.9L1426.0 882.0L1426.6 882.0L1427.1 881.9L1427.6 882.1L1428.2 881.9L1428.7 882.7L1429.3 881.9L1429.8 881.6L1430.3 881.8L1430.9 881.5L1431.4 881.6L1432.0 880.9L1432.5 881.5L1433.0 880.6L1433.6 880.1L1434.1 880.2L1434.7 878.8L1435.2 879.7L1435.7 879.5L1436.3 878.7L1436.8 878.6L1437.4 879.2L1437.9 878.0L1438.4 878.6L1439.0 878.0L1439.5 879.2L1440.1 878.6L1440.6 878.4L1441.1 879.0L1441.7 879.2L1442.2 879.3L1442.8 879.5L1443.3 879.2L1443.9 879.0L1444.4 879.3L1444.9 879.4L1445.5 879.1L1446.0 879.7L1446.6 878.9L1447.1 879.2L1447.6 878.4L1448.2 878.1L1448.7 878.6L1449.3 878.5L1449.8 877.8L1450.3 877.8L1450.9 878.1L1451.4 878.2L1452.0 877.6L1452.5 877.9L1453.0 878.3L1453.6 878.2L1454.1 878.4L1454.7 878.1L1455.2 878.3L1455.7 877.9L1456.3 878.2L1456.8 878.6L1457.4 878.1L1457.9 878.3L1458.4 878.0L1459.0 878.5L1459.5 879.0L1460.1 878.6L1460.6 878.0L1461.2 878.6L1461.7 878.2L1462.2 878.6L1462.8 878.0L1463.3 878.3L1463.9 877.8L1464.4 877.6L1464.9 877.4L1465.5 877.4L1466.0 876.9L1466.6 877.6L1467.1 877.3L1467.6 877.1L1468.2 876.5L1468.7 877.0L1469.3 876.6L1469.8 877.0L1470.3 877.1L1470.9 877.5L1471.4 877.3L1472.0 877.9L1472.5 877.1L1473.0 877.6L1473.6 877.6L1474.1 878.4L1474.7 878.1L1475.2 878.2L1475.7 878.6L1476.3 878.9L1476.8 879.0L1477.4 879.5L1477.9 879.2L1478.5 879.1L1479.0 879.3L1479.5 878.6L1480.1 878.7L1480.6 878.9L1481.2 878.4L1481.7 878.6L1482.2 878.8L1482.8 878.6L1483.3 879.2L1483.9 878.5L1484.4 879.4L1484.9 879.1L1485.5 879.0L1486.0 879.2L1486.6 879.8L1487.1 879.9L1487.6 879.4L1488.2 880.2L1488.7 879.9L1489.3 880.0L1489.8 880.3L1490.3 880.4L1490.9 880.5L1491.4 880.7L1492.0 880.7L1492.5 880.2L1493.0 881.0L1493.6 880.6L1494.1 881.1L1494.7 880.7L1495.2 880.8L1495.7 881.2L1496.3 881.2L1496.8 880.9L1497.4 881.0L1497.9 881.5L1498.5 880.5L1499.0 880.8L1499.5 880.9L1500.1 880.6L1500.6 880.5L1501.2 880.2L1501.7 880.1L1502.2 880.3L1502.8 879.9L1503.3 879.1L1503.9 880.0L1504.4 879.8L1504.9 880.0L1505.5 880.1L1506.0 879.9L1506.6 879.9L1507.1 879.8L1507.6 880.3L1508.2 880.6L1508.7 880.7L1509.3 880.4L1509.8 880.6L1510.3 880.5L1510.9 880.2L1511.4 880.5L1512.0 880.3L1512.5 879.6L1513.0 879.9L1513.6 879.8L1514.1 879.5L1514.7 880.0L1515.2 880.6L1515.8 880.5L1516.3 880.5L1516.8 880.8L1517.4 880.3L1517.9 880.5L1518.5 880.5L1519.0 880.4L1519.5 880.8L1520.1 880.6L1520.6 880.6L1521.2 880.7L1521.7 880.8L1522.2 880.2L1522.8 880.6L1523.3 880.5L1523.9 880.5L1524.4 879.6L1524.9 880.7L1525.5 880.2L1526.0 880.7L1526.6 880.4L1527.1 880.7L1527.6 880.1L1528.2 881.0L1528.7 880.4L1529.3 879.9L1529.8 879.9L1530.3 880.4L1530.9 880.1L1531.4 880.1L1532.0 880.3L1532.5 879.6L1533.1 879.6L1533.6 880.0L1534.1 879.3L1534.7 879.7L1535.2 879.6L1535.8 879.2L1536.3 878.8L1536.8 879.1L1537.4 879.4L1537.9 879.4L1538.5 878.9L1539.0 879.9L1539.5 879.9L1540.1 880.1L1540.6 879.5L1541.2 879.0L1541.7 880.0L1542.2 879.5L1542.8 879.4L1543.3 879.0L1543.9 878.6L1544.4 878.3L1544.9 878.2L1545.5 878.5L1546.0 877.9L1546.6 877.5L1547.1 878.1L1547.6 877.7L1548.2 877.6L1548.7 877.8L1549.3 877.8L1549.8 878.0L1550.4 878.5L1550.9 878.3L1551.4 878.6L1552.0 878.4L1552.5 878.7L1553.1 878.4L1553.6 879.1L1554.1 878.9L1554.7 879.4L1555.2 879.2L1555.8 879.5L1556.3 879.0L1556.8 879.1L1557.4 878.4L1557.9 879.1L1558.5 878.2L1559.0 878.8" fill="none" stroke="#00ffff" stroke-width="4.17" stroke-linejoin="round"/>
<polygon points="188.94,57.90 227.14,57.90 208.04,24.80" fill="none" stroke="#00ffff" stroke-width="4.17" stroke-miterlimit="10"/>
<polygon points="297.06,260.60 335.26,260.60 316.16,227.50" fill="none" stroke="#00ffff" stroke-width="4.17" stroke-miterlimit="10"/>
<polygon points="405.18,463.47 443.38,463.47 424.28,430.37" fill="none" stroke="#00ffff" stroke-width="4.17" stroke-miterlimit="10"/>
<polygon points="513.30,664.12 551.50,664.12 532.40,631.02" fill="none" stroke="#00ffff" stroke-width="4.17" stroke-miterlimit="10"/>
<polygon points="621.42,844.47 659.62,844.47 640.52,811.37" fill="none" stroke="#00ffff" stroke-width="4.17" stroke-miterlimit="10"/>
<polygon points="729.54,914.19 767.74,914.19 748.64,881.09" fill="none" stroke="#00ffff" stroke-width="4.17" stroke-miterlimit="10"/>
<polygon points="837.66,923.46 875.86,923.46 856.76,890.36" fill="none" stroke="#00ffff" stroke-width="4.17" stroke-miterlimit="10"/>
<polygon points="945.78,918.49 983.98,918.49 964.88,885.39" fill="none" stroke="#00ffff" stroke-width="4.17" stroke-miterlimit="10"/>
<polygon points="1053.90,898.96 1092.10,898.96 1073.00,865.86" fill="none" stroke="#00ffff" stroke-width="4.17" stroke-miterlimit="10"/>
<polygon points="1162.02,894.78 1200.22,894.78 1181.12,861.68" fill="none" stroke="#00ffff" stroke-width="4.17" stroke-miterlimit="10"/>
<polygon points="1270.14,893.44 1308.34,893.44 1289.24,860.34" fill="none" stroke="#00ffff" stroke-width="4.17" stroke-miterlimit="10"/>
<polygon points="1378.26,893.79 1416.46,893.79 1397.36,860.69" fill="none" stroke="#00ffff" stroke-width="4.17" stroke-miterlimit="10"/>
<polygon points="1486.38,891.56 1524.58,891.56 1505.48,858.46" fill="none" stroke="#00ffff" stroke-width="4.17" stroke-miterlimit="10"/>
</g>
<g>
<path clip-path="url(#ax)" d="M208.0 46.8L208.6 48.2L209.1 49.5L209.7 50.9L210.2 52.3L210.7 53.6L211.3 55.0L211.8 56.4L212.4 57.7L212.9 59.1L213.4 60.4L214.0 61.8L214.5 63.2L215.1 64.5L215.6 65.9L216.1 67.3L216.7 68.6L217.2 70.0L217.8 71.3L218.3 72.7L218.9 74.1L219.4 75.4L219.9 76.8L220.5 78.2L221.0 79.5L221.6 80.9L222.1 82.2L222.6 83.6L223.2 85.0L223.7 86.3L224.3 87.7L224.8 89.0L225.3 90.4L225.9 91.8L226.4 93.1L227.0 94.5L227.5 95.8L228.0 97.2L228.6 98.6L229.1 99.9L229.7 101.3L230.2 102.6L230.7 104.0L231.3 105.4L231.8 106.7L232.4 108.1L232.9 109.4L233.4 110.8L234.0 112.2L234.5 113.5L235.1 114.9L235.6 116.2L236.2 117.6L236.7 119.0L237.2 120.3L237.8 121.7L238.3 123.0L238.9 124.4L239.4 125.8L239.9 127.1L240.5 128.5L241.0 129.9L241.6 131.2L242.1 132.6L242.6 133.9L243.2 135.3L243.7 136.7L244.3 138.0L244.8 139.4L245.3 140.8L245.9 142.1L246.4 143.5L247.0 144.9L247.5 146.2L248.0 147.6L248.6 149.0L249.1 150.3L249.7 151.7L250.2 153.1L250.7 154.4L251.3 155.8L251.8 157.2L252.4 158.5L252.9 159.9L253.5 161.3L254.0 162.6L254.5 164.0L255.1 165.4L255.6 166.8L256.2 168.1L256.7 169.5L257.2 170.9L257.8 172.3L258.3 173.6L258.9 175.0L259.4 176.4L259.9 177.8L260.5 179.1L261.0 180.5L261.6 181.9L262.1 183.3L262.6 184.6L263.2 186.0L263.7 187.4L264.3 188.8L264.8 190.2L265.3 191.5L265.9 192.9L266.4 194.3L267.0 195.7L267.5 197.1L268.0 198.5L268.6 199.8L269.1 201.2L269.7 202.6L270.2 204.0L270.8 205.4L271.3 206.8L271.8 208.2L272.4 209.6L272.9 210.9L273.5 212.3L274.0 213.7L274.5 215.1L275.1 216.5L275.6 217.9L276.2 219.3L276.7 220.7L277.2 222.1L277.8 223.5L278.3 224.8L278.9 226.2L279.4 227.6L279.9 229.0L280.5 230.4L281.0 231.8L281.6 233.2L282.1 234.6L282.6 236.0L283.2 237.4L283.7 238.8L284.3 240.2L284.8 241.6L285.3 243.0L285.9 244.4L286.4 245.8L287.0 247.2L287.5 248.6L288.0 250.0L288.6 251.4L289.1 252.8L289.7 254.2L290.2 255.6L290.8 257.0L291.3 258.4L291.8 259.8L292.4 261.2L292.9 262.6L293.5 264.0L294.0 265.4L294.5 266.8L295.1 268.2L295.6 269.6L296.2 271.0L296.7 272.4L297.2 273.8L297.8 275.2L298.3 276.6L298.9 278.1L299.4 279.5L299.9 280.9L300.5 282.3L301.0 283.7L301.6 285.1L302.1 286.5L302.6 287.9L303.2 289.3L303.7 290.8L304.3 292.2L304.8 293.6L305.3 295.0L305.9 296.4L306.4 297.8L307.0 299.3L307.5 300.7L308.1 302.1L308.6 303.5L309.1 304.9L309.7 306.4L310.2 307.8L310.8 309.2L311.3 310.6L311.8 312.0L312.4 313.5L312.9 314.9L313.5 316.3L314.0 317.7L314.5 319.2L315.1 320.6L315.6 322.0L316.2 323.4L316.7 324.9L317.2 326.3L317.8 327.7L318.3 329.2L318.9 330.6L319.4 332.0L319.9 333.5L320.5 334.9L321.0 336.4L321.6 337.8L322.1 339.3L322.6 340.7L323.2 342.2L323.7 343.6L324.3 345.1L324.8 346.5L325.4 348.0L325.9 349.4L326.4 350.9L327.0 352.4L327.5 353.8L328.1 355.3L328.6 356.7L329.1 358.2L329.7 359.7L330.2 361.1L330.8 362.6L331.3 364.1L331.8 365.6L332.4 367.0L332.9 368.5L333.5 370.0L334.0 371.5L334.5 372.9L335.1 374.4L335.6 375.9L336.2 377.4L336.7 378.9L337.2 380.4L337.8 381.8L338.3 383.3L338.9 384.8L339.4 386.3L339.9 387.8L340.5 389.3L341.0 390.8L341.6 392.3L342.1 393.7L342.6 395.2L343.2 396.7L343.7 398.2L344.3 399.7L344.8 401.2L345.4 402.7L345.9 404.2L346.4 405.7L347.0 407.2L347.5 408.7L348.1 410.2L348.6 411.7L349.1 413.2L349.7 414.7L350.2 416.2L350.8 417.7L351.3 419.2L351.8 420.7L352.4 422.2L352.9 423.7L353.5 425.2L354.0 426.7L354.5 428.2L355.1 429.7L355.6 431.2L356.2 432.7L356.7 434.2L357.2 435.7L357.8 437.2L358.3 438.8L358.9 440.3L359.4 441.8L359.9 443.3L360.5 444.8L361.0 446.3L361.6 447.8L362.1 449.3L362.7 450.8L363.2 452.3L363.7 453.8L364.3 455.3L364.8 456.8L365.4 458.3L365.9 459.8L366.4 461.3L367.0 462.8L367.5 464.3L368.1 465.8L368.6 467.3L369.1 468.8L369.7 470.3L370.2 471.8L370.8 473.3L371.3 474.8L371.8 476.3L372.4 477.8L372.9 479.3L373.5 480.8L374.0 482.3L374.5 483.8L375.1 485.3L375.6 486.8L376.2 488.3L376.7 489.8L377.2 491.3L377.8 492.8L378.3 494.2L378.9 495.7L379.4 497.2L380.0 498.7L380.5 500.2L381.0 501.7L381.6 503.2L382.1 504.7L382.7 506.1L383.2 507.6L383.7 509.1L384.3 510.6L384.8 512.1L385.4 513.5L385.9 515.0L386.4 516.5L387.0 518.0L387.5 519.4L388.1 520.9L388.6 522.4L389.1 523.8L389.7 525.3L390.2 526.8L390.8 528.2L391.3 529.7L391.8 531.2L392.4 532.6L392.9 534.1L393.5 535.6L394.0 537.0L394.5 538.5L395.1 539.9L395.6 541.4L396.2 542.8L396.7 544.3L397.3 545.7L397.8 547.2L398.3 548.6L398.9 550.0L399.4 551.5L400.0 552.9L400.5 554.4L401.0 555.8L401.6 557.2L402.1 558.7L402.7 560.1L403.2 561.5L403.7 562.9L404.3 564.4L404.8 565.8L405.4 567.2L405.9 568.6L406.4 570.0L407.0 571.5L407.5 572.9L408.1 574.3L408.6 575.7L409.1 577.1L409.7 578.5L410.2 579.9L410.8 581.3L411.3 582.7L411.8 584.1L412.4 585.5L412.9 586.9L413.5 588.2L414.0 589.6L414.5 591.0L415.1 592.4L415.6 593.8L416.2 595.1L416.7 596.5L417.3 597.9L417.8 599.3L418.3 600.6L418.9 602.0L419.4 603.3L420.0 604.7L420.5 606.1L421.0 607.4L421.6 608.8L422.1 610.1L422.7 611.4L423.2 612.8L423.7 614.1L424.3 615.5L424.8 616.8L425.4 618.1L425.9 619.4L426.4 620.7L427.0 622.1L427.5 623.4L428.1 624.7L428.6 626.0L429.1 627.2L429.7 628.5L430.2 629.8L430.8 631.1L431.3 632.4L431.8 633.6L432.4 634.9L432.9 636.2L433.5 637.4L434.0 638.7L434.6 639.9L435.1 641.2L435.6 642.4L436.2 643.7L436.7 644.9L437.3 646.2L437.8 647.4L438.3 648.7L438.9 649.9L439.4 651.2L440.0 652.4L440.5 653.6L441.0 654.9L441.6 656.1L442.1 657.3L442.7 658.6L443.2 659.8L443.7 661.0L444.3 662.3L444.8 663.5L445.4 664.7L445.9 666.0L446.4 667.2L447.0 668.4L447.5 669.7L448.1 670.9L448.6 672.2L449.1 673.4L449.7 674.7L450.2 675.9L450.8 677.2L451.3 678.4L451.9 679.7L452.4 680.9L452.9 682.2L453.5 683.4L454.0 684.7L454.6 686.0L455.1 687.2L455.6 688.5L456.2 689.8L456.7 691.0L457.3 692.3L457.8 693.6L458.3 694.9L458.9 696.1L459.4 697.4L460.0 698.7L460.5 699.9L461.0 701.2L461.6 702.5L462.1 703.8L462.7 705.0L463.2 706.3L463.7 707.6L464.3 708.9L464.8 710.1L465.4 711.4L465.9 712.7L466.4 714.0L467.0 715.2L467.5 716.5L468.1 717.8L468.6 719.1L469.2 720.3L469.7 721.6L470.2 722.9L470.8 724.1L471.3 725.4L471.9 726.7L472.4 728.0L472.9 729.2L473.5 730.5L474.0 731.8L474.6 733.1L475.1 734.4L475.6 735.7L476.2 737.0L476.7 738.3L477.3 739.6L477.8 740.9L478.3 742.3L478.9 743.6L479.4 744.9L480.0 746.2L480.5 747.6L481.0 748.9L481.6 750.2L482.1 751.5L482.7 752.8L483.2 754.2L483.7 755.5L484.3 756.8L484.8 758.0L485.4 759.3L485.9 760.6L486.4 761.9L487.0 763.1L487.5 764.4L488.1 765.6L488.6 766.8L489.2 768.0L489.7 769.2L490.2 770.4L490.8 771.6L491.3 772.7L491.9 773.8L492.4 774.9L492.9 776.0L493.5 777.1L494.0 778.1L494.6 779.1L495.1 780.1L495.6 781.1L496.2 782.0L496.7 783.0L497.3 783.9L497.8 784.9L498.3 785.8L498.9 786.8L499.4 787.8L500.0 788.8L500.5 789.8L501.0 790.7L501.6 791.7L502.1 792.7L502.7 793.7L503.2 794.7L503.7 795.6L504.3 796.5L504.8 797.4L505.4 798.3L505.9 799.2L506.5 800.1L507.0 801.0L507.5 801.9L508.1 802.7L508.6 803.5L509.2 804.4L509.7 805.2L510.2 806.0L510.8 806.8L511.3 807.5L511.9 808.3L512.4 809.0L512.9 809.8L513.5 810.5L514.0 811.2L514.6 811.9L515.1 812.7L515.6 813.4L516.2 814.3L516.7 815.0L517.3 815.8L517.8 816.7L518.3 817.4L518.9 818.2L519.4 818.9L520.0 819.7L520.5 820.5L521.0 821.3L521.6 821.9L522.1 822.8L522.7 823.1L523.2 823.9L523.8 824.5L524.3 825.2L524.8 825.9L525.4 826.6L525.9 827.1L526.5 827.6L527.0 828.3L527.5 828.7L528.1 829.4L528.6 829.9L529.2 830.4L529.7 830.6L530.2 831.6L530.8 832.0L531.3 832.7L531.9 833.4L532.4 833.8L532.9 834.2L533.5 834.7L534.0 835.6L534.6 836.4L535.1 836.8L535.6 837.5L536.2 838.1L536.7 838.6L537.3 838.6L537.8 839.7L538.3 839.9L538.9 840.5L539.4 840.5L540.0 841.5L540.5 842.1L541.1 842.5L541.6 843.0L542.1 843.4L542.7 844.0L543.2 844.6L543.8 844.6L544.3 845.3L544.8 845.3L545.4 846.1L545.9 846.8L546.5 847.0L547.0 847.1L547.5 847.4L548.1 847.9L548.6 848.4L549.2 848.4L549.7 848.9L550.2 849.7L550.8 849.7L551.3 850.5L551.9 850.6L552.4 850.6L552.9 850.4L553.5 851.0L554.0 850.7L554.6 851.6L555.1 851.6L555.6 852.0L556.2 851.1L556.7 851.5L557.3 851.0L557.8 851.6L558.3 852.0L558.9 851.8L559.4 851.5L560.0 852.0L560.5 852.6L561.1 852.4L561.6 852.8L562.1 852.9L562.7 852.8L563.2 853.3L563.8 853.3L564.3 853.1L564.8 854.1L565.4 853.7L565.9 854.4L566.5 855.0L567.0 854.9L567.5 855.4L568.1 855.6L568.6 855.2L569.2 856.6L569.7 855.9L570.2 855.2L570.8 855.3L571.3 856.3L571.9 855.5L572.4 855.5L572.9 855.6L573.5 854.9L574.0 854.9L574.6 855.1L575.1 855.5L575.6 856.2L576.2 855.9L576.7 856.0L577.3 856.5L577.8 856.4L578.4 857.0L578.9 856.8L579.4 857.8L580.0 857.6L580.5 857.9L581.1 857.8L581.6 858.4L582.1 858.5L582.7 858.7L583.2 858.6L583.8 858.7L584.3 860.1L584.8 860.5L585.4 860.1L585.9 860.6L586.5 861.0L587.0 861.3L587.5 861.7L588.1 862.0L588.6 861.8L589.2 862.0L589.7 861.6L590.2 862.2L590.8 862.7L591.3 863.5L591.9 863.9L592.4 864.0L592.9 864.7L593.5 864.4L594.0 865.0L594.6 865.2L595.1 865.7L595.7 866.4L596.2 866.4L596.7 867.5L597.3 867.0L597.8 867.2L598.4 867.2L598.9 868.0L599.4 868.1L600.0 868.2L600.5 867.9L601.1 868.1L601.6 868.0L602.1 868.2L602.7 868.2L603.2 867.7L603.8 867.8L604.3 868.1L604.8 867.8L605.4 867.5L605.9 868.1L606.5 867.9L607.0 867.6L607.5 867.4L608.1 867.8L608.6 867.5L609.2 868.0L609.7 867.7L610.2 867.5L610.8 868.2L611.3 868.3L611.9 868.9L612.4 868.2L613.0 868.4L613.5 869.1L614.0 869.5L614.6 868.8L615.1 868.7L615.7 870.3L616.2 869.8L616.7 870.1L617.3 870.1L617.8 870.6L618.4 870.3L618.9 869.9L619.4 870.8L620.0 870.9L620.5 870.6L621.1 870.6L621.6 870.4L622.1 871.0L622.7 870.5L623.2 870.0L623.8 870.5L624.3 870.6L624.8 870.4L625.4 870.6L625.9 871.0L626.5 870.8L627.0 871.2L627.5 870.8L628.1 870.5L628.6 871.1L629.2 871.3L629.7 871.1L630.2 871.0L630.8 870.1L631.3 870.7L631.9 870.8L632.4 870.3L633.0 870.2L633.5 870.4L634.0 870.8L634.6 871.1L635.1 870.6L635.7 871.3L636.2 871.4L636.7 871.4L637.3 871.9L637.8 871.3L638.4 870.9L638.9 871.1L639.4 871.3L640.0 871.4L640.5 871.2L641.1 871.4L641.6 871.6L642.1 871.4L642.7 871.2L643.2 871.4L643.8 871.5L644.3 872.1L644.8 872.7L645.4 871.8L645.9 872.6L646.5 872.8L647.0 872.4L647.5 872.2L648.1 873.1L648.6 872.2L649.2 872.3L649.7 872.2L650.3 872.5L650.8 872.2L651.3 872.6L651.9 872.3L652.4 871.9L653.0 872.5L653.5 872.2L654.0 871.5L654.6 871.3L655.1 871.9L655.7 871.1L656.2 871.1L656.7 871.8L657.3 870.9L657.8 871.9L658.4 871.7L658.9 871.6L659.4 871.3L660.0 871.9L660.5 871.4L661.1 871.5L661.6 871.8L662.1 871.4L662.7 871.1L663.2 870.9L663.8 870.6L664.3 870.6L664.8 870.7L665.4 870.6L665.9 870.7L666.5 870.5L667.0 870.8L667.6 871.3L668.1 871.2L668.6 871.5L669.2 871.7L669.7 872.4L670.3 872.7L670.8 873.0L671.3 874.3L671.9 873.9L672.4 874.2L673.0 874.5L673.5 874.8L674.0 875.1L674.6 874.7L675.1 874.8L675.7 874.9L676.2 874.8L676.7 874.9L677.3 874.9L677.8 874.6L678.4 873.6L678.9 873.9L679.4 873.9L680.0 873.7L680.5 874.6L681.1 873.5L681.6 873.7L682.1 873.3L682.7 873.6L683.2 873.7L683.8 873.2L684.3 873.6L684.8 873.2L685.4 873.4L685.9 873.2L686.5 873.1L687.0 873.3L687.6 873.3L688.1 872.9L688.6 872.7L689.2 873.3L689.7 872.9L690.3 873.2L690.8 872.4L691.3 872.7L691.9 872.3L692.4 872.4L693.0 871.7L693.5 872.2L694.0 871.4L694.6 871.5L695.1 871.4L695.7 870.9L696.2 870.5L696.7 870.6L697.3 870.7L697.8 870.2L698.4 870.0L698.9 870.4L699.4 870.1L700.0 870.5L700.5 869.5L701.1 869.6L701.6 869.2L702.1 869.1L702.7 869.1L703.2 869.8L703.8 870.3L704.3 870.0L704.9 870.4L705.4 871.1L705.9 872.0L706.5 872.2L707.0 872.3L707.6 872.5L708.1 872.7L708.6 873.0L709.2 872.7L709.7 872.8L710.3 873.3L710.8 873.2L711.3 873.5L711.9 873.1L712.4 873.0L713.0 873.2L713.5 873.3L714.0 874.1L714.6 873.4L715.1 873.6L715.7 874.2L716.2 873.7L716.7 872.8L717.3 874.2L717.8 873.7L718.4 873.8L718.9 873.7L719.4 873.1L720.0 873.0L720.5 873.1L721.1 873.2L721.6 873.1L722.2 872.8L722.7 873.2L723.2 873.1L723.8 873.0L724.3 873.2L724.9 873.0L725.4 873.0L725.9 873.7L726.5 872.6L727.0 872.3L727.6 873.0L728.1 872.9L728.6 872.6L729.2 873.3L729.7 872.6L730.3 872.9L730.8 872.6L731.3 873.6L731.9 873.3L732.4 872.9L733.0 873.1L733.5 873.0L734.0 873.0L734.6 873.8L735.1 873.6L735.7 874.0L736.2 873.8L736.7 874.1L737.3 874.4L737.8 874.8L738.4 875.0L738.9 875.3L739.5 875.8L740.0 876.2L740.5 875.3L741.1 876.1L741.6 876.7L742.2 876.5L742.7 876.9L743.2 876.8L743.8 877.5L744.3 877.8L744.9 877.9L745.4 877.7L745.9 878.0L746.5 877.8L747.0 878.1L747.6 878.1L748.1 877.9L748.6 878.0L749.2 878.4L749.7 877.9L750.3 878.4L750.8 878.1L751.3 878.4L751.9 878.4L752.4 878.0L753.0 878.7L753.5 878.9L754.0 878.3L754.6 878.8L755.1 878.7L755.7 878.9L756.2 878.8L756.7 878.3L757.3 878.5L757.8 878.7L758.4 878.3L758.9 878.7L759.5 878.9L760.0 879.4L760.5 879.0L761.1 879.3L761.6 879.8L762.2 879.7L762.7 879.8L763.2 879.6L763.8 879.2L764.3 879.9L764.9 879.9L765.4 879.7L765.9 879.9L766.5 879.6L767.0 879.4L767.6 878.7L768.1 879.3L768.6 879.3L769.2 879.0L769.7 879.7L770.3 878.9L770.8 879.0L771.3 879.7L771.9 879.2L772.4 879.2L773.0 879.4L773.5 880.0L774.0 879.4L774.6 879.5L775.1 879.5L775.7 879.9L776.2 879.4L776.8 879.6L777.3 879.9L777.8 879.6L778.4 880.1L778.9 879.2L779.5 879.5L780.0 879.9L780.5 879.6L781.1 880.1L781.6 879.8L782.2 880.2L782.7 879.6L783.2 880.3L783.8 880.6L784.3 881.0L784.9 880.6L785.4 880.5L785.9 880.5L786.5 880.5L787.0 881.0L787.6 880.3L788.1 880.0L788.6 879.9L789.2 879.1L789.7 878.7L790.3 878.8L790.8 879.3L791.3 878.3L791.9 878.0L792.4 878.6L793.0 878.3L793.5 878.1L794.1 879.3L794.6 879.1L795.1 879.0L795.7 878.5L796.2 879.2L796.8 878.9L797.3 879.2L797.8 878.9L798.4 879.6L798.9 879.6L799.5 879.6L800.0 879.7L800.5 879.2L801.1 879.6L801.6 880.2L802.2 879.9L802.7 879.5L803.2 879.1L803.8 879.5L804.3 880.5L804.9 880.3L805.4 880.0L805.9 880.6L806.5 880.3L807.0 880.5L807.6 881.3L808.1 880.3L808.6 880.0L809.2 880.2L809.7 880.6L810.3 880.5L810.8 879.8L811.4 880.4L811.9 880.0L812.4 880.1L813.0 880.4L813.5 879.8L814.1 880.2L814.6 879.8L815.1 879.5L815.7 879.7L816.2 879.9L816.8 879.9L817.3 879.1L817.8 880.0L818.4 879.7L818.9 879.3L819.5 879.2L820.0 879.2L820.5 879.4L821.1 880.3L821.6 879.7L822.2 879.8L822.7 880.1L823.2 880.4L823.8 880.7L824.3 881.2L824.9 881.6L825.4 881.6L825.9 881.3L826.5 881.3L827.0 881.8L827.6 881.0L828.1 881.3L828.6 881.4L829.2 881.6L829.7 881.5L830.3 881.5L830.8 881.9L831.4 880.9L831.9 881.0L832.4 881.0L833.0 880.8L833.5 880.2L834.1 880.6L834.6 880.5L835.1 880.7L835.7 881.0L836.2 881.1L836.8 880.2L837.3 880.4L837.8 880.7L838.4 880.1L838.9 880.1L839.5 879.9L840.0 879.7L840.5 879.2L841.1 878.6L841.6 879.1L842.2 879.2L842.7 879.1L843.2 878.9L843.8 879.1L844.3 879.5L844.9 879.4L845.4 879.5L845.9 879.1L846.5 879.5L847.0 880.1L847.6 879.7L848.1 880.1L848.7 880.1L849.2 879.4L849.7 880.2L850.3 879.7L850.8 880.4L851.4 880.3L851.9 880.2L852.4 880.0L853.0 879.8L853.5 879.9L854.1 880.2L854.6 880.2L855.1 880.0L855.7 879.8L856.2 880.5L856.8 879.9L857.3 880.3L857.8 880.2L858.4 880.5L858.9 880.5L859.5 880.5L860.0 880.5L860.5 880.6L861.1 881.4L861.6 881.2L862.2 881.0L862.7 880.8L863.2 881.2L863.8 881.5L864.3 881.0L864.9 881.0L865.4 881.3L866.0 881.1L866.5 880.1L867.0 881.0L867.6 880.8L868.1 880.8L868.7 880.3L869.2 880.4L869.7 880.0L870.3 880.4L870.8 881.0L871.4 881.2L871.9 881.7L872.4 881.8L873.0 882.0L873.5 882.7L874.1 882.8L874.6 883.1L875.1 883.2L875.7 884.1L876.2 883.6L876.8 883.6L877.3 883.9L877.8 884.2L878.4 884.1L878.9 885.0L879.5 884.7L880.0 883.7L880.5 884.6L881.1 883.8L881.6 884.2L882.2 884.0L882.7 884.0L883.2 883.8L883.8 883.5L884.3 884.2L884.9 883.5L885.4 883.6L886.0 883.2L886.5 883.7L887.0 883.7L887.6 884.0L888.1 883.6L888.7 883.4L889.2 883.7L889.7 883.8L890.3 883.0L890.8 883.3L891.4 882.9L891.9 882.7L892.4 882.6L893.0 882.3L893.5 882.9L894.1 881.9L894.6 882.5L895.1 881.7L895.7 881.9L896.2 882.3L896.8 881.9L897.3 882.2L897.8 882.2L898.4 882.3L898.9 881.9L899.5 882.4L900.0 882.1L900.5 882.7L901.1 882.4L901.6 882.9L902.2 883.0L902.7 883.0L903.3 882.7L903.8 882.7L904.3 882.7L904.9 882.9L905.4 882.1L906.0 881.5L906.5 882.1L907.0 881.7L907.6 881.6L908.1 880.8L908.7 880.8L909.2 879.8L909.7 880.6L910.3 880.4L910.8 880.2L911.4 879.8L911.9 880.0L912.4 880.3L913.0 879.7L913.5 879.6L914.1 878.9L914.6 879.5L915.1 879.9L915.7 880.3L916.2 880.0L916.8 879.8L917.3 880.5L917.8 880.5L918.4 880.3L918.9 880.7L919.5 880.5L920.0 880.0L920.6 880.3L921.1 880.6L921.6 880.5L922.2 880.4L922.7 881.4L923.3 881.0L923.8 880.8L924.3 881.1L924.9 881.1L925.4 880.7L926.0 881.5L926.5 881.3L927.0 880.8L927.6 881.2L928.1 880.9L928.7 881.1L929.2 881.2L929.7 881.1L930.3 880.8L930.8 881.3L931.4 881.0L931.9 881.3L932.4 881.1L933.0 881.4L933.5 881.7L934.1 881.3L934.6 881.7L935.1 881.2L935.7 881.5L936.2 880.6L936.8 880.3L937.3 880.7L937.9 880.2L938.4 880.2L938.9 879.9L939.5 879.7L940.0 880.1L940.6 880.0L941.1 880.5L941.6 879.5L942.2 880.3L942.7 880.5L943.3 880.8L943.8 881.4L944.3 881.0L944.9 881.4L945.4 882.0L946.0 882.8L946.5 882.1L947.0 882.9L947.6 883.0L948.1 883.2L948.7 883.7L949.2 883.3L949.7 883.6L950.3 883.9L950.8 883.7L951.4 883.2L951.9 883.9L952.4 883.4L953.0 884.0L953.5 883.2L954.1 883.7L954.6 883.9L955.1 884.0L955.7 884.6L956.2 884.0L956.8 884.5L957.3 884.1L957.9 884.1L958.4 884.3L958.9 884.3L959.5 884.1L960.0 884.4L960.6 884.0L961.1 884.6L961.6 883.8L962.2 884.2L962.7 884.1L963.3 884.9L963.8 884.5L964.3 884.4L964.9 885.7L965.4 885.2L966.0 885.2L966.5 885.5L967.0 885.0L967.6 885.5L968.1 885.1L968.7 885.0L969.2 885.1L969.7 884.4L970.3 885.0L970.8 884.8L971.4 885.0L971.9 883.9L972.4 883.9L973.0 883.8L973.5 883.7L974.1 883.3L974.6 883.2L975.2 882.8L975.7 883.2L976.2 883.3L976.8 883.5L977.3 882.4L977.9 883.6L978.4 883.3L978.9 883.5L979.5 884.1L980.0 883.7L980.6 882.9L981.1 882.7L981.6 883.2L982.2 883.2L982.7 883.1L983.3 882.8L983.8 883.3L984.3 883.1L984.9 883.2L985.4 883.6L986.0 883.6L986.5 882.9L987.0 883.4L987.6 884.0L988.1 883.9L988.7 884.7L989.2 885.0L989.7 884.5L990.3 884.3L990.8 884.7L991.4 884.2L991.9 884.4L992.5 884.5L993.0 884.4L993.5 884.6L994.1 885.0L994.6 884.6L995.2 885.0L995.7 884.8L996.2 885.4L996.8 885.2L997.3 885.7L997.9 886.4L998.4 886.4L998.9 886.1L999.5 887.0L1000.0 886.9L1000.6 886.5L1001.1 886.8L1001.6 887.4L1002.2 886.6L1002.7 886.8L1003.3 887.6L1003.8 887.4L1004.3 887.8L1004.9 887.6L1005.4 887.8L1006.0 887.9L1006.5 888.4L1007.0 888.1L1007.6 888.0L1008.1 887.6L1008.7 887.8L1009.2 887.7L1009.8 887.5L1010.3 887.6L1010.8 887.8L1011.4 887.1L1011.9 887.5L1012.5 886.9L1013.0 887.6L1013.5 887.1L1014.1 888.1L1014.6 887.6L1015.2 887.8L1015.7 887.5L1015.8 888.0L1018.4 887.6L1018.9 704.2L1019.5 706.4L1020.0 708.6L1020.6 710.9L1021.1 713.6L1021.6 717.0L1022.2 720.8L1022.7 724.5L1023.3 727.9L1023.8 731.0L1024.3 733.1L1024.9 734.3L1025.4 735.2L1026.0 735.8L1026.5 736.5L1027.0 736.9L1027.6 737.5L1028.1 738.0L1028.7 738.7L1029.2 739.0L1029.8 739.4L1030.3 739.9L1030.8 740.4L1031.4 741.0L1031.9 741.2L1032.5 741.7L1033.0 742.3L1033.5 742.4L1034.1 743.0L1034.6 743.5L1035.2 743.8L1035.7 744.3L1036.2 744.7L1036.8 745.4L1037.3 745.6L1037.9 746.4L1038.4 746.8L1038.9 747.5L1039.5 747.8L1040.0 748.8L1040.6 749.2L1041.1 749.8L1041.6 750.3L1042.2 750.7L1042.7 751.2L1043.3 752.0L1043.8 752.8L1044.3 753.3L1044.9 753.7L1045.4 754.8L1046.0 755.3L1046.5 755.7L1047.1 756.2L1047.6 756.9L1048.1 757.6L1048.7 757.5L1049.2 758.4L1049.8 759.1L1050.3 759.4L1050.8 759.5L1051.4 760.5L1051.9 761.5L1052.5 761.7L1053.0 762.2L1053.5 763.5L1054.1 762.7L1054.6 763.9L1055.2 764.6L1055.7 765.1L1056.2 765.4L1056.8 766.6L1057.3 767.0L1057.9 767.5L1058.4 768.3L1058.9 768.9L1059.5 769.9L1060.0 769.9L1060.6 770.8L1061.1 771.7L1061.6 772.0L1062.2 773.3L1062.7 772.9L1063.3 773.9L1063.8 774.7L1064.4 775.5L1064.9 776.3L1065.4 777.9L1066.0 778.4L1066.5 779.3L1067.1 780.3L1067.6 780.6L1068.1 781.2L1068.7 782.3L1069.2 783.3L1069.8 783.9L1070.3 785.1L1070.8 785.9L1071.4 786.7L1071.9 787.2L1072.5 787.5L1073.0 788.2L1073.5 789.2L1074.1 789.4L1074.6 790.0L1075.2 790.8L1075.7 790.9L1076.2 791.9L1076.8 793.1L1077.3 793.6L1077.9 793.5L1078.4 794.5L1078.9 794.4L1079.5 795.5L1080.0 795.9L1080.6 796.2L1081.1 796.8L1081.7 797.2L1082.2 797.3L1082.7 797.6L1083.3 797.6L1083.8 798.5L1084.4 798.9L1084.9 799.1L1085.4 799.6L1086.0 800.3L1086.5 800.7L1087.1 801.3L1087.6 802.1L1088.1 801.8L1088.7 802.6L1089.2 802.5L1089.8 802.8L1090.3 803.8L1090.8 804.2L1091.4 804.6L1091.9 804.0L1092.5 804.4L1093.0 804.9L1093.5 805.6L1094.1 805.6L1094.6 807.0L1095.2 806.9L1095.7 807.6L1096.2 808.8L1096.8 808.0L1097.3 809.5L1097.9 809.9L1098.4 810.7L1098.9 811.2L1099.5 811.9L1100.0 812.1L1100.6 812.7L1101.1 812.8L1101.7 813.3L1102.2 814.5L1102.7 814.6L1103.3 815.0L1103.8 815.8L1104.4 816.5L1104.9 816.3L1105.4 817.4L1106.0 818.1L1106.5 817.6L1107.1 818.4L1107.6 818.7L1108.1 819.0L1108.7 819.7L1109.2 821.0L1109.8 820.8L1110.3 821.1L1110.8 821.5L1111.4 821.8L1111.9 822.4L1112.5 822.6L1113.0 822.8L1113.5 823.5L1114.1 823.8L1114.6 823.8L1115.2 824.4L1115.7 824.8L1116.2 824.8L1116.8 825.1L1117.3 825.3L1117.9 825.0L1118.4 825.4L1119.0 824.8L1119.5 825.3L1120.0 824.8L1120.6 825.6L1121.1 825.4L1121.7 825.6L1122.2 826.4L1122.7 826.9L1123.3 826.9L1123.8 826.8L1124.4 828.4L1124.9 828.7L1125.4 829.7L1126.0 829.1L1126.5 829.7L1127.1 829.9L1127.6 830.6L1128.1 830.5L1128.7 830.4L1129.2 831.2L1129.8 830.9L1130.3 831.4L1130.8 831.6L1131.4 831.5L1131.9 831.9L1132.5 832.3L1133.0 833.2L1133.5 832.9L1134.1 833.5L1134.6 833.7L1135.2 833.9L1135.7 834.5L1136.3 835.1L1136.8 835.2L1137.3 835.4L1137.9 836.0L1138.4 836.4L1139.0 836.5L1139.5 836.5L1140.0 836.7L1140.6 836.4L1141.1 836.7L1141.7 837.0L1142.2 837.0L1142.7 837.3L1143.3 837.9L1143.8 838.3L1144.4 837.9L1144.9 838.0L1145.4 837.9L1146.0 838.5L1146.5 839.2L1147.1 840.2L1147.6 839.6L1148.1 840.1L1148.7 840.7L1149.2 840.2L1149.8 841.6L1150.3 842.1L1150.8 842.4L1151.4 842.7L1151.9 842.9L1152.5 844.2L1153.0 844.0L1153.5 844.3L1154.1 844.4L1154.6 845.2L1155.2 845.1L1155.7 846.0L1156.3 846.5L1156.8 846.5L1157.3 847.1L1157.9 847.0L1158.4 847.4L1159.0 847.5L1159.5 848.2L1160.0 848.4L1160.6 848.4L1161.1 847.8L1161.7 847.8L1162.2 848.3L1162.7 847.8L1163.3 848.7L1163.8 848.7L1164.4 848.5L1164.9 849.0L1165.4 849.3L1166.0 848.8L1166.5 849.5L1167.1 849.9L1167.6 849.7L1168.1 850.0L1168.7 850.9L1169.2 850.8L1169.8 850.3L1170.3 850.7L1170.8 851.0L1171.4 851.6L1171.9 851.6L1172.5 851.4L1173.0 851.6L1173.6 852.4L1174.1 851.9L1174.6 852.6L1175.2 852.1L1175.7 852.6L1176.3 852.7L1176.8 852.9L1177.3 852.2L1177.9 853.3L1178.4 853.4L1179.0 853.4L1179.5 853.3L1180.0 853.5L1180.6 854.0L1181.1 853.8L1181.7 853.8L1182.2 853.9L1182.7 853.5L1183.3 853.3L1183.8 853.7L1184.4 853.9L1184.9 853.9L1185.4 853.6L1186.0 852.6L1186.5 853.5L1187.1 853.6L1187.6 853.1L1188.1 853.4L1188.7 853.6L1189.2 853.3L1189.8 853.1L1190.3 853.3L1190.9 853.9L1191.4 853.8L1191.9 854.2L1192.5 854.4L1193.0 854.0L1193.6 854.0L1194.1 854.6L1194.6 854.7L1195.2 855.3L1195.7 855.0L1196.3 855.2L1196.8 855.6L1197.3 855.1L1197.9 854.5L1198.4 854.7L1199.0 855.2L1199.5 855.1L1200.0 855.2L1200.6 855.0L1201.1 855.4L1201.7 855.7L1202.2 855.7L1202.7 856.2L1203.3 856.3L1203.8 856.0L1204.4 856.5L1204.9 856.6L1205.4 857.0L1206.0 857.3L1206.5 857.3L1207.1 857.7L1207.6 857.7L1208.2 857.7L1208.7 858.1L1209.2 858.4L1209.8 858.1L1210.3 858.7L1210.9 858.1L1211.4 858.0L1211.9 857.6L1212.5 857.7L1213.0 857.3L1213.6 857.1L1214.1 857.2L1214.6 856.7L1215.2 856.8L1215.7 856.1L1216.3 857.1L1216.8 856.9L1217.3 858.1L1217.9 858.3L1218.4 859.7L1219.0 858.7L1219.5 859.1L1220.0 860.0L1220.6 859.2L1221.1 859.5L1221.7 859.8L1222.2 859.7L1222.7 859.5L1223.3 859.6L1223.8 859.3L1224.4 859.7L1224.9 858.7L1225.4 858.9L1226.0 858.9L1226.5 858.8L1227.1 858.6L1227.6 858.4L1228.2 858.8L1228.7 858.4L1229.2 858.5L1229.8 858.4L1230.3 857.4L1230.9 857.8L1231.4 857.1L1231.9 857.7L1232.5 858.0L1233.0 857.8L1233.6 858.7L1234.1 859.2L1234.6 859.7L1235.2 859.9L1235.7 860.4L1236.3 860.4L1236.8 861.6L1237.3 861.3L1237.9 861.8L1238.4 862.0L1239.0 862.4L1239.5 863.1L1240.0 862.5L1240.6 863.1L1241.1 862.2L1241.7 862.4L1242.2 862.4L1242.7 861.7L1243.3 861.0L1243.8 861.1L1244.4 861.1L1244.9 861.2L1245.5 860.9L1246.0 860.6L1246.5 860.4L1247.1 860.1L1247.6 860.5L1248.2 860.6L1248.7 860.4L1249.2 860.2L1249.8 860.1L1250.3 860.3L1250.9 859.9L1251.4 859.7L1251.9 859.4L1252.5 859.1L1253.0 858.5L1253.6 859.0L1254.1 858.7L1254.6 859.4L1255.2 858.7L1255.7 858.8L1256.3 858.5L1256.8 859.0L1257.3 858.6L1257.9 858.4L1258.4 858.1L1259.0 858.2L1259.5 858.8L1260.0 858.5L1260.6 858.6L1261.1 859.0L1261.7 859.4L1262.2 860.1L1262.8 860.6L1263.3 861.2L1263.8 860.7L1264.4 861.5L1264.9 861.4L1265.5 861.6L1266.0 862.5L1266.5 862.6L1267.1 862.8L1267.6 863.1L1268.2 863.0L1268.7 863.6L1269.2 863.7L1269.8 863.7L1270.3 863.0L1270.9 864.7L1271.4 864.1L1271.9 864.2L1272.5 864.3L1273.0 864.8L1273.6 865.3L1274.1 865.0L1274.6 865.3L1275.2 865.7L1275.7 865.4L1276.3 865.1L1276.8 865.1L1277.3 865.0L1277.9 864.9L1278.4 865.0L1279.0 864.7L1279.5 864.9L1280.1 864.5L1280.6 864.6L1281.1 864.8L1281.7 865.5L1282.2 864.1L1282.8 864.7L1283.3 865.1L1283.8 864.9L1284.4 864.8L1284.9 864.6L1285.5 864.5L1286.0 864.9L1286.5 864.6L1287.1 865.0L1287.6 864.5L1288.2 864.6L1288.7 864.8L1289.2 865.1L1289.8 864.3L1290.3 864.4L1290.9 863.9L1291.4 864.4L1291.9 864.8L1292.5 864.2L1293.0 864.6L1293.6 864.0L1294.1 864.8L1294.6 864.4L1295.2 865.0L1295.7 865.7L1296.3 865.5L1296.8 865.2L1297.3 865.9L1297.9 865.9L1298.4 866.5L1299.0 865.7L1299.5 865.5L1300.1 865.5L1300.6 865.9L1301.1 865.8L1301.7 865.6L1302.2 865.9L1302.8 865.2L1303.3 865.2L1303.8 866.0L1304.4 866.1L1304.9 865.0L1305.5 865.7L1306.0 865.7L1306.5 865.3L1307.1 866.3L1307.6 865.7L1308.2 865.8L1308.7 865.4L1309.2 865.7L1309.8 865.8L1310.3 865.4L1310.9 865.6L1311.4 865.6L1311.9 865.5L1312.5 865.6L1313.0 865.5L1313.6 865.4L1314.1 866.1L1314.6 866.1L1315.2 866.9L1315.7 866.2L1316.3 867.2L1316.8 867.2L1317.4 867.6L1317.9 867.7L1318.4 867.9L1319.0 867.6L1319.5 867.9L1320.1 868.1L1320.6 868.1L1321.1 868.3L1321.7 868.0L1322.2 867.3L1322.8 868.3L1323.3 868.2L1323.8 868.0L1324.4 868.3L1324.9 868.4L1325.5 868.2L1326.0 867.9L1326.5 868.8L1327.1 868.5L1327.6 868.6L1328.2 868.6L1328.7 868.9L1329.2 869.5L1329.8 869.2L1330.3 870.0L1330.9 869.9L1331.4 870.4L1331.9 870.5L1332.5 870.9L1333.0 871.2L1333.6 871.6L1334.1 871.7L1334.7 872.2L1335.2 872.1L1335.7 872.0L1336.3 872.2L1336.8 872.8L1337.4 872.8L1337.9 872.8L1338.4 872.2L1339.0 872.2L1339.5 871.9L1340.1 872.9L1340.6 873.2L1341.1 871.9L1341.7 872.0L1342.2 871.7L1342.8 871.5L1343.3 871.0L1343.8 871.9L1344.4 870.8L1344.9 870.1L1345.5 870.2L1346.0 870.3L1346.5 869.7L1347.1 869.8L1347.6 870.0L1348.2 869.1L1348.7 869.1L1349.2 869.3L1349.8 869.7L1350.3 870.6L1350.9 870.1L1351.4 870.8L1352.0 870.5L1352.5 871.0L1353.0 871.6L1353.6 871.7L1354.1 871.8L1354.7 871.5L1355.2 872.0L1355.7 872.1L1356.3 871.6L1356.8 871.6L1357.4 871.6L1357.9 871.4L1358.4 871.6L1359.0 871.5L1359.5 871.6L1360.1 871.5L1360.6 871.1L1361.1 871.3L1361.7 871.5L1362.2 871.0L1362.8 870.9L1363.3 871.1L1363.8 870.8L1364.4 870.5L1364.9 870.5L1365.5 870.1L1366.0 870.6L1366.5 869.0L1367.1 869.0L1367.6 869.1L1368.2 868.9L1368.7 869.1L1369.2 868.7L1369.8 869.5L1370.3 869.0L1370.9 869.3L1371.4 869.8L1372.0 869.4L1372.5 869.5L1373.0 868.9L1373.6 869.5L1374.1 869.6L1374.7 869.3L1375.2 869.9L1375.7 869.6L1376.3 870.1L1376.8 869.7L1377.4 870.1L1377.9 869.9L1378.4 869.6L1379.0 869.5L1379.5 869.5L1380.1 869.6L1380.6 869.8L1381.1 869.0L1381.7 870.1L1382.2 869.9L1382.8 869.3L1383.3 870.1L1383.8 869.8L1384.4 870.3L1384.9 869.8L1385.5 870.1L1386.0 869.0L1386.5 870.0L1387.1 870.6L1387.6 870.2L1388.2 870.1L1388.7 870.4L1389.3 869.9L1389.8 871.1L1390.3 870.5L1390.9 870.6L1391.4 870.3L1392.0 871.4L1392.5 870.5L1393.0 871.6L1393.6 871.2L1394.1 871.6L1394.7 871.3L1395.2 872.1L1395.7 872.1L1396.3 872.0L1396.8 872.2L1397.4 872.6L1397.9 872.5L1398.4 873.2L1399.0 872.9L1399.5 872.9L1400.1 873.1L1400.6 873.3L1401.1 872.9L1401.7 872.9L1402.2 872.7L1402.8 872.5L1403.3 872.8L1403.8 872.4L1404.4 872.7L1404.9 872.7L1405.5 872.5L1406.0 872.8L1406.6 872.4L1407.1 872.7L1407.6 873.2L1408.2 872.8L1408.7 873.4L1409.3 872.8L1409.8 872.8L1410.3 872.9L1410.9 872.9L1411.4 872.2L1412.0 872.7L1412.5 872.6L1413.0 872.4L1413.6 872.6L1414.1 872.4L1414.7 872.3L1415.2 872.7L1415.7 872.6L1416.3 872.2L1416.8 872.6L1417.4 873.3L1417.9 872.9L1418.4 872.9L1419.0 873.6L1419.5 873.9L1420.1 873.9L1420.6 873.7L1421.1 873.8L1421.7 873.8L1422.2 874.4L1422.8 874.4L1423.3 874.6L1423.8 874.1L1424.4 873.8L1424.9 874.5L1425.5 873.6L1426.0 873.9L1426.6 873.9L1427.1 873.6L1427.6 873.4L1428.2 873.5L1428.7 872.8L1429.3 873.0L1429.8 872.3L1430.3 872.2L1430.9 872.3L1431.4 871.5L1432.0 871.7L1432.5 870.7L1433.0 871.0L1433.6 870.0L1434.1 870.7L1434.7 870.3L1435.2 870.1L1435.7 870.9L1436.3 870.2L1436.8 870.6L1437.4 869.9L1437.9 870.2L1438.4 869.7L1439.0 869.8L1439.5 869.7L1440.1 869.9L1440.6 869.3L1441.1 869.9L1441.7 869.9L1442.2 870.1L1442.8 870.4L1443.3 870.4L1443.9 871.0L1444.4 870.9L1444.9 870.7L1445.5 871.1L1446.0 871.1L1446.6 871.1L1447.1 871.2L1447.6 870.8L1448.2 871.0L1448.7 871.7L1449.3 872.0L1449.8 871.1L1450.3 871.6L1450.9 871.4L1451.4 871.7L1452.0 871.8L1452.5 871.9L1453.0 871.2L1453.6 872.1L1454.1 871.5L1454.7 871.4L1455.2 871.5L1455.7 872.3L1456.3 871.6L1456.8 872.0L1457.4 872.5L1457.9 872.3L1458.4 872.5L1459.0 872.3L1459.5 872.0L1460.1 873.1L1460.6 872.1L1461.2 872.0L1461.7 872.3L1462.2 872.1L1462.8 872.0L1463.3 871.4L1463.9 872.1L1464.4 871.4L1464.9 871.2L1465.5 871.5L1466.0 871.0L1466.6 870.5L1467.1 870.5L1467.6 870.9L1468.2 870.0L1468.7 870.3L1469.3 870.1L1469.8 870.3L1470.3 870.5L1470.9 870.0L1471.4 870.0L1472.0 870.0L1472.5 870.2L1473.0 869.8L1473.6 870.2L1474.1 870.8L1474.7 869.9L1475.2 870.3L1475.7 870.8L1476.3 870.5L1476.8 870.5L1477.4 871.2L1477.9 871.7L1478.5 871.6L1479.0 871.9L1479.5 871.6L1480.1 871.7L1480.6 871.4L1481.2 872.6L1481.7 873.0L1482.2 872.9L1482.8 873.1L1483.3 873.9L1483.9 873.5L1484.4 872.9L1484.9 873.0L1485.5 873.4L1486.0 873.3L1486.6 873.3L1487.1 872.7L1487.6 872.1L1488.2 872.1L1488.7 871.8L1489.3 871.3L1489.8 871.4L1490.3 871.4L1490.9 870.9L1491.4 870.8L1492.0 870.8L1492.5 870.7L1493.0 870.4L1493.6 870.9L1494.1 870.3L1494.7 870.5L1495.2 870.5L1495.7 871.1L1496.3 871.2L1496.8 872.0L1497.4 871.2L1497.9 871.5L1498.5 872.4L1499.0 871.9L1499.5 872.0L1500.1 872.3L1500.6 872.0L1501.2 872.0L1501.7 872.2L1502.2 872.3L1502.8 872.0L1503.3 872.2L1503.9 872.2L1504.4 871.7L1504.9 871.9L1505.5 872.4L1506.0 872.6L1506.6 871.6L1507.1 871.3L1507.6 871.6L1508.2 871.3L1508.7 872.0L1509.3 871.9L1509.8 871.5L1510.3 871.6L1510.9 871.9L1511.4 872.0L1512.0 871.9L1512.5 872.1L1513.0 872.7L1513.6 872.7L1514.1 873.1L1514.7 873.0L1515.2 872.8L1515.8 872.8L1516.3 873.5L1516.8 873.2L1517.4 873.8L1517.9 873.3L1518.5 873.6L1519.0 873.7L1519.5 873.4L1520.1 873.6L1520.6 873.6L1521.2 873.1L1521.7 873.3L1522.2 874.1L1522.8 873.4L1523.3 873.2L1523.9 873.8L1524.4 873.2L1524.9 872.7L1525.5 873.0L1526.0 872.8L1526.6 872.8L1527.1 871.9L1527.6 872.0L1528.2 872.7L1528.7 872.3L1529.3 872.1L1529.8 872.0L1530.3 871.0L1530.9 872.2L1531.4 871.9L1532.0 871.8L1532.5 871.4L1533.1 871.5L1533.6 871.5L1534.1 871.8L1534.7 871.1L1535.2 871.7L1535.8 872.5L1536.3 871.5L1536.8 871.6L1537.4 872.4L1537.9 871.6L1538.5 872.1L1539.0 872.4L1539.5 872.2L1540.1 871.9L1540.6 871.7L1541.2 870.9L1541.7 871.8L1542.2 871.5L1542.8 871.9L1543.3 871.7L1543.9 871.4L1544.4 871.5L1544.9 871.5L1545.5 871.6L1546.0 871.5L1546.6 872.0L1547.1 871.5L1547.6 871.6L1548.2 871.6L1548.7 871.5L1549.3 870.4L1549.8 870.7L1550.4 871.1L1550.9 871.5L1551.4 871.4L1552.0 870.8L1552.5 871.0L1553.1 870.7L1553.6 871.3L1554.1 871.5L1554.7 872.0L1555.2 871.8L1555.8 871.9L1556.3 872.5L1556.8 872.5L1557.4 872.5L1557.9 873.1L1558.5 873.3L1559.0 873.7" fill="none" stroke="#0000ff" stroke-width="4.17" stroke-linejoin="round"/>
<polygon points="208.04,30.35 212.79,38.57 222.29,38.57 217.54,46.80 222.29,55.02 212.79,55.02 208.04,63.25 203.29,55.02 193.79,55.03 198.54,46.80 193.79,38.57 203.29,38.58" fill="none" stroke="#0000ff" stroke-width="4.17" stroke-miterlimit="10"/>
<polygon points="316.16,306.99 320.91,315.22 330.41,315.22 325.66,323.44 330.41,331.67 320.91,331.67 316.16,339.89 311.41,331.67 301.91,331.67 306.66,323.44 301.91,315.22 311.41,315.22" fill="none" stroke="#0000ff" stroke-width="4.17" stroke-miterlimit="10"/>
<polygon points="424.28,599.00 429.03,607.23 438.53,607.23 433.78,615.45 438.53,623.68 429.03,623.68 424.28,631.90 419.53,623.68 410.03,623.68 414.78,615.45 410.03,607.23 419.53,607.23" fill="none" stroke="#0000ff" stroke-width="4.17" stroke-miterlimit="10"/>
<polygon points="532.40,817.23 537.15,825.46 546.65,825.46 541.90,833.68 546.65,841.91 537.15,841.91 532.40,850.13 527.65,841.91 518.15,841.91 522.90,833.68 518.15,825.46 527.65,825.46" fill="none" stroke="#0000ff" stroke-width="4.17" stroke-miterlimit="10"/>
<polygon points="640.52,855.50 645.27,863.73 654.77,863.73 650.02,871.95 654.77,880.18 645.27,880.18 640.52,888.40 635.77,880.18 626.27,880.18 631.02,871.95 626.27,863.73 635.77,863.73" fill="none" stroke="#0000ff" stroke-width="4.17" stroke-miterlimit="10"/>
<polygon points="748.64,862.68 753.39,870.91 762.89,870.91 758.14,879.13 762.89,887.36 753.39,887.36 748.64,895.58 743.89,887.36 734.39,887.36 739.14,879.13 734.39,870.91 743.89,870.91" fill="none" stroke="#0000ff" stroke-width="4.17" stroke-miterlimit="10"/>
<polygon points="856.76,865.34 861.51,873.57 871.01,873.57 866.26,881.79 871.01,890.02 861.51,890.02 856.76,898.24 852.01,890.02 842.51,890.02 847.26,881.79 842.51,873.57 852.01,873.57" fill="none" stroke="#0000ff" stroke-width="4.17" stroke-miterlimit="10"/>
<polygon points="964.88,868.77 969.63,877.00 979.13,877.00 974.38,885.22 979.13,893.45 969.63,893.45 964.88,901.67 960.13,893.45 950.63,893.45 955.38,885.22 950.63,877.00 960.13,877.00" fill="none" stroke="#0000ff" stroke-width="4.17" stroke-miterlimit="10"/>
<polygon points="1073.00,772.19 1077.75,780.42 1087.25,780.42 1082.50,788.64 1087.25,796.87 1077.75,796.87 1073.00,805.09 1068.25,796.87 1058.75,796.87 1063.50,788.64 1058.75,780.42 1068.25,780.42" fill="none" stroke="#0000ff" stroke-width="4.17" stroke-miterlimit="10"/>
<polygon points="1181.12,836.47 1185.87,844.69 1195.37,844.69 1190.62,852.92 1195.37,861.14 1185.87,861.14 1181.12,869.37 1176.37,861.14 1166.87,861.14 1171.62,852.92 1166.87,844.69 1176.37,844.69" fill="none" stroke="#0000ff" stroke-width="4.17" stroke-miterlimit="10"/>
<polygon points="1289.24,848.83 1293.99,857.05 1303.49,857.05 1298.74,865.28 1303.49,873.50 1293.99,873.50 1289.24,881.73 1284.49,873.50 1274.99,873.50 1279.74,865.28 1274.99,857.05 1284.49,857.05" fill="none" stroke="#0000ff" stroke-width="4.17" stroke-miterlimit="10"/>
<polygon points="1397.36,858.29 1402.11,866.52 1411.61,866.52 1406.86,874.74 1411.61,882.97 1402.11,882.97 1397.36,891.19 1392.61,882.97 1383.11,882.97 1387.86,874.74 1383.11,866.52 1392.61,866.52" fill="none" stroke="#0000ff" stroke-width="4.17" stroke-miterlimit="10"/>
<polygon points="1505.48,855.52 1510.23,863.74 1519.73,863.74 1514.98,871.97 1519.73,880.19 1510.23,880.19 1505.48,888.42 1500.73,880.19 1491.23,880.19 1495.98,871.97 1491.23,863.74 1500.73,863.74" fill="none" stroke="#0000ff" stroke-width="4.17" stroke-miterlimit="10"/>
</g>
<g>
<path clip-path="url(#ax)" d="M208.0 46.8L208.6 48.2L209.1 49.5L209.7 50.9L210.2 52.3L210.7 53.7L211.3 55.0L211.8 56.4L212.4 57.8L212.9 59.1L213.4 60.5L214.0 61.9L214.5 63.3L215.1 64.6L215.6 66.0L216.1 67.4L216.7 68.7L217.2 70.1L217.8 71.5L218.3 72.8L218.9 74.2L219.4 75.6L219.9 76.9L220.5 78.3L221.0 79.7L221.6 81.0L222.1 82.4L222.6 83.8L223.2 85.1L223.7 86.5L224.3 87.9L224.8 89.2L225.3 90.6L225.9 92.0L226.4 93.3L227.0 94.7L227.5 96.1L228.0 97.5L228.6 98.8L229.1 100.2L229.7 101.6L230.2 102.9L230.7 104.3L231.3 105.7L231.8 107.0L232.4 108.4L232.9 109.8L233.4 111.1L234.0 112.5L234.5 113.9L235.1 115.2L235.6 116.6L236.2 118.0L236.7 119.3L237.2 120.7L237.8 122.1L238.3 123.4L238.9 124.8L239.4 126.2L239.9 127.5L240.5 128.9L241.0 130.3L241.6 131.6L242.1 133.0L242.6 134.4L243.2 135.8L243.7 137.1L244.3 138.5L244.8 139.9L245.3 141.2L245.9 142.6L246.4 144.0L247.0 145.4L247.5 146.7L248.0 148.1L248.6 149.5L249.1 150.8L249.7 152.2L250.2 153.6L250.7 155.0L251.3 156.3L251.8 157.7L252.4 159.1L252.9 160.5L253.5 161.8L254.0 163.2L254.5 164.6L255.1 166.0L255.6 167.3L256.2 168.7L256.7 170.1L257.2 171.5L257.8 172.9L258.3 174.2L258.9 175.6L259.4 177.0L259.9 178.4L260.5 179.8L261.0 181.1L261.6 182.5L262.1 183.9L262.6 185.3L263.2 186.7L263.7 188.1L264.3 189.4L264.8 190.8L265.3 192.2L265.9 193.6L266.4 195.0L267.0 196.4L267.5 197.8L268.0 199.1L268.6 200.5L269.1 201.9L269.7 203.3L270.2 204.7L270.8 206.1L271.3 207.5L271.8 208.9L272.4 210.3L272.9 211.7L273.5 213.0L274.0 214.4L274.5 215.8L275.1 217.2L275.6 218.6L276.2 220.0L276.7 221.4L277.2 222.8L277.8 224.2L278.3 225.6L278.9 227.0L279.4 228.4L279.9 229.8L280.5 231.1L281.0 232.5L281.6 233.9L282.1 235.3L282.6 236.7L283.2 238.1L283.7 239.5L284.3 240.9L284.8 242.3L285.3 243.7L285.9 245.1L286.4 246.5L287.0 247.9L287.5 249.3L288.0 250.7L288.6 252.1L289.1 253.5L289.7 254.9L290.2 256.3L290.8 257.7L291.3 259.1L291.8 260.5L292.4 261.9L292.9 263.3L293.5 264.7L294.0 266.1L294.5 267.5L295.1 268.9L295.6 270.3L296.2 271.7L296.7 273.2L297.2 274.6L297.8 276.0L298.3 277.4L298.9 278.8L299.4 280.2L299.9 281.6L300.5 283.0L301.0 284.4L301.6 285.8L302.1 287.2L302.6 288.7L303.2 290.1L303.7 291.5L304.3 292.9L304.8 294.3L305.3 295.7L305.9 297.1L306.4 298.5L307.0 300.0L307.5 301.4L308.1 302.8L308.6 304.2L309.1 305.6L309.7 307.1L310.2 308.5L310.8 309.9L311.3 311.3L311.8 312.7L312.4 314.2L312.9 315.6L313.5 317.0L314.0 318.4L314.5 319.8L315.1 321.3L315.6 322.7L316.2 324.1L316.7 325.6L317.2 327.0L317.8 328.4L318.3 329.8L318.9 331.3L319.4 332.7L319.9 334.1L320.5 335.6L321.0 337.0L321.6 338.4L322.1 339.9L322.6 341.3L323.2 342.8L323.7 344.2L324.3 345.6L324.8 347.1L325.4 348.5L325.9 350.0L326.4 351.4L327.0 352.8L327.5 354.3L328.1 355.7L328.6 357.2L329.1 358.6L329.7 360.1L330.2 361.5L330.8 363.0L331.3 364.4L331.8 365.9L332.4 367.3L332.9 368.8L333.5 370.2L334.0 371.7L334.5 373.1L335.1 374.6L335.6 376.1L336.2 377.5L336.7 379.0L337.2 380.4L337.8 381.9L338.3 383.3L338.9 384.8L339.4 386.3L339.9 387.7L340.5 389.2L341.0 390.6L341.6 392.1L342.1 393.6L342.6 395.0L343.2 396.5L343.7 398.0L344.3 399.4L344.8 400.9L345.4 402.4L345.9 403.8L346.4 405.3L347.0 406.8L347.5 408.2L348.1 409.7L348.6 411.2L349.1 412.6L349.7 414.1L350.2 415.6L350.8 417.0L351.3 418.5L351.8 420.0L352.4 421.4L352.9 422.9L353.5 424.4L354.0 425.9L354.5 427.3L355.1 428.8L355.6 430.3L356.2 431.7L356.7 433.2L357.2 434.7L357.8 436.2L358.3 437.6L358.9 439.1L359.4 440.6L359.9 442.1L360.5 443.5L361.0 445.0L361.6 446.5L362.1 448.0L362.7 449.4L363.2 450.9L363.7 452.4L364.3 453.9L364.8 455.3L365.4 456.8L365.9 458.3L366.4 459.8L367.0 461.2L367.5 462.7L368.1 464.2L368.6 465.6L369.1 467.1L369.7 468.6L370.2 470.1L370.8 471.5L371.3 473.0L371.8 474.5L372.4 476.0L372.9 477.4L373.5 478.9L374.0 480.4L374.5 481.9L375.1 483.3L375.6 484.8L376.2 486.3L376.7 487.8L377.2 489.2L377.8 490.7L378.3 492.2L378.9 493.6L379.4 495.1L380.0 496.6L380.5 498.1L381.0 499.5L381.6 501.0L382.1 502.5L382.7 503.9L383.2 505.4L383.7 506.9L384.3 508.4L384.8 509.8L385.4 511.3L385.9 512.8L386.4 514.2L387.0 515.7L387.5 517.2L388.1 518.6L388.6 520.1L389.1 521.6L389.7 523.0L390.2 524.5L390.8 526.0L391.3 527.4L391.8 528.9L392.4 530.4L392.9 531.8L393.5 533.3L394.0 534.7L394.5 536.2L395.1 537.7L395.6 539.1L396.2 540.6L396.7 542.0L397.3 543.5L397.8 545.0L398.3 546.4L398.9 547.9L399.4 549.3L400.0 550.8L400.5 552.2L401.0 553.7L401.6 555.1L402.1 556.6L402.7 558.1L403.2 559.5L403.7 561.0L404.3 562.4L404.8 563.9L405.4 565.3L405.9 566.8L406.4 568.2L407.0 569.6L407.5 571.1L408.1 572.5L408.6 574.0L409.1 575.4L409.7 576.9L410.2 578.3L410.8 579.7L411.3 581.2L411.8 582.6L412.4 584.1L412.9 585.5L413.5 586.9L414.0 588.4L414.5 589.8L415.1 591.2L415.6 592.7L416.2 594.1L416.7 595.5L417.3 597.0L417.8 598.4L418.3 599.8L418.9 601.2L419.4 602.7L420.0 604.1L420.5 605.5L421.0 606.9L421.6 608.4L422.1 609.8L422.7 611.2L423.2 612.6L423.7 614.0L424.3 615.5L424.8 616.9L425.4 618.3L425.9 619.7L426.4 621.1L427.0 622.5L427.5 623.9L428.1 625.3L428.6 626.8L429.1 628.2L429.7 629.6L430.2 631.0L430.8 632.4L431.3 633.8L431.8 635.2L432.4 636.6L432.9 638.0L433.5 639.4L434.0 640.8L434.6 642.2L435.1 643.6L435.6 645.0L436.2 646.4L436.7 647.8L437.3 649.2L437.8 650.6L438.3 652.0L438.9 653.4L439.4 654.8L440.0 656.2L440.5 657.6L441.0 658.9L441.6 660.3L442.1 661.7L442.7 663.1L443.2 664.5L443.7 665.8L444.3 667.2L444.8 668.6L445.4 670.0L445.9 671.3L446.4 672.7L447.0 674.1L447.5 675.4L448.1 676.8L448.6 678.1L449.1 679.5L449.7 680.8L450.2 682.2L450.8 683.5L451.3 684.9L451.9 686.2L452.4 687.6L452.9 688.9L453.5 690.2L454.0 691.5L454.6 692.9L455.1 694.2L455.6 695.5L456.2 696.8L456.7 698.1L457.3 699.4L457.8 700.7L458.3 702.0L458.9 703.3L459.4 704.6L460.0 705.9L460.5 707.2L461.0 708.5L461.6 709.8L462.1 711.1L462.7 712.4L463.2 713.7L463.7 715.0L464.3 716.3L464.8 717.6L465.4 718.9L465.9 720.2L466.4 721.5L467.0 722.8L467.5 724.1L468.1 725.5L468.6 726.8L469.2 728.1L469.7 729.4L470.2 730.8L470.8 732.1L471.3 733.4L471.9 734.8L472.4 736.1L472.9 737.4L473.5 738.8L474.0 740.1L474.6 741.4L475.1 742.8L475.6 744.1L476.2 745.5L476.7 746.8L477.3 748.1L477.8 749.5L478.3 750.8L478.9 752.2L479.4 753.5L480.0 754.9L480.5 756.2L481.0 757.6L481.6 758.9L482.1 760.3L482.7 761.7L483.2 763.0L483.7 764.4L484.3 765.7L484.8 767.1L485.4 768.5L485.9 769.9L486.4 771.2L487.0 772.6L487.5 774.0L488.1 775.4L488.6 776.8L489.2 778.2L489.7 779.7L490.2 781.1L490.8 782.6L491.3 784.0L491.9 785.4L492.4 786.8L492.9 788.1L493.5 789.4L494.0 790.6L494.6 791.9L495.1 793.1L495.6 794.3L496.2 795.5L496.7 796.7L497.3 797.8L497.8 799.0L498.3 800.1L498.9 801.2L499.4 802.4L500.0 803.5L500.5 804.6L501.0 805.7L501.6 806.8L502.1 807.8L502.7 808.9L503.2 810.0L503.7 811.0L504.3 812.0L504.8 813.0L505.4 814.1L505.9 815.1L506.5 816.1L507.0 817.0L507.5 818.0L508.1 819.0L508.6 819.9L509.2 820.9L509.7 821.8L510.2 822.7L510.8 823.6L511.3 824.5L511.9 825.3L512.4 826.2L512.9 827.0L513.5 827.9L514.0 828.7L514.6 829.6L515.1 830.4L515.6 831.3L516.2 832.2L516.7 833.1L517.3 833.9L517.8 834.8L518.3 835.7L518.9 836.6L519.4 837.4L520.0 838.3L520.5 839.1L521.0 839.9L521.6 840.7L522.1 841.5L522.7 842.3L523.2 843.1L523.8 843.9L524.3 844.6L524.8 845.4L525.4 846.1L525.9 846.8L526.5 847.5L527.0 848.2L527.5 848.8L528.1 849.5L528.6 850.1L529.2 850.7L529.7 851.3L530.2 852.0L530.8 852.6L531.3 853.3L531.9 854.0L532.4 854.7L532.9 855.4L533.5 856.2L534.0 857.0L534.6 857.8L535.1 858.6L535.6 859.4L536.2 860.3L536.7 861.0L537.3 861.7L537.8 862.4L538.3 863.0L538.9 863.6L539.4 864.1L540.0 864.9L540.5 865.4L541.1 865.8L541.6 866.6L542.1 866.8L542.7 867.4L543.2 868.0L543.8 868.8L544.3 869.8L544.8 870.1L545.4 871.1L545.9 871.4L546.5 871.8L547.0 872.6L547.5 873.2L548.1 873.9L548.6 874.5L549.2 874.7L549.7 875.7L550.2 875.6L550.8 876.4L551.3 876.9L551.9 877.1L552.4 877.9L552.9 878.2L553.5 879.1L554.0 879.0L554.6 879.9L555.1 880.5L555.6 880.5L556.2 881.3L556.7 881.5L557.3 881.7L557.8 882.4L558.3 882.0L558.9 882.6L559.4 882.9L560.0 883.0L560.5 883.3L561.1 882.9L561.6 883.7L562.1 883.4L562.7 884.1L563.2 884.4L563.8 884.5L564.3 885.2L564.8 885.1L565.4 885.3L565.9 885.4L566.5 886.3L567.0 886.1L567.5 885.9L568.1 886.1L568.6 885.9L569.2 886.7L569.7 886.6L570.2 886.1L570.8 885.9L571.3 886.7L571.9 886.8L572.4 886.1L572.9 886.8L573.5 886.8L574.0 886.7L574.6 886.7L575.1 887.5L575.6 888.0L576.2 887.2L576.7 887.5L577.3 887.8L577.8 887.6L578.4 887.9L578.9 887.6L579.4 887.6L580.0 887.9L580.5 888.3L581.1 888.2L581.6 888.4L582.1 888.6L582.7 889.0L583.2 889.6L583.8 889.6L584.3 890.3L584.8 890.1L585.4 890.9L585.9 891.5L586.5 891.3L587.0 892.5L587.5 892.6L588.1 893.4L588.6 893.9L589.2 894.9L589.7 895.6L590.2 895.9L590.8 895.8L591.3 896.5L591.9 895.9L592.4 896.2L592.9 896.8L593.5 896.6L594.0 896.8L594.6 896.8L595.1 896.6L595.7 896.9L596.2 896.9L596.7 897.3L597.3 897.1L597.8 897.6L598.4 897.6L598.9 897.8L599.4 897.7L600.0 898.3L600.5 898.3L601.1 898.6L601.6 899.1L602.1 899.1L602.7 899.5L603.2 899.3L603.8 899.6L604.3 899.8L604.8 900.6L605.4 899.9L605.9 900.7L606.5 900.3L607.0 900.8L607.5 900.8L608.1 900.8L608.6 900.7L609.2 900.7L609.7 901.2L610.2 901.7L610.8 901.1L611.3 901.5L611.9 901.3L612.4 901.1L613.0 901.5L613.5 902.5L614.0 902.0L614.6 901.7L615.1 901.5L615.7 901.4L616.2 900.8L616.7 900.4L617.3 900.5L617.8 900.4L618.4 900.3L618.9 900.0L619.4 900.5L620.0 900.3L620.5 900.0L621.1 900.2L621.6 899.9L622.1 900.5L622.7 900.1L623.2 900.4L623.8 900.7L624.3 900.5L624.8 900.6L625.4 900.8L625.9 900.4L626.5 900.7L627.0 900.9L627.5 901.2L628.1 900.7L628.6 900.8L629.2 901.3L629.7 900.9L630.2 900.5L630.8 901.0L631.3 900.7L631.9 901.2L632.4 900.3L633.0 900.4L633.5 900.4L634.0 901.2L634.6 899.7L635.1 900.3L635.7 900.7L636.2 900.9L636.7 900.5L637.3 901.4L637.8 901.3L638.4 901.0L638.9 900.8L639.4 902.0L640.0 901.6L640.5 900.8L641.1 901.0L641.6 901.0L642.1 901.6L642.7 901.1L643.2 901.0L643.8 900.3L644.3 900.9L644.8 900.5L645.4 901.2L645.9 900.8L646.5 900.5L647.0 900.5L647.5 900.5L648.1 900.4L648.6 900.9L649.2 900.4L649.7 900.7L650.3 901.0L650.8 900.7L651.3 901.6L651.9 901.2L652.4 900.5L653.0 901.3L653.5 900.7L654.0 900.8L654.6 900.7L655.1 901.2L655.7 901.0L656.2 900.3L656.7 901.1L657.3 900.7L657.8 901.1L658.4 901.1L658.9 900.0L659.4 900.2L660.0 899.6L660.5 899.6L661.1 899.9L661.6 899.5L662.1 898.8L662.7 898.9L663.2 898.8L663.8 898.8L664.3 899.1L664.8 898.9L665.4 899.0L665.9 899.2L666.5 898.4L667.0 898.7L667.6 898.6L668.1 898.7L668.6 899.4L669.2 899.5L669.7 899.5L670.3 900.4L670.8 900.6L671.3 901.2L671.9 900.8L672.4 901.5L673.0 901.9L673.5 901.7L674.0 901.4L674.6 901.9L675.1 901.0L675.7 901.1L676.2 900.2L676.7 901.5L677.3 900.3L677.8 900.1L678.4 900.1L678.9 899.7L679.4 900.5L680.0 900.7L680.5 900.1L681.1 900.2L681.6 900.1L682.1 899.7L682.7 900.4L683.2 900.3L683.8 900.2L684.3 900.0L684.8 899.9L685.4 900.0L685.9 900.3L686.5 900.1L687.0 900.7L687.6 901.3L688.1 901.2L688.6 900.7L689.2 900.9L689.7 901.3L690.3 901.2L690.8 901.0L691.3 900.5L691.9 900.1L692.4 900.2L693.0 899.6L693.5 899.2L694.0 899.2L694.6 898.2L695.1 897.7L695.7 897.6L696.2 897.4L696.7 896.7L697.3 896.5L697.8 896.4L698.4 897.1L698.9 896.3L699.4 895.9L700.0 896.3L700.5 896.4L701.1 896.5L701.6 897.2L702.1 897.2L702.7 897.4L703.2 897.4L703.8 896.9L704.3 897.4L704.9 898.2L705.4 897.9L705.9 897.7L706.5 898.4L707.0 897.9L707.6 898.0L708.1 898.6L708.6 897.6L709.2 898.0L709.7 897.9L710.3 897.8L710.8 898.4L711.3 898.3L711.9 898.3L712.4 898.7L713.0 897.9L713.5 898.5L714.0 898.6L714.6 898.3L715.1 898.4L715.7 897.6L716.2 898.2L716.7 898.3L717.3 898.0L717.8 897.6L718.4 897.8L718.9 897.9L719.4 898.0L720.0 898.1L720.5 898.2L721.1 898.4L721.6 898.4L722.2 898.6L722.7 898.6L723.2 899.1L723.8 899.2L724.3 898.8L724.9 899.0L725.4 899.2L725.9 898.9L726.5 899.2L727.0 898.6L727.6 899.1L728.1 899.8L728.6 899.6L729.2 898.7L729.7 899.0L730.3 899.2L730.8 899.6L731.3 900.2L731.9 899.9L732.4 899.9L733.0 899.3L733.5 899.2L734.0 899.6L734.6 898.6L735.1 899.2L735.7 899.0L736.2 899.2L736.7 899.7L737.3 899.8L737.8 899.8L738.4 900.1L738.9 900.1L739.5 900.9L740.0 901.0L740.5 901.0L741.1 900.9L741.6 901.3L742.2 901.2L742.7 901.5L743.2 902.0L743.8 902.0L744.3 902.0L744.9 902.5L745.4 902.1L745.9 902.2L746.5 902.7L747.0 902.6L747.6 902.3L748.1 902.2L748.6 902.3L749.2 902.5L749.7 902.3L750.3 902.2L750.8 902.2L751.3 902.1L751.9 902.8L752.4 901.9L753.0 901.8L753.5 901.6L754.0 902.6L754.6 901.9L755.1 902.0L755.7 902.1L756.2 901.3L756.7 900.7L757.3 901.3L757.8 900.9L758.4 901.2L758.9 901.0L759.5 901.8L760.0 901.2L760.5 901.2L761.1 901.3L761.6 901.3L762.2 902.1L762.7 901.2L763.2 901.9L763.8 901.8L764.3 902.2L764.9 902.3L765.4 902.2L765.9 901.7L766.5 902.7L767.0 902.5L767.6 902.3L768.1 902.5L768.6 902.1L769.2 902.3L769.7 901.9L770.3 902.4L770.8 902.1L771.3 902.8L771.9 902.3L772.4 902.1L773.0 902.5L773.5 902.2L774.0 901.9L774.6 902.5L775.1 902.7L775.7 902.8L776.2 902.6L776.8 902.7L777.3 903.4L777.8 903.2L778.4 903.8L778.9 903.3L779.5 904.1L780.0 904.0L780.5 904.3L781.1 904.5L781.6 904.2L782.2 905.3L782.7 904.6L783.2 905.2L783.8 905.3L784.3 904.5L784.9 905.1L785.4 905.0L785.9 905.1L786.5 904.8L787.0 904.1L787.6 904.2L788.1 904.4L788.6 904.1L789.2 904.1L789.7 904.0L790.3 903.8L790.8 903.3L791.3 904.0L791.9 904.0L792.4 903.8L793.0 904.6L793.5 904.4L794.1 904.5L794.6 905.1L795.1 904.6L795.7 904.5L796.2 905.0L796.8 904.4L797.3 905.2L797.8 904.8L798.4 904.7L798.9 904.8L799.5 904.1L800.0 904.1L800.5 904.5L801.1 904.8L801.6 904.5L802.2 904.5L802.7 903.8L803.2 903.7L803.8 904.5L804.3 903.6L804.9 904.4L805.4 903.6L805.9 903.2L806.5 903.5L807.0 903.2L807.6 903.0L808.1 902.2L808.6 902.3L809.2 903.2L809.7 902.5L810.3 901.9L810.8 902.5L811.4 903.0L811.9 902.7L812.4 902.6L813.0 902.5L813.5 902.2L814.1 902.7L814.6 902.0L815.1 901.9L815.7 901.9L816.2 901.4L816.8 901.5L817.3 901.7L817.8 901.0L818.4 900.8L818.9 900.9L819.5 900.9L820.0 900.9L820.5 900.5L821.1 900.6L821.6 901.0L822.2 900.5L822.7 900.7L823.2 900.5L823.8 900.9L824.3 901.0L824.9 900.9L825.4 899.9L825.9 901.5L826.5 901.4L827.0 899.8L827.6 901.6L828.1 901.0L828.6 901.4L829.2 901.3L829.7 901.4L830.3 900.9L830.8 901.2L831.4 901.1L831.9 900.6L832.4 901.2L833.0 901.3L833.5 901.3L834.1 900.9L834.6 900.9L835.1 900.5L835.7 900.5L836.2 900.7L836.8 900.5L837.3 900.2L837.8 900.2L838.4 900.3L838.9 901.0L839.5 900.5L840.0 900.8L840.5 900.8L841.1 899.7L841.6 900.0L842.2 900.2L842.7 899.9L843.2 899.9L843.8 900.6L844.3 900.9L844.9 900.4L845.4 900.8L845.9 900.1L846.5 900.5L847.0 900.0L847.6 900.0L848.1 900.9L848.7 900.7L849.2 900.6L849.7 900.4L850.3 900.5L850.8 900.9L851.4 901.0L851.9 900.6L852.4 900.3L853.0 901.4L853.5 901.1L854.1 901.5L854.6 901.2L855.1 901.6L855.7 901.3L856.2 901.0L856.8 900.6L857.3 900.9L857.8 901.0L858.4 901.0L858.9 901.3L859.5 901.3L860.0 901.1L860.5 901.1L861.1 901.0L861.6 901.0L862.2 901.2L862.7 901.0L863.2 901.1L863.8 901.5L864.3 901.5L864.9 901.8L865.4 901.8L866.0 901.3L866.5 901.3L867.0 901.2L867.6 901.2L868.1 902.1L868.7 900.6L869.2 901.6L869.7 901.6L870.3 901.5L870.8 901.4L871.4 901.0L871.9 901.3L872.4 901.7L873.0 901.0L873.5 901.0L874.1 901.4L874.6 901.2L875.1 901.6L875.7 901.5L876.2 901.3L876.8 901.8L877.3 901.3L877.8 901.9L878.4 901.5L878.9 901.7L879.5 901.7L880.0 901.8L880.5 901.5L881.1 901.9L881.6 901.6L882.2 901.2L882.7 901.6L883.2 900.9L883.8 900.6L884.3 900.5L884.9 900.2L885.4 899.9L886.0 899.9L886.5 899.9L887.0 899.7L887.6 899.8L888.1 899.5L888.7 899.2L889.2 899.7L889.7 899.9L890.3 899.6L890.8 899.6L891.4 899.2L891.9 899.5L892.4 899.6L893.0 900.2L893.5 900.8L894.1 900.6L894.6 900.7L895.1 900.3L895.7 901.3L896.2 901.4L896.8 901.7L897.3 902.8L897.8 902.9L898.4 902.2L898.9 902.7L899.5 903.1L900.0 903.5L900.5 903.3L901.1 903.4L901.6 902.9L902.2 902.3L902.7 902.6L903.3 903.0L903.8 902.9L904.3 902.4L904.9 902.1L905.4 902.3L906.0 901.5L906.5 900.9L907.0 901.3L907.6 900.9L908.1 900.8L908.7 900.6L909.2 900.2L909.7 900.3L910.3 900.5L910.8 900.8L911.4 900.5L911.9 900.7L912.4 900.6L913.0 900.8L913.5 901.0L914.1 900.8L914.6 900.5L915.1 900.9L915.7 900.8L916.2 900.4L916.8 900.7L917.3 901.2L917.8 900.3L918.4 901.0L918.9 900.5L919.5 900.1L920.0 900.0L920.6 900.0L921.1 900.4L921.6 900.2L922.2 900.0L922.7 899.9L923.3 900.4L923.8 900.1L924.3 900.1L924.9 899.7L925.4 900.5L926.0 899.9L926.5 900.4L927.0 899.5L927.6 899.8L928.1 899.4L928.7 899.3L929.2 899.2L929.7 899.9L930.3 898.5L930.8 899.2L931.4 899.3L931.9 899.0L932.4 898.5L933.0 898.2L933.5 899.0L934.1 898.5L934.6 899.0L935.1 899.3L935.7 900.2L936.2 899.4L936.8 899.3L937.3 899.3L937.9 900.1L938.4 899.4L938.9 898.9L939.5 898.8L940.0 899.4L940.6 899.1L941.1 898.9L941.6 898.3L942.2 898.3L942.7 898.9L943.3 898.5L943.8 898.3L944.3 898.3L944.9 898.8L945.4 899.0L946.0 898.7L946.5 898.3L947.0 898.2L947.6 898.6L948.1 898.5L948.7 898.4L949.2 898.4L949.7 898.7L950.3 898.8L950.8 898.2L951.4 898.5L951.9 898.8L952.4 898.8L953.0 899.1L953.5 899.1L954.1 898.8L954.6 898.6L955.1 898.4L955.7 899.0L956.2 898.5L956.8 898.4L957.3 898.2L957.9 898.3L958.4 898.9L958.9 898.7L959.5 898.7L960.0 898.2L960.6 899.0L961.1 898.7L961.6 899.4L962.2 899.2L962.7 899.6L963.3 899.6L963.8 899.8L964.3 899.5L964.9 899.6L965.4 900.2L966.0 899.6L966.5 899.5L967.0 899.6L967.6 899.9L968.1 899.7L968.7 899.5L969.2 899.2L969.7 899.7L970.3 899.0L970.8 899.2L971.4 898.9L971.9 898.7L972.4 898.9L973.0 897.8L973.5 898.0L974.1 898.2L974.6 898.1L975.2 898.2L975.7 898.7L976.2 897.8L976.8 898.2L977.3 898.7L977.9 897.8L978.4 897.4L978.9 897.6L979.5 897.5L980.0 897.1L980.6 897.3L981.1 897.2L981.6 897.4L982.2 897.6L982.7 897.4L983.3 897.7L983.8 897.0L984.3 897.8L984.9 897.9L985.4 897.9L986.0 897.8L986.5 898.1L987.0 897.6L987.6 897.9L988.1 897.8L988.7 897.8L989.2 897.9L989.7 898.6L990.3 898.6L990.8 898.8L991.4 898.1L991.9 899.0L992.5 898.7L993.0 898.5L993.5 898.8L994.1 898.7L994.6 898.2L995.2 898.6L995.7 898.3L996.2 898.1L996.8 898.7L997.3 898.5L997.9 898.4L998.4 898.4L998.9 898.6L999.5 898.6L1000.0 898.6L1000.6 898.3L1001.1 898.3L1001.6 899.1L1002.2 898.8L1002.7 898.8L1003.3 898.6L1003.8 899.1L1004.3 898.6L1004.9 899.1L1005.4 898.6L1006.0 898.2L1006.5 899.3L1007.0 899.5L1007.6 900.0L1008.1 898.9L1008.7 899.4L1009.2 898.5L1009.8 899.8L1010.3 899.0L1010.8 898.9L1011.4 899.0L1011.9 898.1L1012.5 899.1L1013.0 898.8L1013.5 899.6L1014.1 899.8L1014.6 900.0L1015.2 900.4L1015.7 900.0L1016.2 900.2L1016.3 900.3L1018.4 900.0L1018.9 703.2L1019.5 713.0L1020.0 723.0L1020.6 734.4L1021.1 745.2L1021.6 753.7L1022.2 761.2L1022.7 768.9L1023.3 777.8L1023.8 785.1L1024.3 789.5L1024.9 793.1L1025.4 795.9L1026.0 798.2L1026.5 800.3L1027.0 802.0L1027.6 803.6L1028.1 804.9L1028.7 806.0L1029.2 807.0L1029.8 807.8L1030.3 808.6L1030.8 809.2L1031.4 809.8L1031.9 810.3L1032.5 810.9L1033.0 811.5L1033.5 812.1L1034.1 812.8L1034.6 813.4L1035.2 813.9L1035.7 814.6L1036.2 815.0L1036.8 815.7L1037.3 816.3L1037.9 816.8L1038.4 817.5L1038.9 818.3L1039.5 819.2L1040.0 819.6L1040.6 820.5L1041.1 821.4L1041.6 822.0L1042.2 823.0L1042.7 823.4L1043.3 824.5L1043.8 825.2L1044.3 825.6L1044.9 826.5L1045.4 827.4L1046.0 827.7L1046.5 828.2L1047.1 829.1L1047.6 829.6L1048.1 830.4L1048.7 830.8L1049.2 831.4L1049.8 832.1L1050.3 832.4L1050.8 832.8L1051.4 833.7L1051.9 834.2L1052.5 834.6L1053.0 835.3L1053.5 836.1L1054.1 836.3L1054.6 836.8L1055.2 837.6L1055.7 838.1L1056.2 838.9L1056.8 839.0L1057.3 839.9L1057.9 840.0L1058.4 841.0L1058.9 841.2L1059.5 842.0L1060.0 842.0L1060.6 843.2L1061.1 843.1L1061.6 843.9L1062.2 844.7L1062.7 844.9L1063.3 845.4L1063.8 846.5L1064.4 846.8L1064.9 847.9L1065.4 848.0L1066.0 848.2L1066.5 849.7L1067.1 850.0L1067.6 851.0L1068.1 851.8L1068.7 852.2L1069.2 853.1L1069.8 853.3L1070.3 853.8L1070.8 854.4L1071.4 854.9L1071.9 855.5L1072.5 856.3L1073.0 856.7L1073.5 857.1L1074.1 856.7L1074.6 857.4L1075.2 857.0L1075.7 858.0L1076.2 858.1L1076.8 858.0L1077.3 858.5L1077.9 859.2L1078.4 858.7L1078.9 859.3L1079.5 859.0L1080.0 859.8L1080.6 860.2L1081.1 859.7L1081.7 860.5L1082.2 861.0L1082.7 860.6L1083.3 860.8L1083.8 861.1L1084.4 861.9L1084.9 861.4L1085.4 861.8L1086.0 862.8L1086.5 862.5L1087.1 863.2L1087.6 863.2L1088.1 862.7L1088.7 862.5L1089.2 863.2L1089.8 863.5L1090.3 863.4L1090.8 863.7L1091.4 863.7L1091.9 862.8L1092.5 863.8L1093.0 864.2L1093.5 864.2L1094.1 864.5L1094.6 864.5L1095.2 865.3L1095.7 865.9L1096.2 865.9L1096.8 866.3L1097.3 866.7L1097.9 867.5L1098.4 867.1L1098.9 867.6L1099.5 868.1L1100.0 868.3L1100.6 868.8L1101.1 868.1L1101.7 869.0L1102.2 869.1L1102.7 869.3L1103.3 869.6L1103.8 869.7L1104.4 870.3L1104.9 870.6L1105.4 871.4L1106.0 871.6L1106.5 871.4L1107.1 872.3L1107.6 872.3L1108.1 872.8L1108.7 872.6L1109.2 872.8L1109.8 872.4L1110.3 873.2L1110.8 872.9L1111.4 873.2L1111.9 873.8L1112.5 872.9L1113.0 873.4L1113.5 873.5L1114.1 872.8L1114.6 872.6L1115.2 873.0L1115.7 872.9L1116.2 873.2L1116.8 873.4L1117.3 873.4L1117.9 873.0L1118.4 873.2L1119.0 873.7L1119.5 873.8L1120.0 873.5L1120.6 873.7L1121.1 874.3L1121.7 873.8L1122.2 874.3L1122.7 874.8L1123.3 874.6L1123.8 874.9L1124.4 874.5L1124.9 875.0L1125.4 876.1L1126.0 875.8L1126.5 876.3L1127.1 876.6L1127.6 876.3L1128.1 876.9L1128.7 876.8L1129.2 876.9L1129.8 877.3L1130.3 877.7L1130.8 877.7L1131.4 877.5L1131.9 877.6L1132.5 877.9L1133.0 877.7L1133.5 877.7L1134.1 878.3L1134.6 878.0L1135.2 878.2L1135.7 877.6L1136.3 878.2L1136.8 878.4L1137.3 877.8L1137.9 878.3L1138.4 877.9L1139.0 878.4L1139.5 878.1L1140.0 878.1L1140.6 878.1L1141.1 878.1L1141.7 878.4L1142.2 878.5L1142.7 879.0L1143.3 879.0L1143.8 879.6L1144.4 880.3L1144.9 880.8L1145.4 881.2L1146.0 881.0L1146.5 881.7L1147.1 882.3L1147.6 882.9L1148.1 883.3L1148.7 883.0L1149.2 883.2L1149.8 883.5L1150.3 883.2L1150.8 882.9L1151.4 883.4L1151.9 883.4L1152.5 883.3L1153.0 883.7L1153.5 883.7L1154.1 884.4L1154.6 883.9L1155.2 883.8L1155.7 884.5L1156.3 883.9L1156.8 884.7L1157.3 884.2L1157.9 884.8L1158.4 884.3L1159.0 884.4L1159.5 884.5L1160.0 884.9L1160.6 884.4L1161.1 884.4L1161.7 884.3L1162.2 884.6L1162.7 883.6L1163.3 883.9L1163.8 883.3L1164.4 883.5L1164.9 882.8L1165.4 882.5L1166.0 882.6L1166.5 883.3L1167.1 883.3L1167.6 883.0L1168.1 883.2L1168.7 883.5L1169.2 883.1L1169.8 883.0L1170.3 882.7L1170.8 883.9L1171.4 883.5L1171.9 883.9L1172.5 883.9L1173.0 883.8L1173.6 883.9L1174.1 883.7L1174.6 883.6L1175.2 883.1L1175.7 883.4L1176.3 883.7L1176.8 883.6L1177.3 883.3L1177.9 883.4L1178.4 883.6L1179.0 883.1L1179.5 883.8L1180.0 883.1L1180.6 883.3L1181.1 884.1L1181.7 883.3L1182.2 883.8L1182.7 883.8L1183.3 883.7L1183.8 883.8L1184.4 884.0L1184.9 883.5L1185.4 883.3L1186.0 883.1L1186.5 883.1L1187.1 883.4L1187.6 883.2L1188.1 882.8L1188.7 882.4L1189.2 882.7L1189.8 882.5L1190.3 881.9L1190.9 881.6L1191.4 881.8L1191.9 882.0L1192.5 882.3L1193.0 882.0L1193.6 881.7L1194.1 882.3L1194.6 882.5L1195.2 882.8L1195.7 882.8L1196.3 882.8L1196.8 883.1L1197.3 884.3L1197.9 883.8L1198.4 884.3L1199.0 883.7L1199.5 883.9L1200.0 883.8L1200.6 883.8L1201.1 883.8L1201.7 884.3L1202.2 884.2L1202.7 884.4L1203.3 884.7L1203.8 884.9L1204.4 885.3L1204.9 884.9L1205.4 885.9L1206.0 885.7L1206.5 885.3L1207.1 886.1L1207.6 885.5L1208.2 885.6L1208.7 885.6L1209.2 885.7L1209.8 885.8L1210.3 885.2L1210.9 885.2L1211.4 885.0L1211.9 885.1L1212.5 884.7L1213.0 885.0L1213.6 884.1L1214.1 884.2L1214.6 884.0L1215.2 884.6L1215.7 885.2L1216.3 884.5L1216.8 885.1L1217.3 885.5L1217.9 885.5L1218.4 885.7L1219.0 885.8L1219.5 886.1L1220.0 886.6L1220.6 886.0L1221.1 886.5L1221.7 886.0L1222.2 886.0L1222.7 884.3L1223.3 885.7L1223.8 886.0L1224.4 885.6L1224.9 885.8L1225.4 885.0L1226.0 884.5L1226.5 885.4L1227.1 884.6L1227.6 885.0L1228.2 884.6L1228.7 884.5L1229.2 884.1L1229.8 884.6L1230.3 884.7L1230.9 884.6L1231.4 883.9L1231.9 884.8L1232.5 884.1L1233.0 883.9L1233.6 884.1L1234.1 884.0L1234.6 884.4L1235.2 884.9L1235.7 884.4L1236.3 884.5L1236.8 884.6L1237.3 884.6L1237.9 884.7L1238.4 884.9L1239.0 884.9L1239.5 885.1L1240.0 885.3L1240.6 885.3L1241.1 885.7L1241.7 885.1L1242.2 885.1L1242.7 884.6L1243.3 884.4L1243.8 884.4L1244.4 885.0L1244.9 884.5L1245.5 884.3L1246.0 885.6L1246.5 885.1L1247.1 885.0L1247.6 884.8L1248.2 884.2L1248.7 884.9L1249.2 884.5L1249.8 884.6L1250.3 884.0L1250.9 884.4L1251.4 883.4L1251.9 883.6L1252.5 883.6L1253.0 882.9L1253.6 883.1L1254.1 882.6L1254.6 882.6L1255.2 883.3L1255.7 881.9L1256.3 882.8L1256.8 882.5L1257.3 882.3L1257.9 882.1L1258.4 883.1L1259.0 882.1L1259.5 883.0L1260.0 882.1L1260.6 883.3L1261.1 883.5L1261.7 884.1L1262.2 885.1L1262.8 885.4L1263.3 885.7L1263.8 885.9L1264.4 886.7L1264.9 886.9L1265.5 886.4L1266.0 887.3L1266.5 887.8L1267.1 887.6L1267.6 887.8L1268.2 888.4L1268.7 887.9L1269.2 887.6L1269.8 887.7L1270.3 887.9L1270.9 887.9L1271.4 888.1L1271.9 887.6L1272.5 888.9L1273.0 888.4L1273.6 888.0L1274.1 887.7L1274.6 888.6L1275.2 887.5L1275.7 888.0L1276.3 887.5L1276.8 887.9L1277.3 887.5L1277.9 887.1L1278.4 887.1L1279.0 887.7L1279.5 887.2L1280.1 886.9L1280.6 886.9L1281.1 886.2L1281.7 887.3L1282.2 887.5L1282.8 887.6L1283.3 887.3L1283.8 887.1L1284.4 886.8L1284.9 886.8L1285.5 887.2L1286.0 887.1L1286.5 886.8L1287.1 886.2L1287.6 886.2L1288.2 885.9L1288.7 886.7L1289.2 886.3L1289.8 886.1L1290.3 886.0L1290.9 885.6L1291.4 886.2L1291.9 886.2L1292.5 885.9L1293.0 886.3L1293.6 886.5L1294.1 886.0L1294.6 886.5L1295.2 885.9L1295.7 886.1L1296.3 886.4L1296.8 886.1L1297.3 885.9L1297.9 885.7L1298.4 886.1L1299.0 885.6L1299.5 885.6L1300.1 885.4L1300.6 885.6L1301.1 885.6L1301.7 885.4L1302.2 885.6L1302.8 885.5L1303.3 886.3L1303.8 886.1L1304.4 886.4L1304.9 885.5L1305.5 885.4L1306.0 885.7L1306.5 885.4L1307.1 885.9L1307.6 886.1L1308.2 886.0L1308.7 885.6L1309.2 885.7L1309.8 885.3L1310.3 885.9L1310.9 885.9L1311.4 885.4L1311.9 885.6L1312.5 885.5L1313.0 885.2L1313.6 885.3L1314.1 885.3L1314.6 885.2L1315.2 885.5L1315.7 885.7L1316.3 885.6L1316.8 885.2L1317.4 885.2L1317.9 885.9L1318.4 886.0L1319.0 886.1L1319.5 885.9L1320.1 886.3L1320.6 886.4L1321.1 886.4L1321.7 885.7L1322.2 886.6L1322.8 886.2L1323.3 886.3L1323.8 886.0L1324.4 886.2L1324.9 886.9L1325.5 886.2L1326.0 886.9L1326.5 886.7L1327.1 887.1L1327.6 888.0L1328.2 887.2L1328.7 888.0L1329.2 887.9L1329.8 887.4L1330.3 888.4L1330.9 887.9L1331.4 888.4L1331.9 889.0L1332.5 888.7L1333.0 888.7L1333.6 889.6L1334.1 889.5L1334.7 889.3L1335.2 890.1L1335.7 889.7L1336.3 890.7L1336.8 890.0L1337.4 890.2L1337.9 890.0L1338.4 890.8L1339.0 890.4L1339.5 890.2L1340.1 889.6L1340.6 889.9L1341.1 889.1L1341.7 889.2L1342.2 888.3L1342.8 888.8L1343.3 889.1L1343.8 888.4L1344.4 887.9L1344.9 888.2L1345.5 888.4L1346.0 888.0L1346.5 887.5L1347.1 887.4L1347.6 887.6L1348.2 887.3L1348.7 886.9L1349.2 887.4L1349.8 887.1L1350.3 886.8L1350.9 887.2L1351.4 887.6L1352.0 888.0L1352.5 888.3L1353.0 888.7L1353.6 888.8L1354.1 889.4L1354.7 889.6L1355.2 889.7L1355.7 889.4L1356.3 889.4L1356.8 889.4L1357.4 888.4L1357.9 887.9L1358.4 887.3L1359.0 887.0L1359.5 886.1L1360.1 885.9L1360.6 885.5L1361.1 886.2L1361.7 886.0L1362.2 885.4L1362.8 885.9L1363.3 885.7L1363.8 886.4L1364.4 887.1L1364.9 887.2L1365.5 887.4L1366.0 887.8L1366.5 888.0L1367.1 888.4L1367.6 888.5L1368.2 888.9L1368.7 888.8L1369.2 889.0L1369.8 888.8L1370.3 888.6L1370.9 887.7L1371.4 888.0L1372.0 887.9L1372.5 887.3L1373.0 886.6L1373.6 887.1L1374.1 886.7L1374.7 887.5L1375.2 887.6L1375.7 886.6L1376.3 886.9L1376.8 887.3L1377.4 887.3L1377.9 887.7L1378.4 887.6L1379.0 887.8L1379.5 887.2L1380.1 888.0L1380.6 886.5L1381.1 886.5L1381.7 887.1L1382.2 886.7L1382.8 886.1L1383.3 886.2L1383.8 886.0L1384.4 887.1L1384.9 887.3L1385.5 887.1L1386.0 887.4L1386.5 887.3L1387.1 887.3L1387.6 887.9L1388.2 888.0L1388.7 888.0L1389.3 888.0L1389.8 888.1L1390.3 888.1L1390.9 889.1L1391.4 888.5L1392.0 889.2L1392.5 888.0L1393.0 888.4L1393.6 888.4L1394.1 888.9L1394.7 888.7L1395.2 888.7L1395.7 889.2L1396.3 888.5L1396.8 888.8L1397.4 888.4L1397.9 888.8L1398.4 888.8L1399.0 888.4L1399.5 888.7L1400.1 888.9L1400.6 888.8L1401.1 888.7L1401.7 888.2L1402.2 887.9L1402.8 888.2L1403.3 888.3L1403.8 888.5L1404.4 889.4L1404.9 888.7L1405.5 888.3L1406.0 888.6L1406.6 888.4L1407.1 888.2L1407.6 887.8L1408.2 888.1L1408.7 888.3L1409.3 888.2L1409.8 888.2L1410.3 887.8L1410.9 888.3L1411.4 888.3L1412.0 888.5L1412.5 889.2L1413.0 889.3L1413.6 888.7L1414.1 888.9L1414.7 888.8L1415.2 888.5L1415.7 889.4L1416.3 889.2L1416.8 888.3L1417.4 889.4L1417.9 889.9L1418.4 889.4L1419.0 889.2L1419.5 889.8L1420.1 889.3L1420.6 889.3L1421.1 889.3L1421.7 888.9L1422.2 889.2L1422.8 889.5L1423.3 889.4L1423.8 888.6L1424.4 889.2L1424.9 889.3L1425.5 888.8L1426.0 888.5L1426.6 888.6L1427.1 888.1L1427.6 888.2L1428.2 888.0L1428.7 887.5L1429.3 886.6L1429.8 887.8L1430.3 886.9L1430.9 886.6L1431.4 887.1L1432.0 886.1L1432.5 886.9L1433.0 886.5L1433.6 885.9L1434.1 885.7L1434.7 885.9L1435.2 885.5L1435.7 885.7L1436.3 884.6L1436.8 885.7L1437.4 885.2L1437.9 885.2L1438.4 884.9L1439.0 884.8L1439.5 884.8L1440.1 884.5L1440.6 883.9L1441.1 884.1L1441.7 882.9L1442.2 883.9L1442.8 883.1L1443.3 883.0L1443.9 882.7L1444.4 882.9L1444.9 883.7L1445.5 883.1L1446.0 882.8L1446.6 883.3L1447.1 883.4L1447.6 883.8L1448.2 883.4L1448.7 883.6L1449.3 884.0L1449.8 883.8L1450.3 884.4L1450.9 884.8L1451.4 885.2L1452.0 884.7L1452.5 884.5L1453.0 883.8L1453.6 884.2L1454.1 884.6L1454.7 884.0L1455.2 884.4L1455.7 884.0L1456.3 883.7L1456.8 884.3L1457.4 884.1L1457.9 883.6L1458.4 884.1L1459.0 883.8L1459.5 884.4L1460.1 883.9L1460.6 884.9L1461.2 884.3L1461.7 885.2L1462.2 884.6L1462.8 885.1L1463.3 884.4L1463.9 885.4L1464.4 886.1L1464.9 885.5L1465.5 886.1L1466.0 885.6L1466.6 885.7L1467.1 886.0L1467.6 885.7L1468.2 885.5L1468.7 885.0L1469.3 885.0L1469.8 884.4L1470.3 884.2L1470.9 884.7L1471.4 885.2L1472.0 885.1L1472.5 885.2L1473.0 885.3L1473.6 884.7L1474.1 885.4L1474.7 885.2L1475.2 885.0L1475.7 885.4L1476.3 885.9L1476.8 886.1L1477.4 885.6L1477.9 885.9L1478.5 886.0L1479.0 886.1L1479.5 885.7L1480.1 886.5L1480.6 886.1L1481.2 886.5L1481.7 886.6L1482.2 886.4L1482.8 886.3L1483.3 887.1L1483.9 887.1L1484.4 886.9L1484.9 886.9L1485.5 887.5L1486.0 887.0L1486.6 886.9L1487.1 887.2L1487.6 887.2L1488.2 887.8L1488.7 887.0L1489.3 887.2L1489.8 887.2L1490.3 887.4L1490.9 887.6L1491.4 887.6L1492.0 887.6L1492.5 887.6L1493.0 887.5L1493.6 887.3L1494.1 887.2L1494.7 887.2L1495.2 886.3L1495.7 886.6L1496.3 885.5L1496.8 886.6L1497.4 886.0L1497.9 886.1L1498.5 885.8L1499.0 886.1L1499.5 886.4L1500.1 885.6L1500.6 885.8L1501.2 885.6L1501.7 886.0L1502.2 885.7L1502.8 886.2L1503.3 886.1L1503.9 885.7L1504.4 886.1L1504.9 885.8L1505.5 885.6L1506.0 886.0L1506.6 885.8L1507.1 885.7L1507.6 885.7L1508.2 885.7L1508.7 886.4L1509.3 886.2L1509.8 885.7L1510.3 886.5L1510.9 886.0L1511.4 886.4L1512.0 886.7L1512.5 886.8L1513.0 886.3L1513.6 886.8L1514.1 886.9L1514.7 887.1L1515.2 886.5L1515.8 887.3L1516.3 886.7L1516.8 887.2L1517.4 887.7L1517.9 886.4L1518.5 887.0L1519.0 886.6L1519.5 887.2L1520.1 886.4L1520.6 886.4L1521.2 887.1L1521.7 887.3L1522.2 887.4L1522.8 886.8L1523.3 887.3L1523.9 887.1L1524.4 887.1L1524.9 887.4L1525.5 886.7L1526.0 887.1L1526.6 887.1L1527.1 885.8L1527.6 886.2L1528.2 886.1L1528.7 886.0L1529.3 886.4L1529.8 886.4L1530.3 886.1L1530.9 886.4L1531.4 886.3L1532.0 885.7L1532.5 885.8L1533.1 885.8L1533.6 886.0L1534.1 886.0L1534.7 885.4L1535.2 885.6L1535.8 885.2L1536.3 885.0L1536.8 884.8L1537.4 885.0L1537.9 884.7L1538.5 885.0L1539.0 884.9L1539.5 884.3L1540.1 884.4L1540.6 884.7L1541.2 885.2L1541.7 884.6L1542.2 884.7L1542.8 885.0L1543.3 884.7L1543.9 884.0L1544.4 884.3L1544.9 884.9L1545.5 884.8L1546.0 884.9L1546.6 884.5L1547.1 884.9L1547.6 884.8L1548.2 885.1L1548.7 885.2L1549.3 884.6L1549.8 885.4L1550.4 885.5L1550.9 885.2L1551.4 885.3L1552.0 885.1L1552.5 884.7L1553.1 884.5L1553.6 885.4L1554.1 885.2L1554.7 884.3L1555.2 884.7L1555.8 884.7L1556.3 884.7L1556.8 884.4L1557.4 884.5L1557.9 884.4L1558.5 884.0L1559.0 884.3" fill="none" stroke="#000000" stroke-width="4.17" stroke-linejoin="round"/>
<path d="M208.04 28.20V65.40M189.44 46.80H226.64M196.44 35.20L219.64 58.40M196.44 58.40L219.64 35.20" fill="none" stroke="#000000" stroke-width="4.17" stroke-miterlimit="10"/>
<path d="M316.16 305.53V342.73M297.56 324.13H334.76M304.56 312.53L327.76 335.73M304.56 335.73L327.76 312.53" fill="none" stroke="#000000" stroke-width="4.17" stroke-miterlimit="10"/>
<path d="M424.28 596.85V634.05M405.68 615.45H442.88M412.68 603.85L435.88 627.05M412.68 627.05L435.88 603.85" fill="none" stroke="#000000" stroke-width="4.17" stroke-miterlimit="10"/>
<path d="M532.40 836.01V873.21M513.80 854.61H551.00M520.80 843.01L544.00 866.21M520.80 866.21L544.00 843.01" fill="none" stroke="#000000" stroke-width="4.17" stroke-miterlimit="10"/>
<path d="M640.52 882.69V919.89M621.92 901.29H659.12M628.92 889.69L652.12 912.89M628.92 912.89L652.12 889.69" fill="none" stroke="#000000" stroke-width="4.17" stroke-miterlimit="10"/>
<path d="M748.64 882.69V919.89M730.04 901.29H767.24M737.04 889.69L760.24 912.89M737.04 912.89L760.24 889.69" fill="none" stroke="#000000" stroke-width="4.17" stroke-miterlimit="10"/>
<path d="M856.76 884.24V921.44M838.16 902.84H875.36M845.16 891.24L868.36 914.44M845.16 914.44L868.36 891.24" fill="none" stroke="#000000" stroke-width="4.17" stroke-miterlimit="10"/>
<path d="M964.88 880.45V917.65M946.28 899.05H983.48M953.28 887.45L976.48 910.65M953.28 910.65L976.48 887.45" fill="none" stroke="#000000" stroke-width="4.17" stroke-miterlimit="10"/>
<path d="M1073.00 837.62V874.82M1054.40 856.22H1091.60M1061.40 844.62L1084.60 867.82M1061.40 867.82L1084.60 844.62" fill="none" stroke="#000000" stroke-width="4.17" stroke-miterlimit="10"/>
<path d="M1181.12 866.06V903.26M1162.52 884.66H1199.72M1169.52 873.06L1192.72 896.26M1169.52 896.26L1192.72 873.06" fill="none" stroke="#000000" stroke-width="4.17" stroke-miterlimit="10"/>
<path d="M1289.24 867.15V904.35M1270.64 885.75H1307.84M1277.64 874.15L1300.84 897.35M1277.64 897.35L1300.84 874.15" fill="none" stroke="#000000" stroke-width="4.17" stroke-miterlimit="10"/>
<path d="M1397.36 869.73V906.93M1378.76 888.33H1415.96M1385.76 876.73L1408.96 899.93M1385.76 899.93L1408.96 876.73" fill="none" stroke="#000000" stroke-width="4.17" stroke-miterlimit="10"/>
<path d="M1505.48 867.74V904.94M1486.88 886.34H1524.08M1493.88 874.74L1517.08 897.94M1493.88 897.94L1517.08 874.74" fill="none" stroke="#000000" stroke-width="4.17" stroke-miterlimit="10"/>
</g>
<rect x="512.50" y="69.00" width="483.30" height="485.30" fill="#ffffff" stroke="#262626" stroke-width="2"/>
<path d="M525 113.50H649.8" stroke="#ff00ff" stroke-width="4.17" fill="none"/>
<polygon points="587.30,97.20 591.18,108.16 602.80,108.46 593.58,115.54 596.88,126.69 587.30,120.10 577.72,126.69 581.02,115.54 571.80,108.46 583.42,108.16" fill="none" stroke="#ff00ff" stroke-width="4.17" stroke-miterlimit="10"/>
<path d="M525 192.70H649.8" stroke="#ff0000" stroke-width="4.17" fill="none"/>
<polygon points="568.20,181.60 606.40,181.60 587.30,214.70" fill="none" stroke="#ff0000" stroke-width="4.17" stroke-miterlimit="10"/>
<path d="M525 271.90H649.8" stroke="#00ff00" stroke-width="4.17" fill="none"/>
<circle cx="585.70" cy="270.30" r="16.5" fill="none" stroke="#00ff00" stroke-width="4.17" stroke-miterlimit="10"/>
<path d="M525 351.10H649.8" stroke="#00ffff" stroke-width="4.17" fill="none"/>
<polygon points="568.20,362.20 606.40,362.20 587.30,329.10" fill="none" stroke="#00ffff" stroke-width="4.17" stroke-miterlimit="10"/>
<path d="M525 430.30H649.8" stroke="#0000ff" stroke-width="4.17" fill="none"/>
<polygon points="587.30,413.85 592.05,422.07 601.55,422.07 596.80,430.30 601.55,438.53 592.05,438.53 587.30,446.75 582.55,438.53 573.05,438.53 577.80,430.30 573.05,422.07 582.55,422.07" fill="none" stroke="#0000ff" stroke-width="4.17" stroke-miterlimit="10"/>
<path d="M525 509.50H649.8" stroke="#000000" stroke-width="4.17" fill="none"/>
<path d="M587.30 490.90V528.10M568.70 509.50H605.90M575.70 497.90L598.90 521.10M575.70 521.10L598.90 497.90" fill="none" stroke="#000000" stroke-width="4.17" stroke-miterlimit="10"/>
<g font-family='"Liberation Sans", sans-serif' font-size="57.90" fill="#000000">
<text transform="translate(659.20 137.40) scale(1 1.010)">uniform</text>
<text transform="translate(659.20 216.60) scale(1 1.010)">classic AC</text>
<text transform="translate(659.20 295.80) scale(1 1.010)">LS based</text>
<text transform="translate(659.20 375.00) scale(1 1.010)">optimal AC</text>
<text transform="translate(652.00 456.50) scale(1.200 1)" font-family='"DejaVu Sans Light", "DejaVu Sans", sans-serif' font-style="italic" font-size="50.00">γ</text>
<text transform="translate(689.8 457.80) scale(1.03 0.900)" font-family='"Liberation Serif", "DejaVu Serif", serif' font-weight="bold">=</text>
<text transform="translate(724.01 455.20) scale(1 1.020)">0, </text>
<text transform="translate(798.00 455.20) scale(1.130 1)" font-family='"Liberation Serif", "DejaVu Serif", serif' font-style="italic" font-size="58.33">λ</text>
<text transform="translate(830.4 457.80) scale(1.03 0.900)" font-family='"Liberation Serif", "DejaVu Serif", serif' font-weight="bold">=</text>
<text transform="translate(864.61 455.20) scale(1 1.020)">0</text>
<text transform="translate(652.00 535.70) scale(1.200 1)" font-family='"DejaVu Sans Light", "DejaVu Sans", sans-serif' font-style="italic" font-size="50.00">γ</text>
<text transform="translate(689.8 537.00) scale(1.03 0.900)" font-family='"Liberation Serif", "DejaVu Serif", serif' font-weight="bold">=</text>
<text transform="translate(724.01 534.40) scale(1 1.020)">0, </text>
<text transform="translate(798.00 534.40) scale(1.130 1)" font-family='"Liberation Serif", "DejaVu Serif", serif' font-style="italic" font-size="58.33">λ</text>
<text transform="translate(830.4 537.00) scale(1.03 0.900)" font-family='"Liberation Serif", "DejaVu Serif", serif' font-weight="bold">=</text>
<text transform="translate(864.61 534.40) scale(1 1.020)">0.95</text>
</g>
</svg>
</body>
</html>
